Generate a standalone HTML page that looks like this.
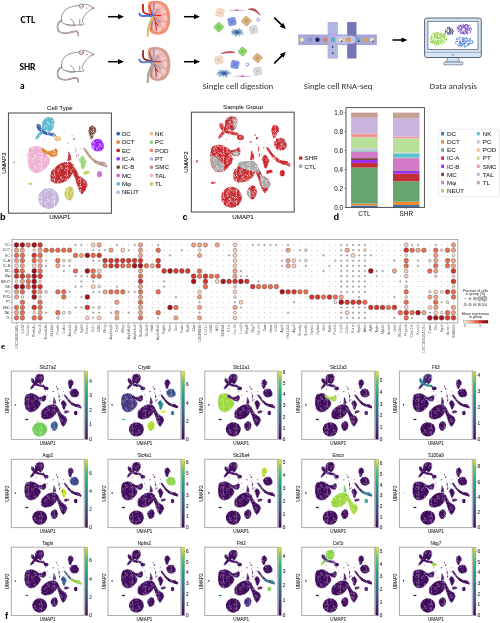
<!DOCTYPE html>
<html><head><meta charset="utf-8"><style>
html,body{margin:0;padding:0;background:#fff;overflow:hidden;width:500px;height:623px;}
svg{display:block;font-family:'Liberation Sans', Arial, sans-serif;}
</style></head><body>
<svg width="500" height="623" viewBox="0 0 500 623">
<rect width="500" height="623" fill="#fff"/>
<defs><pattern id="spkpat" patternUnits="userSpaceOnUse" width="13" height="11"><rect width="13" height="11" fill="#fff"/><circle cx="5.88" cy="6.16" r="0.53" fill="#000"/><circle cx="6.05" cy="5.59" r="0.43" fill="#000"/><circle cx="2.40" cy="5.63" r="0.44" fill="#000"/><circle cx="10.31" cy="1.04" r="0.34" fill="#000"/><circle cx="1.18" cy="8.91" r="0.46" fill="#000"/><circle cx="0.54" cy="10.80" r="0.54" fill="#000"/><circle cx="8.50" cy="6.77" r="0.30" fill="#000"/><circle cx="0.20" cy="5.81" r="0.27" fill="#000"/><circle cx="2.47" cy="2.66" r="0.26" fill="#000"/><circle cx="6.03" cy="4.85" r="0.50" fill="#000"/><circle cx="6.75" cy="7.04" r="0.40" fill="#000"/><circle cx="8.61" cy="5.03" r="0.33" fill="#000"/><circle cx="12.97" cy="10.95" r="0.50" fill="#000"/><circle cx="9.20" cy="3.47" r="0.32" fill="#000"/><circle cx="3.76" cy="0.77" r="0.48" fill="#000"/><circle cx="5.21" cy="9.31" r="0.37" fill="#000"/><circle cx="12.45" cy="9.32" r="0.25" fill="#000"/><circle cx="2.73" cy="10.01" r="0.39" fill="#000"/><circle cx="12.74" cy="4.37" r="0.27" fill="#000"/><circle cx="8.18" cy="8.56" r="0.33" fill="#000"/><circle cx="1.13" cy="3.66" r="0.54" fill="#000"/><circle cx="9.85" cy="1.30" r="0.32" fill="#000"/><circle cx="1.31" cy="0.66" r="0.49" fill="#000"/><circle cx="2.31" cy="6.15" r="0.38" fill="#000"/><circle cx="2.48" cy="8.05" r="0.29" fill="#000"/><circle cx="8.37" cy="1.28" r="0.38" fill="#000"/><circle cx="2.77" cy="2.97" r="0.54" fill="#000"/><circle cx="10.44" cy="3.35" r="0.52" fill="#000"/><circle cx="2.74" cy="4.34" r="0.51" fill="#000"/><circle cx="8.34" cy="1.10" r="0.55" fill="#000"/><circle cx="2.77" cy="2.84" r="0.48" fill="#000"/><circle cx="4.28" cy="3.26" r="0.27" fill="#000"/><circle cx="1.17" cy="6.41" r="0.32" fill="#000"/><circle cx="7.82" cy="4.09" r="0.39" fill="#000"/><circle cx="12.47" cy="5.32" r="0.42" fill="#000"/><circle cx="11.26" cy="2.01" r="0.30" fill="#000"/><circle cx="11.81" cy="9.00" r="0.32" fill="#000"/><circle cx="2.47" cy="8.13" r="0.53" fill="#000"/><circle cx="2.56" cy="10.45" r="0.51" fill="#000"/><circle cx="7.85" cy="4.64" r="0.28" fill="#000"/><circle cx="0.50" cy="10.59" r="0.32" fill="#000"/><circle cx="9.16" cy="2.83" r="0.50" fill="#000"/><circle cx="7.75" cy="3.23" r="0.30" fill="#000"/><circle cx="9.36" cy="0.76" r="0.32" fill="#000"/><circle cx="7.27" cy="9.38" r="0.43" fill="#000"/><circle cx="3.64" cy="10.09" r="0.31" fill="#000"/><circle cx="0.22" cy="2.96" r="0.38" fill="#000"/><circle cx="0.79" cy="1.94" r="0.36" fill="#000"/></pattern><mask id="spk" maskUnits="userSpaceOnUse" x="0" y="0" width="500" height="623"><rect width="500" height="623" fill="url(#spkpat)"/></mask><pattern id="spkpat2" patternUnits="userSpaceOnUse" width="13" height="11"><rect width="13" height="11" fill="#fff"/><circle cx="5.88" cy="6.16" r="0.53" fill="#777"/><circle cx="6.05" cy="5.59" r="0.43" fill="#777"/><circle cx="2.40" cy="5.63" r="0.44" fill="#777"/><circle cx="10.31" cy="1.04" r="0.34" fill="#777"/><circle cx="1.18" cy="8.91" r="0.46" fill="#777"/><circle cx="0.54" cy="10.80" r="0.54" fill="#777"/><circle cx="8.50" cy="6.77" r="0.30" fill="#777"/><circle cx="0.20" cy="5.81" r="0.27" fill="#777"/><circle cx="2.47" cy="2.66" r="0.26" fill="#777"/><circle cx="6.03" cy="4.85" r="0.50" fill="#777"/><circle cx="6.75" cy="7.04" r="0.40" fill="#777"/><circle cx="8.61" cy="5.03" r="0.33" fill="#777"/><circle cx="12.97" cy="10.95" r="0.50" fill="#777"/><circle cx="9.20" cy="3.47" r="0.32" fill="#777"/><circle cx="3.76" cy="0.77" r="0.48" fill="#777"/><circle cx="5.21" cy="9.31" r="0.37" fill="#777"/><circle cx="12.45" cy="9.32" r="0.25" fill="#777"/><circle cx="2.73" cy="10.01" r="0.39" fill="#777"/><circle cx="12.74" cy="4.37" r="0.27" fill="#777"/><circle cx="8.18" cy="8.56" r="0.33" fill="#777"/><circle cx="1.13" cy="3.66" r="0.54" fill="#777"/><circle cx="9.85" cy="1.30" r="0.32" fill="#777"/><circle cx="1.31" cy="0.66" r="0.49" fill="#777"/><circle cx="2.31" cy="6.15" r="0.38" fill="#777"/><circle cx="2.48" cy="8.05" r="0.29" fill="#777"/><circle cx="8.37" cy="1.28" r="0.38" fill="#777"/><circle cx="2.77" cy="2.97" r="0.54" fill="#777"/><circle cx="10.44" cy="3.35" r="0.52" fill="#777"/><circle cx="2.74" cy="4.34" r="0.51" fill="#777"/><circle cx="8.34" cy="1.10" r="0.55" fill="#777"/><circle cx="2.77" cy="2.84" r="0.48" fill="#777"/><circle cx="4.28" cy="3.26" r="0.27" fill="#777"/><circle cx="1.17" cy="6.41" r="0.32" fill="#777"/><circle cx="7.82" cy="4.09" r="0.39" fill="#777"/><circle cx="12.47" cy="5.32" r="0.42" fill="#777"/><circle cx="11.26" cy="2.01" r="0.30" fill="#777"/><circle cx="11.81" cy="9.00" r="0.32" fill="#777"/><circle cx="2.47" cy="8.13" r="0.53" fill="#777"/><circle cx="2.56" cy="10.45" r="0.51" fill="#777"/><circle cx="7.85" cy="4.64" r="0.28" fill="#777"/><circle cx="0.50" cy="10.59" r="0.32" fill="#777"/><circle cx="9.16" cy="2.83" r="0.50" fill="#777"/><circle cx="7.75" cy="3.23" r="0.30" fill="#777"/><circle cx="9.36" cy="0.76" r="0.32" fill="#777"/><circle cx="7.27" cy="9.38" r="0.43" fill="#777"/><circle cx="3.64" cy="10.09" r="0.31" fill="#777"/><circle cx="0.22" cy="2.96" r="0.38" fill="#777"/><circle cx="0.79" cy="1.94" r="0.36" fill="#777"/></pattern><mask id="spk2" maskUnits="userSpaceOnUse" x="0" y="0" width="500" height="623"><rect width="500" height="623" fill="url(#spkpat2)"/></mask><pattern id="gspk" patternUnits="userSpaceOnUse" width="13" height="11"><circle cx="7.44" cy="1.45" r="0.46" fill="#a8a8a8"/><circle cx="11.58" cy="10.79" r="0.55" fill="#a8a8a8"/><circle cx="8.99" cy="6.43" r="0.39" fill="#a8a8a8"/><circle cx="0.46" cy="0.20" r="0.62" fill="#a8a8a8"/><circle cx="9.11" cy="10.59" r="0.36" fill="#a8a8a8"/><circle cx="8.27" cy="5.30" r="0.57" fill="#a8a8a8"/><circle cx="4.15" cy="10.99" r="0.37" fill="#a8a8a8"/><circle cx="7.10" cy="8.11" r="0.62" fill="#a8a8a8"/><circle cx="9.58" cy="7.74" r="0.59" fill="#a8a8a8"/><circle cx="11.90" cy="3.87" r="0.56" fill="#a8a8a8"/><circle cx="11.71" cy="9.58" r="0.48" fill="#a8a8a8"/><circle cx="10.28" cy="9.50" r="0.52" fill="#a8a8a8"/><circle cx="8.12" cy="4.21" r="0.52" fill="#a8a8a8"/><circle cx="7.92" cy="0.88" r="0.54" fill="#a8a8a8"/><circle cx="12.91" cy="9.68" r="0.57" fill="#a8a8a8"/><circle cx="5.05" cy="8.09" r="0.52" fill="#a8a8a8"/><circle cx="5.73" cy="9.22" r="0.38" fill="#a8a8a8"/><circle cx="9.75" cy="0.33" r="0.53" fill="#a8a8a8"/><circle cx="6.25" cy="2.53" r="0.56" fill="#a8a8a8"/><circle cx="6.46" cy="6.76" r="0.63" fill="#a8a8a8"/><circle cx="3.33" cy="0.12" r="0.44" fill="#a8a8a8"/><circle cx="8.82" cy="2.23" r="0.40" fill="#a8a8a8"/><circle cx="11.77" cy="7.26" r="0.48" fill="#a8a8a8"/><circle cx="11.59" cy="3.60" r="0.55" fill="#a8a8a8"/><circle cx="2.58" cy="4.74" r="0.59" fill="#a8a8a8"/><circle cx="11.88" cy="9.68" r="0.47" fill="#a8a8a8"/><circle cx="7.58" cy="3.48" r="0.39" fill="#a8a8a8"/><circle cx="6.45" cy="9.21" r="0.60" fill="#a8a8a8"/><circle cx="9.25" cy="10.45" r="0.43" fill="#a8a8a8"/><circle cx="2.20" cy="4.96" r="0.43" fill="#a8a8a8"/></pattern></defs>
<g mask="url(#spk)"><ellipse cx="48.63" cy="198.47" rx="10.50" ry="10.52" fill="#c4b2dc"/><polygon points="30.1,147.6 35.3,146.1 40.4,146.6 43.0,149.1 45.5,153.1 48.6,157.1 49.7,160.1 48.6,164.1 45.5,168.1 41.4,171.6 36.3,172.8 32.2,171.8 29.1,168.1 27.6,162.1 27.6,154.1 28.6,150.1" fill="#eeb0d0" stroke="#eeb0d0" stroke-width="0.9" stroke-dasharray="0.01 1.1" stroke-linecap="round"/><polygon points="51.7,171.1 55.8,167.1 60.0,164.1 64.1,162.6 70.2,162.1 73.8,165.6 74.4,169.1 72.3,173.1 70.2,177.1 66.1,181.1 60.0,183.1 54.8,183.1 51.2,181.1 50.7,175.1" fill="#c0262c" stroke="#c0262c" stroke-width="0.9" stroke-dasharray="0.01 1.1" stroke-linecap="round"/><polygon points="73.3,166.1 76.4,171.1 79.0,176.1 85.7,180.6 87.2,185.1 85.2,190.2 82.1,194.2 79.5,191.2 77.4,185.1 75.9,180.1 74.4,176.1 72.3,171.1" fill="#c0262c" stroke="#c0262c" stroke-width="0.9" stroke-dasharray="0.01 1.1" stroke-linecap="round"/><polygon points="68.7,152.1 70.2,155.1 71.3,160.1 67.7,160.6 68.2,156.1" fill="#c0262c" stroke="#c0262c" stroke-width="0.9" stroke-dasharray="0.01 1.1" stroke-linecap="round"/><polygon points="41.4,148.1 44.5,149.1 47.6,151.6 51.7,151.1 55.8,148.6 57.4,150.1 56.9,155.1 54.8,157.1 50.7,156.6 47.6,154.1 44.5,153.1 41.4,151.1" fill="#e8822a" stroke="#e8822a" stroke-width="0.9" stroke-dasharray="0.01 1.1" stroke-linecap="round"/><polygon points="44.5,119.0 47.6,117.5 52.7,118.0 54.3,121.0 53.8,126.0 51.7,130.0 49.7,132.0 46.6,129.5 42.5,133.0 38.3,138.1 35.8,139.3 36.3,136.5 40.4,131.0 42.5,127.0 42.5,122.0" fill="#5ab8d0" stroke="#5ab8d0" stroke-width="0.9" stroke-dasharray="0.01 1.1" stroke-linecap="round"/><polygon points="37.3,124.0 40.4,125.0 41.4,129.0 44.5,131.5 49.7,133.0 53.8,133.5 56.0,135.2 54.8,136.5 50.7,135.5 45.5,134.5 41.4,132.5 38.3,130.0 36.8,127.0" fill="#2c5fb0" stroke="#2c5fb0" stroke-width="0.9" stroke-dasharray="0.01 1.1" stroke-linecap="round"/><ellipse cx="57.69" cy="138.45" rx="3.40" ry="2.71" fill="#f0c080"/><polygon points="89.8,127.0 92.9,125.5 95.5,128.0 96.0,132.0 93.9,134.0 92.9,138.1 90.8,138.9 89.8,135.0 88.8,131.0" fill="#7a4a3c" stroke="#7a4a3c" stroke-width="0.9" stroke-dasharray="0.01 1.1" stroke-linecap="round"/><polygon points="93.9,140.1 98.0,139.1 101.1,140.1 103.2,144.1 103.7,148.1 101.1,150.6 97.0,151.1 93.9,150.1 91.8,147.1 91.3,143.1" fill="#9a22ff" stroke="#9a22ff" stroke-width="0.9" stroke-dasharray="0.01 1.1" stroke-linecap="round"/><polygon points="83.6,148.1 85.2,148.6 89.8,155.1 94.9,160.1 99.1,162.1 104.2,162.6 107.1,165.1 106.8,167.1 104.2,166.1 99.1,164.6 93.9,162.1 88.8,157.1 84.1,150.1" fill="#b89488" stroke="#b89488" stroke-width="0.9" stroke-dasharray="0.01 1.1" stroke-linecap="round"/><polygon points="93.9,158.6 94.9,160.1 99.1,162.1 104.2,162.6 107.1,165.1 106.8,167.1 104.2,166.1 99.1,164.6 93.9,162.1 92.4,160.1" fill="#b89488" stroke="#b89488" stroke-width="0.9" stroke-dasharray="0.01 1.1" stroke-linecap="round"/><polygon points="80.5,157.1 82.6,156.1 84.6,158.1 86.2,162.1 84.6,166.1 83.1,169.6 81.6,168.1 80.5,163.1 79.0,160.1" fill="#90d870" stroke="#90d870" stroke-width="0.9" stroke-dasharray="0.01 1.1" stroke-linecap="round"/><polygon points="83.6,172.1 86.7,171.1 89.5,171.6 89.3,173.1 86.7,174.1 84.1,174.7" fill="#c8c860" stroke="#c8c860" stroke-width="0.9" stroke-dasharray="0.01 1.1" stroke-linecap="round"/><ellipse cx="99.46" cy="174.32" rx="2.47" ry="3.31" fill="#cf6ccf"/><polygon points="66.1,189.2 69.2,186.6 72.3,187.6 73.8,192.2 72.8,197.2 70.2,200.2 67.2,199.7 65.1,196.2 64.6,192.2" fill="#c8c860" stroke="#c8c860" stroke-width="0.9" stroke-dasharray="0.01 1.1" stroke-linecap="round"/><ellipse cx="30.31" cy="183.84" rx="2.47" ry="1.10" fill="#c8c860"/><ellipse cx="14.26" cy="162.40" rx="1.03" ry="1.30" fill="#a9c0e8"/><ellipse cx="67.77" cy="143.06" rx="1.03" ry="0.80" fill="#ee8a88"/><ellipse cx="74.05" cy="139.05" rx="1.03" ry="1.20" fill="#b89488"/><ellipse cx="78.47" cy="155.08" rx="0.62" ry="0.60" fill="#9a22ff"/><ellipse cx="80.94" cy="148.57" rx="0.72" ry="0.50" fill="#cf6ccf"/><ellipse cx="72.20" cy="135.85" rx="0.82" ry="0.80" fill="#c8a0a0"/><ellipse cx="75.90" cy="150.07" rx="0.45" ry="3.01" fill="#c8a0a0"/><ellipse cx="76.41" cy="156.09" rx="0.51" ry="2.00" fill="#c8a0a0"/><ellipse cx="80.53" cy="160.09" rx="0.45" ry="1.00" fill="#c8a0a0"/><ellipse cx="72.20" cy="166.11" rx="0.62" ry="0.60" fill="#c8a0a0"/><ellipse cx="63.04" cy="157.09" rx="0.45" ry="0.45" fill="#c8a0a0"/><ellipse cx="74.36" cy="145.06" rx="0.45" ry="0.45" fill="#c8a0a0"/><ellipse cx="59.95" cy="148.07" rx="0.45" ry="0.45" fill="#c8a0a0"/><ellipse cx="56.86" cy="143.06" rx="0.45" ry="0.45" fill="#c8a0a0"/><ellipse cx="43.49" cy="140.05" rx="0.51" ry="0.50" fill="#c8a0a0"/><ellipse cx="82.59" cy="143.06" rx="0.45" ry="0.45" fill="#c8a0a0"/><ellipse cx="70.24" cy="199.17" rx="0.51" ry="0.50" fill="#c8a0a0"/><ellipse cx="53.78" cy="176.13" rx="0.45" ry="0.45" fill="#c8a0a0"/><ellipse cx="45.54" cy="186.15" rx="0.45" ry="0.45" fill="#c8a0a0"/></g><rect x="8.50" y="113.00" width="102.90" height="100.20" fill="none" stroke="#555" stroke-width="1.1"/>
<text x="59.90" y="109.80" font-size="6.2" text-anchor="middle" fill="#1a1a1a" stroke="#1a1a1a" stroke-width="0.06">Cell Type</text>
<text x="59.90" y="219.20" font-size="6.2" text-anchor="middle" fill="#000" stroke="#000" stroke-width="0.05">UMAP1</text>
<text x="5.60" y="163.00" font-size="6.2" text-anchor="middle" fill="#000" stroke="#000" stroke-width="0.05" transform="rotate(-90 5.60 163.00)">UMAP2</text>
<text x="0.00" y="220.00" font-size="9.2" text-anchor="start" fill="#000" font-weight="bold">b</text>
<circle cx="118.2" cy="133.70" r="1.85" fill="#2c5fb0"/>
<text x="121.90" y="135.90" font-size="6.2" text-anchor="start" fill="#1a1a1a" stroke="#1a1a1a" stroke-width="0.05">DC</text>
<circle cx="118.2" cy="142.05" r="1.85" fill="#e8822a"/>
<text x="121.90" y="144.25" font-size="6.2" text-anchor="start" fill="#1a1a1a" stroke="#1a1a1a" stroke-width="0.05">DCT</text>
<circle cx="118.2" cy="150.40" r="1.85" fill="#c0262c"/>
<text x="121.90" y="152.60" font-size="6.2" text-anchor="start" fill="#1a1a1a" stroke="#1a1a1a" stroke-width="0.05">EC</text>
<circle cx="118.2" cy="158.75" r="1.85" fill="#9a22ff"/>
<text x="121.90" y="160.95" font-size="6.2" text-anchor="start" fill="#1a1a1a" stroke="#1a1a1a" stroke-width="0.05">IC-A</text>
<circle cx="118.2" cy="167.10" r="1.85" fill="#7a4a3c"/>
<text x="121.90" y="169.30" font-size="6.2" text-anchor="start" fill="#1a1a1a" stroke="#1a1a1a" stroke-width="0.05">IC-B</text>
<circle cx="118.2" cy="175.45" r="1.85" fill="#cf6ccf"/>
<text x="121.90" y="177.65" font-size="6.2" text-anchor="start" fill="#1a1a1a" stroke="#1a1a1a" stroke-width="0.05">MC</text>
<circle cx="118.2" cy="183.80" r="1.85" fill="#5ab8d0"/>
<text x="121.90" y="186.00" font-size="6.2" text-anchor="start" fill="#1a1a1a" stroke="#1a1a1a" stroke-width="0.05">Mφ</text>
<circle cx="118.2" cy="192.15" r="1.85" fill="#a9c0e8"/>
<text x="121.90" y="194.35" font-size="6.2" text-anchor="start" fill="#1a1a1a" stroke="#1a1a1a" stroke-width="0.05">NEUT</text>
<circle cx="151.4" cy="133.70" r="1.85" fill="#f0c080"/>
<text x="155.10" y="135.90" font-size="6.2" text-anchor="start" fill="#1a1a1a" stroke="#1a1a1a" stroke-width="0.05">NK</text>
<circle cx="151.4" cy="142.05" r="1.85" fill="#90d870"/>
<text x="155.10" y="144.25" font-size="6.2" text-anchor="start" fill="#1a1a1a" stroke="#1a1a1a" stroke-width="0.05">PC</text>
<circle cx="151.4" cy="150.40" r="1.85" fill="#ee8a88"/>
<text x="155.10" y="152.60" font-size="6.2" text-anchor="start" fill="#1a1a1a" stroke="#1a1a1a" stroke-width="0.05">POD</text>
<circle cx="151.4" cy="158.75" r="1.85" fill="#c4b2dc"/>
<text x="155.10" y="160.95" font-size="6.2" text-anchor="start" fill="#1a1a1a" stroke="#1a1a1a" stroke-width="0.05">PT</text>
<circle cx="151.4" cy="167.10" r="1.85" fill="#b89488"/>
<text x="155.10" y="169.30" font-size="6.2" text-anchor="start" fill="#1a1a1a" stroke="#1a1a1a" stroke-width="0.05">SMC</text>
<circle cx="151.4" cy="175.45" r="1.85" fill="#eeb0d0"/>
<text x="155.10" y="177.65" font-size="6.2" text-anchor="start" fill="#1a1a1a" stroke="#1a1a1a" stroke-width="0.05">TAL</text>
<circle cx="151.4" cy="183.80" r="1.85" fill="#c8c860"/>
<text x="155.10" y="186.00" font-size="6.2" text-anchor="start" fill="#1a1a1a" stroke="#1a1a1a" stroke-width="0.05">TL</text>
<g mask="url(#spk)"><ellipse cx="231.49" cy="197.33" rx="10.49" ry="10.48" fill="#cc2229"/><polygon points="213.0,146.6 218.1,145.1 223.3,145.6 225.8,148.1 228.4,152.1 231.5,156.1 232.5,159.1 231.5,163.1 228.4,167.1 224.3,170.6 219.2,171.8 215.0,170.8 212.0,167.1 210.5,161.1 210.5,153.1 211.4,149.1" fill="#cc2229" stroke="#cc2229" stroke-width="0.9" stroke-dasharray="0.01 1.1" stroke-linecap="round"/><polygon points="234.6,170.1 238.7,166.1 242.8,163.1 246.9,161.6 253.1,161.1 256.7,164.6 257.2,168.1 255.1,172.1 253.1,176.1 249.0,180.1 242.8,182.1 237.7,182.1 234.1,180.1 233.5,174.1" fill="#cc2229" stroke="#cc2229" stroke-width="0.9" stroke-dasharray="0.01 1.1" stroke-linecap="round"/><polygon points="256.2,165.1 259.2,170.1 261.8,175.1 268.5,179.6 270.0,184.1 268.0,189.0 264.9,193.0 262.3,190.0 260.3,184.1 258.7,179.1 257.2,175.1 255.1,170.1" fill="#cc2229" stroke="#cc2229" stroke-width="0.9" stroke-dasharray="0.01 1.1" stroke-linecap="round"/><polygon points="251.5,151.1 253.1,154.1 254.1,159.1 250.5,159.6 251.0,155.1" fill="#cc2229" stroke="#cc2229" stroke-width="0.9" stroke-dasharray="0.01 1.1" stroke-linecap="round"/><polygon points="224.3,147.1 227.4,148.1 230.5,150.6 234.6,150.1 238.7,147.6 240.2,149.1 239.7,154.1 237.7,156.1 233.5,155.6 230.5,153.1 227.4,152.1 224.3,150.1" fill="#cc2229" stroke="#cc2229" stroke-width="0.9" stroke-dasharray="0.01 1.1" stroke-linecap="round"/><polygon points="227.4,118.2 230.5,116.7 235.6,117.2 237.1,120.2 236.6,125.2 234.6,129.2 232.5,131.2 229.4,128.7 225.3,132.2 221.2,137.2 218.6,138.3 219.2,135.7 223.3,130.2 225.3,126.2 225.3,121.2" fill="#cc2229" stroke="#cc2229" stroke-width="0.9" stroke-dasharray="0.01 1.1" stroke-linecap="round"/><polygon points="220.2,123.2 223.3,124.2 224.3,128.2 227.4,130.7 232.5,132.2 236.6,132.7 238.9,134.4 237.7,135.7 233.5,134.7 228.4,133.7 224.3,131.7 221.2,129.2 219.7,126.2" fill="#cc2229" stroke="#cc2229" stroke-width="0.9" stroke-dasharray="0.01 1.1" stroke-linecap="round"/><ellipse cx="240.54" cy="137.55" rx="3.39" ry="2.69" fill="#cc2229"/><polygon points="272.6,126.2 275.7,124.7 278.3,127.2 278.8,131.2 276.7,133.2 275.7,137.2 273.6,137.9 272.6,134.2 271.6,130.2" fill="#cc2229" stroke="#cc2229" stroke-width="0.9" stroke-dasharray="0.01 1.1" stroke-linecap="round"/><polygon points="276.7,139.1 280.8,138.1 283.9,139.1 286.0,143.1 286.5,147.1 283.9,149.6 279.8,150.1 276.7,149.1 274.7,146.1 274.2,142.1" fill="#cc2229" stroke="#cc2229" stroke-width="0.9" stroke-dasharray="0.01 1.1" stroke-linecap="round"/><polygon points="266.4,147.1 268.0,147.6 272.6,154.1 277.8,159.1 281.9,161.1 287.0,161.6 289.9,164.1 289.6,166.1 287.0,165.1 281.9,163.6 276.7,161.1 271.6,156.1 267.0,149.1" fill="#cc2229" stroke="#cc2229" stroke-width="0.9" stroke-dasharray="0.01 1.1" stroke-linecap="round"/><polygon points="276.7,157.6 277.8,159.1 281.9,161.1 287.0,161.6 289.9,164.1 289.6,166.1 287.0,165.1 281.9,163.6 276.7,161.1 275.2,159.1" fill="#cc2229" stroke="#cc2229" stroke-width="0.9" stroke-dasharray="0.01 1.1" stroke-linecap="round"/><polygon points="263.4,156.1 265.4,155.1 267.5,157.1 269.0,161.1 267.5,165.1 265.9,168.6 264.4,167.1 263.4,162.1 261.8,159.1" fill="#cc2229" stroke="#cc2229" stroke-width="0.9" stroke-dasharray="0.01 1.1" stroke-linecap="round"/><polygon points="266.4,171.1 269.5,170.1 272.3,170.6 272.1,172.1 269.5,173.1 267.0,173.7" fill="#cc2229" stroke="#cc2229" stroke-width="0.9" stroke-dasharray="0.01 1.1" stroke-linecap="round"/><ellipse cx="282.28" cy="173.28" rx="2.47" ry="3.29" fill="#cc2229"/><polygon points="249.0,188.0 252.1,185.6 255.1,186.6 256.7,191.0 255.7,196.0 253.1,199.0 250.0,198.5 247.9,195.0 247.4,191.0" fill="#cc2229" stroke="#cc2229" stroke-width="0.9" stroke-dasharray="0.01 1.1" stroke-linecap="round"/><ellipse cx="213.19" cy="182.76" rx="2.47" ry="1.10" fill="#cc2229"/><ellipse cx="197.16" cy="161.40" rx="1.03" ry="1.30" fill="#cc2229"/><ellipse cx="250.61" cy="142.14" rx="1.03" ry="0.80" fill="#cc2229"/><ellipse cx="256.88" cy="138.15" rx="1.03" ry="1.20" fill="#cc2229"/><ellipse cx="261.30" cy="154.12" rx="0.62" ry="0.60" fill="#cc2229"/><ellipse cx="263.77" cy="147.63" rx="0.72" ry="0.50" fill="#cc2229"/><ellipse cx="255.03" cy="134.95" rx="0.82" ry="0.80" fill="#cc2229"/><ellipse cx="258.73" cy="149.13" rx="0.45" ry="2.99" fill="#cc2229"/><ellipse cx="259.25" cy="155.11" rx="0.51" ry="2.00" fill="#cc2229"/><ellipse cx="263.36" cy="159.11" rx="0.45" ry="1.00" fill="#cc2229"/><ellipse cx="255.03" cy="165.09" rx="0.62" ry="0.60" fill="#cc2229"/><ellipse cx="245.88" cy="156.11" rx="0.45" ry="0.45" fill="#cc2229"/><ellipse cx="257.19" cy="144.14" rx="0.45" ry="0.45" fill="#cc2229"/><ellipse cx="242.80" cy="147.13" rx="0.45" ry="0.45" fill="#cc2229"/><ellipse cx="239.72" cy="142.14" rx="0.45" ry="0.45" fill="#cc2229"/><ellipse cx="226.35" cy="139.15" rx="0.51" ry="0.50" fill="#cc2229"/><ellipse cx="265.42" cy="142.14" rx="0.45" ry="0.45" fill="#cc2229"/><ellipse cx="253.08" cy="198.03" rx="0.51" ry="0.50" fill="#cc2229"/><ellipse cx="236.63" cy="175.07" rx="0.45" ry="0.45" fill="#cc2229"/><ellipse cx="228.41" cy="185.05" rx="0.45" ry="0.45" fill="#cc2229"/><polygon points="232.5,117.2 235.6,118.2 237.1,122.2 236.6,127.2 234.1,129.2 233.0,124.2" fill="#a8a8a8"/><polygon points="210.9,155.1 214.5,156.1 218.1,158.6 221.2,161.1 224.3,165.6 222.2,171.1 217.1,171.6 213.0,169.1 210.9,162.1" fill="#a8a8a8"/><polygon points="238.7,162.1 246.9,160.9 253.1,160.9 256.7,164.6 259.2,170.1 258.7,174.1 256.2,172.1 253.1,171.6 249.0,170.6 244.9,169.1 240.7,167.6 237.7,165.1" fill="#a8a8a8"/><polygon points="259.8,174.1 263.4,176.6 268.5,179.6 270.0,184.1 268.5,188.0 264.4,188.5 260.8,184.1" fill="#a8a8a8"/><polygon points="232.5,152.1 237.7,151.1 239.7,153.1 237.7,156.1 233.5,155.6" fill="#a8a8a8"/><polygon points="247.4,191.0 249.0,189.0 251.5,192.0 251.0,198.0 248.5,196.0" fill="#a8a8a8"/><ellipse cx="231.49" cy="197.33" rx="10.49" ry="10.48" fill="url(#gspk)"/><polygon points="227.4,118.2 230.5,116.7 235.6,117.2 237.1,120.2 236.6,125.2 234.6,129.2 232.5,131.2 229.4,128.7 225.3,132.2 221.2,137.2 218.6,138.3 219.2,135.7 223.3,130.2 225.3,126.2 225.3,121.2" fill="url(#gspk)"/><polygon points="213.0,146.6 218.1,145.1 223.3,145.6 225.8,148.1 228.4,152.1 231.5,156.1 232.5,159.1 231.5,163.1 228.4,167.1 224.3,170.6 219.2,171.8 215.0,170.8 212.0,167.1 210.5,161.1 210.5,153.1 211.4,149.1" fill="url(#gspk)"/><polygon points="234.6,170.1 238.7,166.1 242.8,163.1 246.9,161.6 253.1,161.1 256.7,164.6 257.2,168.1 255.1,172.1 253.1,176.1 249.0,180.1 242.8,182.1 237.7,182.1 234.1,180.1 233.5,174.1" fill="url(#gspk)"/><polygon points="276.7,139.1 280.8,138.1 283.9,139.1 286.0,143.1 286.5,147.1 283.9,149.6 279.8,150.1 276.7,149.1 274.7,146.1 274.2,142.1" fill="url(#gspk)"/><polygon points="249.0,188.0 252.1,185.6 255.1,186.6 256.7,191.0 255.7,196.0 253.1,199.0 250.0,198.5 247.9,195.0 247.4,191.0" fill="url(#gspk)"/><polygon points="224.3,147.1 227.4,148.1 230.5,150.6 234.6,150.1 238.7,147.6 240.2,149.1 239.7,154.1 237.7,156.1 233.5,155.6 230.5,153.1 227.4,152.1 224.3,150.1" fill="url(#gspk)"/></g><rect x="191.40" y="112.20" width="102.80" height="99.80" fill="none" stroke="#555" stroke-width="1.1"/>
<text x="243.00" y="109.20" font-size="6.2" text-anchor="middle" fill="#1a1a1a" stroke="#1a1a1a" stroke-width="0.06">Sample Group</text>
<text x="243.00" y="218.60" font-size="6.2" text-anchor="middle" fill="#000" stroke="#000" stroke-width="0.05">UMAP1</text>
<text x="187.80" y="162.00" font-size="6.2" text-anchor="middle" fill="#000" stroke="#000" stroke-width="0.05" transform="rotate(-90 187.80 162.00)">UMAP2</text>
<text x="182.40" y="220.00" font-size="9.2" text-anchor="start" fill="#000" font-weight="bold">c</text>
<circle cx="300.7" cy="158" r="1.85" fill="#cc2229"/>
<text x="304.60" y="160.30" font-size="6.2" text-anchor="start" fill="#1a1a1a" stroke="#1a1a1a" stroke-width="0.05">SHR</text>
<circle cx="300.7" cy="166.2" r="1.85" fill="#a8a8a8"/>
<text x="304.60" y="168.50" font-size="6.2" text-anchor="start" fill="#1a1a1a" stroke="#1a1a1a" stroke-width="0.05">CTL</text>
<rect x="351.1" y="205.50" width="26.6" height="1.90" fill="#3a6fb5"/><rect x="351.1" y="203.61" width="26.6" height="1.90" fill="#ee8a30"/><rect x="351.1" y="167.58" width="26.6" height="36.02" fill="#66a46e"/><rect x="351.1" y="163.03" width="26.6" height="4.55" fill="#c03035"/><rect x="351.1" y="160.00" width="26.6" height="3.03" fill="#9a30f0"/><rect x="351.1" y="158.10" width="26.6" height="1.90" fill="#7a4a3c"/><rect x="351.1" y="151.94" width="26.6" height="6.16" fill="#d07ac8"/><rect x="351.1" y="151.28" width="26.6" height="0.66" fill="#b8c070"/><rect x="351.1" y="150.33" width="26.6" height="0.95" fill="#5cbfd0"/><rect x="351.1" y="148.43" width="26.6" height="1.90" fill="#b4c8ea"/><rect x="351.1" y="148.06" width="26.6" height="0.38" fill="#f0c080"/><rect x="351.1" y="137.25" width="26.6" height="10.81" fill="#b8e098"/><rect x="351.1" y="133.65" width="26.6" height="3.60" fill="#f09898"/><rect x="351.1" y="117.81" width="26.6" height="15.83" fill="#c8b4dc"/><rect x="351.1" y="112.60" width="26.6" height="5.21" fill="#c4a098"/><rect x="393.0" y="205.03" width="26.5" height="2.37" fill="#3a6fb5"/><rect x="393.0" y="201.71" width="26.5" height="3.32" fill="#ee8a30"/><rect x="393.0" y="181.33" width="26.5" height="20.38" fill="#66a46e"/><rect x="393.0" y="173.75" width="26.5" height="7.58" fill="#c03035"/><rect x="393.0" y="170.90" width="26.5" height="2.84" fill="#9a30f0"/><rect x="393.0" y="170.43" width="26.5" height="0.47" fill="#7a4a3c"/><rect x="393.0" y="158.10" width="26.5" height="12.32" fill="#d07ac8"/><rect x="393.0" y="157.63" width="26.5" height="0.47" fill="#b8c070"/><rect x="393.0" y="153.36" width="26.5" height="4.27" fill="#5cbfd0"/><rect x="393.0" y="152.89" width="26.5" height="0.47" fill="#b4c8ea"/><rect x="393.0" y="152.61" width="26.5" height="0.28" fill="#f0c080"/><rect x="393.0" y="138.39" width="26.5" height="14.22" fill="#b8e098"/><rect x="393.0" y="136.77" width="26.5" height="1.61" fill="#f09898"/><rect x="393.0" y="118.29" width="26.5" height="18.49" fill="#c8b4dc"/><rect x="393.0" y="112.60" width="26.5" height="5.69" fill="#c4a098"/><line x1="364.4" x2="364.4" y1="207.4" y2="209.0" stroke="#444" stroke-width="0.6"/><line x1="406.3" x2="406.3" y1="207.4" y2="209.0" stroke="#444" stroke-width="0.6"/><rect x="346" y="107.6" width="78.4" height="99.8" fill="none" stroke="#444" stroke-width="0.9"/>
<text x="343.00" y="209.60" font-size="6.3" text-anchor="end" fill="#1a1a1a" stroke="#1a1a1a" stroke-width="0.05">0.0</text>
<line x1="344.5" x2="346" y1="207.40" y2="207.40" stroke="#444" stroke-width="0.6"/>
<text x="343.00" y="190.64" font-size="6.3" text-anchor="end" fill="#1a1a1a" stroke="#1a1a1a" stroke-width="0.05">0.2</text>
<line x1="344.5" x2="346" y1="188.44" y2="188.44" stroke="#444" stroke-width="0.6"/>
<text x="343.00" y="171.68" font-size="6.3" text-anchor="end" fill="#1a1a1a" stroke="#1a1a1a" stroke-width="0.05">0.4</text>
<line x1="344.5" x2="346" y1="169.48" y2="169.48" stroke="#444" stroke-width="0.6"/>
<text x="343.00" y="152.72" font-size="6.3" text-anchor="end" fill="#1a1a1a" stroke="#1a1a1a" stroke-width="0.05">0.6</text>
<line x1="344.5" x2="346" y1="150.52" y2="150.52" stroke="#444" stroke-width="0.6"/>
<text x="343.00" y="133.76" font-size="6.3" text-anchor="end" fill="#1a1a1a" stroke="#1a1a1a" stroke-width="0.05">0.8</text>
<line x1="344.5" x2="346" y1="131.56" y2="131.56" stroke="#444" stroke-width="0.6"/>
<text x="343.00" y="114.80" font-size="6.3" text-anchor="end" fill="#1a1a1a" stroke="#1a1a1a" stroke-width="0.05">1.0</text>
<line x1="344.5" x2="346" y1="112.60" y2="112.60" stroke="#444" stroke-width="0.6"/>
<text x="364.40" y="216.20" font-size="6.4" text-anchor="middle" fill="#1a1a1a" stroke="#1a1a1a" stroke-width="0.05">CTL</text>
<text x="406.30" y="216.20" font-size="6.4" text-anchor="middle" fill="#1a1a1a" stroke="#1a1a1a" stroke-width="0.05">SHR</text>
<text x="333.40" y="220.20" font-size="9.2" text-anchor="start" fill="#000" font-weight="bold">d</text>
<rect x="438.4" y="129.2" width="61" height="67.2" rx="1" fill="#fff" stroke="#ddd" stroke-width="0.6"/>
<rect x="441.2" y="132.00" width="2.8" height="3.4" fill="#3a6fb5"/>
<text x="447.10" y="135.90" font-size="6.2" text-anchor="start" fill="#1a1a1a" stroke="#1a1a1a" stroke-width="0.05">DC</text>
<rect x="441.2" y="140.15" width="2.8" height="3.4" fill="#ee8a30"/>
<text x="447.10" y="144.05" font-size="6.2" text-anchor="start" fill="#1a1a1a" stroke="#1a1a1a" stroke-width="0.05">DCT</text>
<rect x="441.2" y="148.30" width="2.8" height="3.4" fill="#66a46e"/>
<text x="447.10" y="152.20" font-size="6.2" text-anchor="start" fill="#1a1a1a" stroke="#1a1a1a" stroke-width="0.05">EC</text>
<rect x="441.2" y="156.45" width="2.8" height="3.4" fill="#c03035"/>
<text x="447.10" y="160.35" font-size="6.2" text-anchor="start" fill="#1a1a1a" stroke="#1a1a1a" stroke-width="0.05">IC-A</text>
<rect x="441.2" y="164.60" width="2.8" height="3.4" fill="#9a30f0"/>
<text x="447.10" y="168.50" font-size="6.2" text-anchor="start" fill="#1a1a1a" stroke="#1a1a1a" stroke-width="0.05">IC-B</text>
<rect x="441.2" y="172.75" width="2.8" height="3.4" fill="#7a4a3c"/>
<text x="447.10" y="176.65" font-size="6.2" text-anchor="start" fill="#1a1a1a" stroke="#1a1a1a" stroke-width="0.05">MC</text>
<rect x="441.2" y="180.90" width="2.8" height="3.4" fill="#d07ac8"/>
<text x="447.10" y="184.80" font-size="6.2" text-anchor="start" fill="#1a1a1a" stroke="#1a1a1a" stroke-width="0.05">Mφ</text>
<rect x="441.2" y="189.05" width="2.8" height="3.4" fill="#b8c070"/>
<text x="447.10" y="192.95" font-size="6.2" text-anchor="start" fill="#1a1a1a" stroke="#1a1a1a" stroke-width="0.05">NEUT</text>
<rect x="476.9" y="132.00" width="2.8" height="3.4" fill="#5cbfd0"/>
<text x="482.80" y="135.90" font-size="6.2" text-anchor="start" fill="#1a1a1a" stroke="#1a1a1a" stroke-width="0.05">NK</text>
<rect x="476.9" y="140.15" width="2.8" height="3.4" fill="#b4c8ea"/>
<text x="482.80" y="144.05" font-size="6.2" text-anchor="start" fill="#1a1a1a" stroke="#1a1a1a" stroke-width="0.05">PC</text>
<rect x="476.9" y="148.30" width="2.8" height="3.4" fill="#f0c080"/>
<text x="482.80" y="152.20" font-size="6.2" text-anchor="start" fill="#1a1a1a" stroke="#1a1a1a" stroke-width="0.05">POD</text>
<rect x="476.9" y="156.45" width="2.8" height="3.4" fill="#b8e098"/>
<text x="482.80" y="160.35" font-size="6.2" text-anchor="start" fill="#1a1a1a" stroke="#1a1a1a" stroke-width="0.05">PT</text>
<rect x="476.9" y="164.60" width="2.8" height="3.4" fill="#f09898"/>
<text x="482.80" y="168.50" font-size="6.2" text-anchor="start" fill="#1a1a1a" stroke="#1a1a1a" stroke-width="0.05">SMC</text>
<rect x="476.9" y="172.75" width="2.8" height="3.4" fill="#c8b4dc"/>
<text x="482.80" y="176.65" font-size="6.2" text-anchor="start" fill="#1a1a1a" stroke="#1a1a1a" stroke-width="0.05">TAL</text>
<rect x="476.9" y="180.90" width="2.8" height="3.4" fill="#c4a098"/>
<text x="482.80" y="184.80" font-size="6.2" text-anchor="start" fill="#1a1a1a" stroke="#1a1a1a" stroke-width="0.05">TL</text>
<rect x="12" y="239.4" width="445.8" height="83.5" fill="#fff" stroke="#999" stroke-width="0.8"/><circle cx="16.50" cy="245.00" r="2.45" fill="#a8111c" stroke="#444" stroke-width="0.4"/><circle cx="22.41" cy="245.00" r="2.45" fill="#a8111c" stroke="#444" stroke-width="0.4"/><circle cx="28.31" cy="245.00" r="2.3" fill="#eb6d4e" stroke="#444" stroke-width="0.4"/><circle cx="34.22" cy="245.00" r="2.45" fill="#a8111c" stroke="#444" stroke-width="0.4"/><circle cx="40.12" cy="245.00" r="2.4" fill="#d4372a" stroke="#444" stroke-width="0.4"/><circle cx="46.03" cy="245.00" r="0.45" fill="#8a8a8a"/><circle cx="51.93" cy="245.00" r="0.45" fill="#8a8a8a"/><circle cx="57.84" cy="245.00" r="0.45" fill="#8a8a8a"/><circle cx="63.74" cy="245.00" r="0.45" fill="#8a8a8a"/><circle cx="69.65" cy="245.00" r="0.45" fill="#8a8a8a"/><circle cx="75.55" cy="245.00" r="0.8" fill="#d8cfcb" stroke="#555" stroke-width="0.4"/><circle cx="81.45" cy="245.00" r="0.8" fill="#d8cfcb" stroke="#555" stroke-width="0.4"/><circle cx="87.36" cy="245.00" r="0.45" fill="#8a8a8a"/><circle cx="93.27" cy="245.00" r="1.95" fill="#fcd2bd" stroke="#444" stroke-width="0.4"/><circle cx="99.17" cy="245.00" r="2.15" fill="#f5a182" stroke="#444" stroke-width="0.4"/><circle cx="105.08" cy="245.00" r="0.45" fill="#8a8a8a"/><circle cx="110.98" cy="245.00" r="0.45" fill="#8a8a8a"/><circle cx="116.89" cy="245.00" r="0.8" fill="#d8cfcb" stroke="#555" stroke-width="0.4"/><circle cx="122.79" cy="245.00" r="0.45" fill="#8a8a8a"/><circle cx="128.69" cy="245.00" r="0.45" fill="#8a8a8a"/><circle cx="134.60" cy="245.00" r="0.8" fill="#d8cfcb" stroke="#555" stroke-width="0.4"/><circle cx="140.50" cy="245.00" r="2.15" fill="#f5a182" stroke="#444" stroke-width="0.4"/><circle cx="146.41" cy="245.00" r="0.45" fill="#8a8a8a"/><circle cx="152.31" cy="245.00" r="0.45" fill="#8a8a8a"/><circle cx="158.22" cy="245.00" r="0.8" fill="#d8cfcb" stroke="#555" stroke-width="0.4"/><circle cx="164.12" cy="245.00" r="0.45" fill="#8a8a8a"/><circle cx="170.03" cy="245.00" r="0.45" fill="#8a8a8a"/><circle cx="175.94" cy="245.00" r="0.45" fill="#8a8a8a"/><circle cx="181.84" cy="245.00" r="0.45" fill="#8a8a8a"/><circle cx="187.75" cy="245.00" r="0.45" fill="#8a8a8a"/><circle cx="193.65" cy="245.00" r="2.15" fill="#f5a182" stroke="#444" stroke-width="0.4"/><circle cx="199.56" cy="245.00" r="2.15" fill="#f5a182" stroke="#444" stroke-width="0.4"/><circle cx="205.46" cy="245.00" r="2.15" fill="#f5a182" stroke="#444" stroke-width="0.4"/><circle cx="211.37" cy="245.00" r="0.45" fill="#8a8a8a"/><circle cx="217.27" cy="245.00" r="2.15" fill="#f5a182" stroke="#444" stroke-width="0.4"/><circle cx="223.18" cy="245.00" r="0.45" fill="#8a8a8a"/><circle cx="229.08" cy="245.00" r="0.45" fill="#8a8a8a"/><circle cx="234.99" cy="245.00" r="1.95" fill="#fcd2bd" stroke="#444" stroke-width="0.4"/><circle cx="240.89" cy="245.00" r="0.45" fill="#8a8a8a"/><circle cx="246.80" cy="245.00" r="0.45" fill="#8a8a8a"/><circle cx="252.70" cy="245.00" r="0.8" fill="#d8cfcb" stroke="#555" stroke-width="0.4"/><circle cx="258.61" cy="245.00" r="0.8" fill="#d8cfcb" stroke="#555" stroke-width="0.4"/><circle cx="264.51" cy="245.00" r="0.8" fill="#d8cfcb" stroke="#555" stroke-width="0.4"/><circle cx="270.42" cy="245.00" r="0.8" fill="#d8cfcb" stroke="#555" stroke-width="0.4"/><circle cx="276.32" cy="245.00" r="0.8" fill="#d8cfcb" stroke="#555" stroke-width="0.4"/><circle cx="282.23" cy="245.00" r="0.45" fill="#8a8a8a"/><circle cx="288.13" cy="245.00" r="0.8" fill="#d8cfcb" stroke="#555" stroke-width="0.4"/><circle cx="294.04" cy="245.00" r="0.45" fill="#8a8a8a"/><circle cx="299.94" cy="245.00" r="0.45" fill="#8a8a8a"/><circle cx="305.85" cy="245.00" r="0.45" fill="#8a8a8a"/><circle cx="311.75" cy="245.00" r="0.45" fill="#8a8a8a"/><circle cx="317.66" cy="245.00" r="0.45" fill="#8a8a8a"/><circle cx="323.56" cy="245.00" r="0.45" fill="#8a8a8a"/><circle cx="329.47" cy="245.00" r="0.45" fill="#8a8a8a"/><circle cx="335.37" cy="245.00" r="0.45" fill="#8a8a8a"/><circle cx="341.28" cy="245.00" r="0.8" fill="#d8cfcb" stroke="#555" stroke-width="0.4"/><circle cx="347.18" cy="245.00" r="0.8" fill="#d8cfcb" stroke="#555" stroke-width="0.4"/><circle cx="353.09" cy="245.00" r="0.8" fill="#d8cfcb" stroke="#555" stroke-width="0.4"/><circle cx="358.99" cy="245.00" r="0.8" fill="#d8cfcb" stroke="#555" stroke-width="0.4"/><circle cx="364.90" cy="245.00" r="0.8" fill="#d8cfcb" stroke="#555" stroke-width="0.4"/><circle cx="370.80" cy="245.00" r="0.45" fill="#8a8a8a"/><circle cx="376.71" cy="245.00" r="0.45" fill="#8a8a8a"/><circle cx="382.61" cy="245.00" r="0.45" fill="#8a8a8a"/><circle cx="388.52" cy="245.00" r="0.45" fill="#8a8a8a"/><circle cx="394.42" cy="245.00" r="0.45" fill="#8a8a8a"/><circle cx="400.32" cy="245.00" r="0.45" fill="#8a8a8a"/><circle cx="406.23" cy="245.00" r="1.95" fill="#fcd2bd" stroke="#444" stroke-width="0.4"/><circle cx="412.13" cy="245.00" r="0.8" fill="#d8cfcb" stroke="#555" stroke-width="0.4"/><circle cx="418.04" cy="245.00" r="0.8" fill="#d8cfcb" stroke="#555" stroke-width="0.4"/><circle cx="423.94" cy="245.00" r="0.45" fill="#8a8a8a"/><circle cx="429.85" cy="245.00" r="0.45" fill="#8a8a8a"/><circle cx="435.75" cy="245.00" r="0.8" fill="#d8cfcb" stroke="#555" stroke-width="0.4"/><circle cx="441.66" cy="245.00" r="0.45" fill="#8a8a8a"/><circle cx="447.56" cy="245.00" r="0.45" fill="#8a8a8a"/><circle cx="453.47" cy="245.00" r="2.15" fill="#f5a182" stroke="#444" stroke-width="0.4"/><circle cx="16.50" cy="250.21" r="2.15" fill="#f5a182" stroke="#444" stroke-width="0.4"/><circle cx="22.41" cy="250.21" r="2.15" fill="#f5a182" stroke="#444" stroke-width="0.4"/><circle cx="28.31" cy="250.21" r="0.45" fill="#8a8a8a"/><circle cx="34.22" cy="250.21" r="1.4" fill="#fde3d6" stroke="#444" stroke-width="0.4"/><circle cx="40.12" cy="250.21" r="2.15" fill="#f5a182" stroke="#444" stroke-width="0.4"/><circle cx="46.03" cy="250.21" r="2.3" fill="#eb6d4e" stroke="#444" stroke-width="0.4"/><circle cx="51.93" cy="250.21" r="2.3" fill="#eb6d4e" stroke="#444" stroke-width="0.4"/><circle cx="57.84" cy="250.21" r="2.3" fill="#eb6d4e" stroke="#444" stroke-width="0.4"/><circle cx="63.74" cy="250.21" r="2.3" fill="#eb6d4e" stroke="#444" stroke-width="0.4"/><circle cx="69.65" cy="250.21" r="2.3" fill="#eb6d4e" stroke="#444" stroke-width="0.4"/><circle cx="75.55" cy="250.21" r="0.45" fill="#8a8a8a"/><circle cx="81.45" cy="250.21" r="0.45" fill="#8a8a8a"/><circle cx="87.36" cy="250.21" r="0.45" fill="#8a8a8a"/><circle cx="93.27" cy="250.21" r="0.8" fill="#d8cfcb" stroke="#555" stroke-width="0.4"/><circle cx="99.17" cy="250.21" r="0.8" fill="#d8cfcb" stroke="#555" stroke-width="0.4"/><circle cx="105.08" cy="250.21" r="0.8" fill="#d8cfcb" stroke="#555" stroke-width="0.4"/><circle cx="110.98" cy="250.21" r="2.15" fill="#f5a182" stroke="#444" stroke-width="0.4"/><circle cx="116.89" cy="250.21" r="0.45" fill="#8a8a8a"/><circle cx="122.79" cy="250.21" r="1.95" fill="#fcd2bd" stroke="#444" stroke-width="0.4"/><circle cx="128.69" cy="250.21" r="0.8" fill="#d8cfcb" stroke="#555" stroke-width="0.4"/><circle cx="134.60" cy="250.21" r="0.45" fill="#8a8a8a"/><circle cx="140.50" cy="250.21" r="2.15" fill="#f5a182" stroke="#444" stroke-width="0.4"/><circle cx="146.41" cy="250.21" r="0.45" fill="#8a8a8a"/><circle cx="152.31" cy="250.21" r="0.45" fill="#8a8a8a"/><circle cx="158.22" cy="250.21" r="2.3" fill="#eb6d4e" stroke="#444" stroke-width="0.4"/><circle cx="164.12" cy="250.21" r="0.45" fill="#8a8a8a"/><circle cx="170.03" cy="250.21" r="0.45" fill="#8a8a8a"/><circle cx="175.94" cy="250.21" r="0.45" fill="#8a8a8a"/><circle cx="181.84" cy="250.21" r="0.8" fill="#d8cfcb" stroke="#555" stroke-width="0.4"/><circle cx="187.75" cy="250.21" r="0.45" fill="#8a8a8a"/><circle cx="193.65" cy="250.21" r="0.45" fill="#8a8a8a"/><circle cx="199.56" cy="250.21" r="1.4" fill="#fde3d6" stroke="#444" stroke-width="0.4"/><circle cx="205.46" cy="250.21" r="0.45" fill="#8a8a8a"/><circle cx="211.37" cy="250.21" r="0.45" fill="#8a8a8a"/><circle cx="217.27" cy="250.21" r="0.45" fill="#8a8a8a"/><circle cx="223.18" cy="250.21" r="0.45" fill="#8a8a8a"/><circle cx="229.08" cy="250.21" r="0.45" fill="#8a8a8a"/><circle cx="234.99" cy="250.21" r="1.95" fill="#fcd2bd" stroke="#444" stroke-width="0.4"/><circle cx="240.89" cy="250.21" r="0.45" fill="#8a8a8a"/><circle cx="246.80" cy="250.21" r="0.45" fill="#8a8a8a"/><circle cx="252.70" cy="250.21" r="0.45" fill="#8a8a8a"/><circle cx="258.61" cy="250.21" r="0.45" fill="#8a8a8a"/><circle cx="264.51" cy="250.21" r="0.45" fill="#8a8a8a"/><circle cx="270.42" cy="250.21" r="0.45" fill="#8a8a8a"/><circle cx="276.32" cy="250.21" r="0.45" fill="#8a8a8a"/><circle cx="282.23" cy="250.21" r="0.45" fill="#8a8a8a"/><circle cx="288.13" cy="250.21" r="2.15" fill="#f5a182" stroke="#444" stroke-width="0.4"/><circle cx="294.04" cy="250.21" r="0.45" fill="#8a8a8a"/><circle cx="299.94" cy="250.21" r="0.8" fill="#d8cfcb" stroke="#555" stroke-width="0.4"/><circle cx="305.85" cy="250.21" r="1.4" fill="#fde3d6" stroke="#444" stroke-width="0.4"/><circle cx="311.75" cy="250.21" r="0.45" fill="#8a8a8a"/><circle cx="317.66" cy="250.21" r="0.45" fill="#8a8a8a"/><circle cx="323.56" cy="250.21" r="0.45" fill="#8a8a8a"/><circle cx="329.47" cy="250.21" r="0.45" fill="#8a8a8a"/><circle cx="335.37" cy="250.21" r="0.45" fill="#8a8a8a"/><circle cx="341.28" cy="250.21" r="0.8" fill="#d8cfcb" stroke="#555" stroke-width="0.4"/><circle cx="347.18" cy="250.21" r="2.15" fill="#f5a182" stroke="#444" stroke-width="0.4"/><circle cx="353.09" cy="250.21" r="0.8" fill="#d8cfcb" stroke="#555" stroke-width="0.4"/><circle cx="358.99" cy="250.21" r="0.8" fill="#d8cfcb" stroke="#555" stroke-width="0.4"/><circle cx="364.90" cy="250.21" r="1.4" fill="#fde3d6" stroke="#444" stroke-width="0.4"/><circle cx="370.80" cy="250.21" r="0.45" fill="#8a8a8a"/><circle cx="376.71" cy="250.21" r="0.45" fill="#8a8a8a"/><circle cx="382.61" cy="250.21" r="0.45" fill="#8a8a8a"/><circle cx="388.52" cy="250.21" r="0.45" fill="#8a8a8a"/><circle cx="394.42" cy="250.21" r="0.45" fill="#8a8a8a"/><circle cx="400.32" cy="250.21" r="0.45" fill="#8a8a8a"/><circle cx="406.23" cy="250.21" r="2.4" fill="#d4372a" stroke="#444" stroke-width="0.4"/><circle cx="412.13" cy="250.21" r="2.3" fill="#eb6d4e" stroke="#444" stroke-width="0.4"/><circle cx="418.04" cy="250.21" r="2.15" fill="#f5a182" stroke="#444" stroke-width="0.4"/><circle cx="423.94" cy="250.21" r="2.3" fill="#eb6d4e" stroke="#444" stroke-width="0.4"/><circle cx="429.85" cy="250.21" r="0.45" fill="#8a8a8a"/><circle cx="435.75" cy="250.21" r="2.3" fill="#eb6d4e" stroke="#444" stroke-width="0.4"/><circle cx="441.66" cy="250.21" r="1.4" fill="#fde3d6" stroke="#444" stroke-width="0.4"/><circle cx="447.56" cy="250.21" r="2.3" fill="#eb6d4e" stroke="#444" stroke-width="0.4"/><circle cx="453.47" cy="250.21" r="2.15" fill="#f5a182" stroke="#444" stroke-width="0.4"/><circle cx="16.50" cy="255.41" r="2.3" fill="#eb6d4e" stroke="#444" stroke-width="0.4"/><circle cx="22.41" cy="255.41" r="2.3" fill="#eb6d4e" stroke="#444" stroke-width="0.4"/><circle cx="28.31" cy="255.41" r="0.45" fill="#8a8a8a"/><circle cx="34.22" cy="255.41" r="2.4" fill="#d4372a" stroke="#444" stroke-width="0.4"/><circle cx="40.12" cy="255.41" r="2.3" fill="#eb6d4e" stroke="#444" stroke-width="0.4"/><circle cx="46.03" cy="255.41" r="0.45" fill="#8a8a8a"/><circle cx="51.93" cy="255.41" r="0.45" fill="#8a8a8a"/><circle cx="57.84" cy="255.41" r="0.45" fill="#8a8a8a"/><circle cx="63.74" cy="255.41" r="0.45" fill="#8a8a8a"/><circle cx="69.65" cy="255.41" r="0.45" fill="#8a8a8a"/><circle cx="75.55" cy="255.41" r="2.3" fill="#eb6d4e" stroke="#444" stroke-width="0.4"/><circle cx="81.45" cy="255.41" r="2.15" fill="#f5a182" stroke="#444" stroke-width="0.4"/><circle cx="87.36" cy="255.41" r="2.45" fill="#a8111c" stroke="#444" stroke-width="0.4"/><circle cx="93.27" cy="255.41" r="2.3" fill="#eb6d4e" stroke="#444" stroke-width="0.4"/><circle cx="99.17" cy="255.41" r="2.4" fill="#d4372a" stroke="#444" stroke-width="0.4"/><circle cx="105.08" cy="255.41" r="0.45" fill="#8a8a8a"/><circle cx="110.98" cy="255.41" r="0.45" fill="#8a8a8a"/><circle cx="116.89" cy="255.41" r="0.45" fill="#8a8a8a"/><circle cx="122.79" cy="255.41" r="0.45" fill="#8a8a8a"/><circle cx="128.69" cy="255.41" r="0.45" fill="#8a8a8a"/><circle cx="134.60" cy="255.41" r="0.45" fill="#8a8a8a"/><circle cx="140.50" cy="255.41" r="2.15" fill="#f5a182" stroke="#444" stroke-width="0.4"/><circle cx="146.41" cy="255.41" r="0.45" fill="#8a8a8a"/><circle cx="152.31" cy="255.41" r="0.45" fill="#8a8a8a"/><circle cx="158.22" cy="255.41" r="0.45" fill="#8a8a8a"/><circle cx="164.12" cy="255.41" r="0.45" fill="#8a8a8a"/><circle cx="170.03" cy="255.41" r="0.8" fill="#d8cfcb" stroke="#555" stroke-width="0.4"/><circle cx="175.94" cy="255.41" r="0.45" fill="#8a8a8a"/><circle cx="181.84" cy="255.41" r="0.45" fill="#8a8a8a"/><circle cx="187.75" cy="255.41" r="0.45" fill="#8a8a8a"/><circle cx="193.65" cy="255.41" r="0.45" fill="#8a8a8a"/><circle cx="199.56" cy="255.41" r="2.15" fill="#f5a182" stroke="#444" stroke-width="0.4"/><circle cx="205.46" cy="255.41" r="0.45" fill="#8a8a8a"/><circle cx="211.37" cy="255.41" r="0.45" fill="#8a8a8a"/><circle cx="217.27" cy="255.41" r="0.45" fill="#8a8a8a"/><circle cx="223.18" cy="255.41" r="0.45" fill="#8a8a8a"/><circle cx="229.08" cy="255.41" r="0.8" fill="#d8cfcb" stroke="#555" stroke-width="0.4"/><circle cx="234.99" cy="255.41" r="1.95" fill="#fcd2bd" stroke="#444" stroke-width="0.4"/><circle cx="240.89" cy="255.41" r="0.45" fill="#8a8a8a"/><circle cx="246.80" cy="255.41" r="0.45" fill="#8a8a8a"/><circle cx="252.70" cy="255.41" r="0.45" fill="#8a8a8a"/><circle cx="258.61" cy="255.41" r="0.45" fill="#8a8a8a"/><circle cx="264.51" cy="255.41" r="0.45" fill="#8a8a8a"/><circle cx="270.42" cy="255.41" r="0.45" fill="#8a8a8a"/><circle cx="276.32" cy="255.41" r="0.45" fill="#8a8a8a"/><circle cx="282.23" cy="255.41" r="0.45" fill="#8a8a8a"/><circle cx="288.13" cy="255.41" r="0.45" fill="#8a8a8a"/><circle cx="294.04" cy="255.41" r="0.45" fill="#8a8a8a"/><circle cx="299.94" cy="255.41" r="0.45" fill="#8a8a8a"/><circle cx="305.85" cy="255.41" r="0.45" fill="#8a8a8a"/><circle cx="311.75" cy="255.41" r="0.45" fill="#8a8a8a"/><circle cx="317.66" cy="255.41" r="0.45" fill="#8a8a8a"/><circle cx="323.56" cy="255.41" r="0.8" fill="#d8cfcb" stroke="#555" stroke-width="0.4"/><circle cx="329.47" cy="255.41" r="0.45" fill="#8a8a8a"/><circle cx="335.37" cy="255.41" r="0.45" fill="#8a8a8a"/><circle cx="341.28" cy="255.41" r="0.8" fill="#d8cfcb" stroke="#555" stroke-width="0.4"/><circle cx="347.18" cy="255.41" r="0.8" fill="#d8cfcb" stroke="#555" stroke-width="0.4"/><circle cx="353.09" cy="255.41" r="1.95" fill="#fcd2bd" stroke="#444" stroke-width="0.4"/><circle cx="358.99" cy="255.41" r="0.8" fill="#d8cfcb" stroke="#555" stroke-width="0.4"/><circle cx="364.90" cy="255.41" r="0.8" fill="#d8cfcb" stroke="#555" stroke-width="0.4"/><circle cx="370.80" cy="255.41" r="0.8" fill="#d8cfcb" stroke="#555" stroke-width="0.4"/><circle cx="376.71" cy="255.41" r="0.45" fill="#8a8a8a"/><circle cx="382.61" cy="255.41" r="0.45" fill="#8a8a8a"/><circle cx="388.52" cy="255.41" r="0.45" fill="#8a8a8a"/><circle cx="394.42" cy="255.41" r="0.45" fill="#8a8a8a"/><circle cx="400.32" cy="255.41" r="0.45" fill="#8a8a8a"/><circle cx="406.23" cy="255.41" r="1.4" fill="#fde3d6" stroke="#444" stroke-width="0.4"/><circle cx="412.13" cy="255.41" r="0.45" fill="#8a8a8a"/><circle cx="418.04" cy="255.41" r="0.45" fill="#8a8a8a"/><circle cx="423.94" cy="255.41" r="0.45" fill="#8a8a8a"/><circle cx="429.85" cy="255.41" r="0.45" fill="#8a8a8a"/><circle cx="435.75" cy="255.41" r="2.15" fill="#f5a182" stroke="#444" stroke-width="0.4"/><circle cx="441.66" cy="255.41" r="0.45" fill="#8a8a8a"/><circle cx="447.56" cy="255.41" r="0.45" fill="#8a8a8a"/><circle cx="453.47" cy="255.41" r="1.4" fill="#fde3d6" stroke="#444" stroke-width="0.4"/><circle cx="16.50" cy="260.62" r="2.15" fill="#f5a182" stroke="#444" stroke-width="0.4"/><circle cx="22.41" cy="260.62" r="2.3" fill="#eb6d4e" stroke="#444" stroke-width="0.4"/><circle cx="28.31" cy="260.62" r="0.45" fill="#8a8a8a"/><circle cx="34.22" cy="260.62" r="2.3" fill="#eb6d4e" stroke="#444" stroke-width="0.4"/><circle cx="40.12" cy="260.62" r="2.15" fill="#f5a182" stroke="#444" stroke-width="0.4"/><circle cx="46.03" cy="260.62" r="0.8" fill="#d8cfcb" stroke="#555" stroke-width="0.4"/><circle cx="51.93" cy="260.62" r="0.45" fill="#8a8a8a"/><circle cx="57.84" cy="260.62" r="2.3" fill="#eb6d4e" stroke="#444" stroke-width="0.4"/><circle cx="63.74" cy="260.62" r="1.4" fill="#fde3d6" stroke="#444" stroke-width="0.4"/><circle cx="69.65" cy="260.62" r="1.4" fill="#fde3d6" stroke="#444" stroke-width="0.4"/><circle cx="75.55" cy="260.62" r="0.45" fill="#8a8a8a"/><circle cx="81.45" cy="260.62" r="0.45" fill="#8a8a8a"/><circle cx="87.36" cy="260.62" r="0.45" fill="#8a8a8a"/><circle cx="93.27" cy="260.62" r="0.8" fill="#d8cfcb" stroke="#555" stroke-width="0.4"/><circle cx="99.17" cy="260.62" r="0.8" fill="#d8cfcb" stroke="#555" stroke-width="0.4"/><circle cx="105.08" cy="260.62" r="2.4" fill="#d4372a" stroke="#444" stroke-width="0.4"/><circle cx="110.98" cy="260.62" r="2.4" fill="#d4372a" stroke="#444" stroke-width="0.4"/><circle cx="116.89" cy="260.62" r="2.4" fill="#d4372a" stroke="#444" stroke-width="0.4"/><circle cx="122.79" cy="260.62" r="2.4" fill="#d4372a" stroke="#444" stroke-width="0.4"/><circle cx="128.69" cy="260.62" r="2.4" fill="#d4372a" stroke="#444" stroke-width="0.4"/><circle cx="134.60" cy="260.62" r="2.4" fill="#d4372a" stroke="#444" stroke-width="0.4"/><circle cx="140.50" cy="260.62" r="2.4" fill="#d4372a" stroke="#444" stroke-width="0.4"/><circle cx="146.41" cy="260.62" r="0.45" fill="#8a8a8a"/><circle cx="152.31" cy="260.62" r="0.45" fill="#8a8a8a"/><circle cx="158.22" cy="260.62" r="2.4" fill="#d4372a" stroke="#444" stroke-width="0.4"/><circle cx="164.12" cy="260.62" r="0.45" fill="#8a8a8a"/><circle cx="170.03" cy="260.62" r="0.45" fill="#8a8a8a"/><circle cx="175.94" cy="260.62" r="0.45" fill="#8a8a8a"/><circle cx="181.84" cy="260.62" r="0.45" fill="#8a8a8a"/><circle cx="187.75" cy="260.62" r="0.45" fill="#8a8a8a"/><circle cx="193.65" cy="260.62" r="0.45" fill="#8a8a8a"/><circle cx="199.56" cy="260.62" r="0.45" fill="#8a8a8a"/><circle cx="205.46" cy="260.62" r="0.45" fill="#8a8a8a"/><circle cx="211.37" cy="260.62" r="0.45" fill="#8a8a8a"/><circle cx="217.27" cy="260.62" r="0.45" fill="#8a8a8a"/><circle cx="223.18" cy="260.62" r="0.45" fill="#8a8a8a"/><circle cx="229.08" cy="260.62" r="0.45" fill="#8a8a8a"/><circle cx="234.99" cy="260.62" r="1.95" fill="#fcd2bd" stroke="#444" stroke-width="0.4"/><circle cx="240.89" cy="260.62" r="0.45" fill="#8a8a8a"/><circle cx="246.80" cy="260.62" r="0.45" fill="#8a8a8a"/><circle cx="252.70" cy="260.62" r="0.45" fill="#8a8a8a"/><circle cx="258.61" cy="260.62" r="0.45" fill="#8a8a8a"/><circle cx="264.51" cy="260.62" r="0.45" fill="#8a8a8a"/><circle cx="270.42" cy="260.62" r="0.45" fill="#8a8a8a"/><circle cx="276.32" cy="260.62" r="0.45" fill="#8a8a8a"/><circle cx="282.23" cy="260.62" r="0.8" fill="#d8cfcb" stroke="#555" stroke-width="0.4"/><circle cx="288.13" cy="260.62" r="2.15" fill="#f5a182" stroke="#444" stroke-width="0.4"/><circle cx="294.04" cy="260.62" r="1.95" fill="#fcd2bd" stroke="#444" stroke-width="0.4"/><circle cx="299.94" cy="260.62" r="0.8" fill="#d8cfcb" stroke="#555" stroke-width="0.4"/><circle cx="305.85" cy="260.62" r="1.4" fill="#fde3d6" stroke="#444" stroke-width="0.4"/><circle cx="311.75" cy="260.62" r="0.45" fill="#8a8a8a"/><circle cx="317.66" cy="260.62" r="0.45" fill="#8a8a8a"/><circle cx="323.56" cy="260.62" r="0.45" fill="#8a8a8a"/><circle cx="329.47" cy="260.62" r="0.45" fill="#8a8a8a"/><circle cx="335.37" cy="260.62" r="0.8" fill="#d8cfcb" stroke="#555" stroke-width="0.4"/><circle cx="341.28" cy="260.62" r="0.8" fill="#d8cfcb" stroke="#555" stroke-width="0.4"/><circle cx="347.18" cy="260.62" r="0.8" fill="#d8cfcb" stroke="#555" stroke-width="0.4"/><circle cx="353.09" cy="260.62" r="0.8" fill="#d8cfcb" stroke="#555" stroke-width="0.4"/><circle cx="358.99" cy="260.62" r="0.8" fill="#d8cfcb" stroke="#555" stroke-width="0.4"/><circle cx="364.90" cy="260.62" r="0.8" fill="#d8cfcb" stroke="#555" stroke-width="0.4"/><circle cx="370.80" cy="260.62" r="0.45" fill="#8a8a8a"/><circle cx="376.71" cy="260.62" r="0.45" fill="#8a8a8a"/><circle cx="382.61" cy="260.62" r="0.45" fill="#8a8a8a"/><circle cx="388.52" cy="260.62" r="0.45" fill="#8a8a8a"/><circle cx="394.42" cy="260.62" r="0.8" fill="#d8cfcb" stroke="#555" stroke-width="0.4"/><circle cx="400.32" cy="260.62" r="0.45" fill="#8a8a8a"/><circle cx="406.23" cy="260.62" r="2.3" fill="#eb6d4e" stroke="#444" stroke-width="0.4"/><circle cx="412.13" cy="260.62" r="0.45" fill="#8a8a8a"/><circle cx="418.04" cy="260.62" r="0.8" fill="#d8cfcb" stroke="#555" stroke-width="0.4"/><circle cx="423.94" cy="260.62" r="0.45" fill="#8a8a8a"/><circle cx="429.85" cy="260.62" r="1.4" fill="#fde3d6" stroke="#444" stroke-width="0.4"/><circle cx="435.75" cy="260.62" r="2.15" fill="#f5a182" stroke="#444" stroke-width="0.4"/><circle cx="441.66" cy="260.62" r="0.45" fill="#8a8a8a"/><circle cx="447.56" cy="260.62" r="2.3" fill="#eb6d4e" stroke="#444" stroke-width="0.4"/><circle cx="453.47" cy="260.62" r="2.15" fill="#f5a182" stroke="#444" stroke-width="0.4"/><circle cx="16.50" cy="265.82" r="1.95" fill="#fcd2bd" stroke="#444" stroke-width="0.4"/><circle cx="22.41" cy="265.82" r="2.15" fill="#f5a182" stroke="#444" stroke-width="0.4"/><circle cx="28.31" cy="265.82" r="0.45" fill="#8a8a8a"/><circle cx="34.22" cy="265.82" r="1.95" fill="#fcd2bd" stroke="#444" stroke-width="0.4"/><circle cx="40.12" cy="265.82" r="2.15" fill="#f5a182" stroke="#444" stroke-width="0.4"/><circle cx="46.03" cy="265.82" r="0.8" fill="#d8cfcb" stroke="#555" stroke-width="0.4"/><circle cx="51.93" cy="265.82" r="0.45" fill="#8a8a8a"/><circle cx="57.84" cy="265.82" r="2.15" fill="#f5a182" stroke="#444" stroke-width="0.4"/><circle cx="63.74" cy="265.82" r="0.8" fill="#d8cfcb" stroke="#555" stroke-width="0.4"/><circle cx="69.65" cy="265.82" r="0.8" fill="#d8cfcb" stroke="#555" stroke-width="0.4"/><circle cx="75.55" cy="265.82" r="0.45" fill="#8a8a8a"/><circle cx="81.45" cy="265.82" r="0.45" fill="#8a8a8a"/><circle cx="87.36" cy="265.82" r="0.45" fill="#8a8a8a"/><circle cx="93.27" cy="265.82" r="0.45" fill="#8a8a8a"/><circle cx="99.17" cy="265.82" r="0.45" fill="#8a8a8a"/><circle cx="105.08" cy="265.82" r="2.3" fill="#eb6d4e" stroke="#444" stroke-width="0.4"/><circle cx="110.98" cy="265.82" r="2.4" fill="#d4372a" stroke="#444" stroke-width="0.4"/><circle cx="116.89" cy="265.82" r="2.4" fill="#d4372a" stroke="#444" stroke-width="0.4"/><circle cx="122.79" cy="265.82" r="2.3" fill="#eb6d4e" stroke="#444" stroke-width="0.4"/><circle cx="128.69" cy="265.82" r="2.3" fill="#eb6d4e" stroke="#444" stroke-width="0.4"/><circle cx="134.60" cy="265.82" r="2.45" fill="#a8111c" stroke="#444" stroke-width="0.4"/><circle cx="140.50" cy="265.82" r="2.45" fill="#a8111c" stroke="#444" stroke-width="0.4"/><circle cx="146.41" cy="265.82" r="2.3" fill="#eb6d4e" stroke="#444" stroke-width="0.4"/><circle cx="152.31" cy="265.82" r="2.15" fill="#f5a182" stroke="#444" stroke-width="0.4"/><circle cx="158.22" cy="265.82" r="2.4" fill="#d4372a" stroke="#444" stroke-width="0.4"/><circle cx="164.12" cy="265.82" r="0.45" fill="#8a8a8a"/><circle cx="170.03" cy="265.82" r="0.45" fill="#8a8a8a"/><circle cx="175.94" cy="265.82" r="0.45" fill="#8a8a8a"/><circle cx="181.84" cy="265.82" r="0.45" fill="#8a8a8a"/><circle cx="187.75" cy="265.82" r="0.45" fill="#8a8a8a"/><circle cx="193.65" cy="265.82" r="0.45" fill="#8a8a8a"/><circle cx="199.56" cy="265.82" r="0.45" fill="#8a8a8a"/><circle cx="205.46" cy="265.82" r="0.45" fill="#8a8a8a"/><circle cx="211.37" cy="265.82" r="0.45" fill="#8a8a8a"/><circle cx="217.27" cy="265.82" r="0.45" fill="#8a8a8a"/><circle cx="223.18" cy="265.82" r="0.45" fill="#8a8a8a"/><circle cx="229.08" cy="265.82" r="0.45" fill="#8a8a8a"/><circle cx="234.99" cy="265.82" r="1.95" fill="#fcd2bd" stroke="#444" stroke-width="0.4"/><circle cx="240.89" cy="265.82" r="0.45" fill="#8a8a8a"/><circle cx="246.80" cy="265.82" r="0.45" fill="#8a8a8a"/><circle cx="252.70" cy="265.82" r="0.45" fill="#8a8a8a"/><circle cx="258.61" cy="265.82" r="0.45" fill="#8a8a8a"/><circle cx="264.51" cy="265.82" r="0.45" fill="#8a8a8a"/><circle cx="270.42" cy="265.82" r="0.45" fill="#8a8a8a"/><circle cx="276.32" cy="265.82" r="0.45" fill="#8a8a8a"/><circle cx="282.23" cy="265.82" r="0.8" fill="#d8cfcb" stroke="#555" stroke-width="0.4"/><circle cx="288.13" cy="265.82" r="2.15" fill="#f5a182" stroke="#444" stroke-width="0.4"/><circle cx="294.04" cy="265.82" r="1.95" fill="#fcd2bd" stroke="#444" stroke-width="0.4"/><circle cx="299.94" cy="265.82" r="0.45" fill="#8a8a8a"/><circle cx="305.85" cy="265.82" r="0.8" fill="#d8cfcb" stroke="#555" stroke-width="0.4"/><circle cx="311.75" cy="265.82" r="0.45" fill="#8a8a8a"/><circle cx="317.66" cy="265.82" r="0.45" fill="#8a8a8a"/><circle cx="323.56" cy="265.82" r="0.45" fill="#8a8a8a"/><circle cx="329.47" cy="265.82" r="0.8" fill="#d8cfcb" stroke="#555" stroke-width="0.4"/><circle cx="335.37" cy="265.82" r="0.45" fill="#8a8a8a"/><circle cx="341.28" cy="265.82" r="0.8" fill="#d8cfcb" stroke="#555" stroke-width="0.4"/><circle cx="347.18" cy="265.82" r="0.8" fill="#d8cfcb" stroke="#555" stroke-width="0.4"/><circle cx="353.09" cy="265.82" r="0.8" fill="#d8cfcb" stroke="#555" stroke-width="0.4"/><circle cx="358.99" cy="265.82" r="0.8" fill="#d8cfcb" stroke="#555" stroke-width="0.4"/><circle cx="364.90" cy="265.82" r="0.8" fill="#d8cfcb" stroke="#555" stroke-width="0.4"/><circle cx="370.80" cy="265.82" r="0.45" fill="#8a8a8a"/><circle cx="376.71" cy="265.82" r="0.45" fill="#8a8a8a"/><circle cx="382.61" cy="265.82" r="0.45" fill="#8a8a8a"/><circle cx="388.52" cy="265.82" r="0.45" fill="#8a8a8a"/><circle cx="394.42" cy="265.82" r="0.45" fill="#8a8a8a"/><circle cx="400.32" cy="265.82" r="0.45" fill="#8a8a8a"/><circle cx="406.23" cy="265.82" r="2.3" fill="#eb6d4e" stroke="#444" stroke-width="0.4"/><circle cx="412.13" cy="265.82" r="0.45" fill="#8a8a8a"/><circle cx="418.04" cy="265.82" r="0.8" fill="#d8cfcb" stroke="#555" stroke-width="0.4"/><circle cx="423.94" cy="265.82" r="0.45" fill="#8a8a8a"/><circle cx="429.85" cy="265.82" r="0.45" fill="#8a8a8a"/><circle cx="435.75" cy="265.82" r="2.3" fill="#eb6d4e" stroke="#444" stroke-width="0.4"/><circle cx="441.66" cy="265.82" r="0.45" fill="#8a8a8a"/><circle cx="447.56" cy="265.82" r="2.3" fill="#eb6d4e" stroke="#444" stroke-width="0.4"/><circle cx="453.47" cy="265.82" r="2.15" fill="#f5a182" stroke="#444" stroke-width="0.4"/><circle cx="16.50" cy="271.02" r="2.4" fill="#d4372a" stroke="#444" stroke-width="0.4"/><circle cx="22.41" cy="271.02" r="2.3" fill="#eb6d4e" stroke="#444" stroke-width="0.4"/><circle cx="28.31" cy="271.02" r="0.45" fill="#8a8a8a"/><circle cx="34.22" cy="271.02" r="2.45" fill="#a8111c" stroke="#444" stroke-width="0.4"/><circle cx="40.12" cy="271.02" r="2.3" fill="#eb6d4e" stroke="#444" stroke-width="0.4"/><circle cx="46.03" cy="271.02" r="0.45" fill="#8a8a8a"/><circle cx="51.93" cy="271.02" r="0.45" fill="#8a8a8a"/><circle cx="57.84" cy="271.02" r="0.45" fill="#8a8a8a"/><circle cx="63.74" cy="271.02" r="0.8" fill="#d8cfcb" stroke="#555" stroke-width="0.4"/><circle cx="69.65" cy="271.02" r="0.45" fill="#8a8a8a"/><circle cx="75.55" cy="271.02" r="2.3" fill="#eb6d4e" stroke="#444" stroke-width="0.4"/><circle cx="81.45" cy="271.02" r="0.45" fill="#8a8a8a"/><circle cx="87.36" cy="271.02" r="2.45" fill="#a8111c" stroke="#444" stroke-width="0.4"/><circle cx="93.27" cy="271.02" r="2.3" fill="#eb6d4e" stroke="#444" stroke-width="0.4"/><circle cx="99.17" cy="271.02" r="1.95" fill="#fcd2bd" stroke="#444" stroke-width="0.4"/><circle cx="105.08" cy="271.02" r="0.45" fill="#8a8a8a"/><circle cx="110.98" cy="271.02" r="0.45" fill="#8a8a8a"/><circle cx="116.89" cy="271.02" r="0.45" fill="#8a8a8a"/><circle cx="122.79" cy="271.02" r="0.45" fill="#8a8a8a"/><circle cx="128.69" cy="271.02" r="0.45" fill="#8a8a8a"/><circle cx="134.60" cy="271.02" r="0.45" fill="#8a8a8a"/><circle cx="140.50" cy="271.02" r="2.15" fill="#f5a182" stroke="#444" stroke-width="0.4"/><circle cx="146.41" cy="271.02" r="0.45" fill="#8a8a8a"/><circle cx="152.31" cy="271.02" r="0.45" fill="#8a8a8a"/><circle cx="158.22" cy="271.02" r="0.45" fill="#8a8a8a"/><circle cx="164.12" cy="271.02" r="2.4" fill="#d4372a" stroke="#444" stroke-width="0.4"/><circle cx="170.03" cy="271.02" r="2.45" fill="#a8111c" stroke="#444" stroke-width="0.4"/><circle cx="175.94" cy="271.02" r="2.4" fill="#d4372a" stroke="#444" stroke-width="0.4"/><circle cx="181.84" cy="271.02" r="2.4" fill="#d4372a" stroke="#444" stroke-width="0.4"/><circle cx="187.75" cy="271.02" r="2.4" fill="#d4372a" stroke="#444" stroke-width="0.4"/><circle cx="193.65" cy="271.02" r="0.45" fill="#8a8a8a"/><circle cx="199.56" cy="271.02" r="2.3" fill="#eb6d4e" stroke="#444" stroke-width="0.4"/><circle cx="205.46" cy="271.02" r="0.45" fill="#8a8a8a"/><circle cx="211.37" cy="271.02" r="0.45" fill="#8a8a8a"/><circle cx="217.27" cy="271.02" r="0.45" fill="#8a8a8a"/><circle cx="223.18" cy="271.02" r="0.45" fill="#8a8a8a"/><circle cx="229.08" cy="271.02" r="0.45" fill="#8a8a8a"/><circle cx="234.99" cy="271.02" r="2.15" fill="#f5a182" stroke="#444" stroke-width="0.4"/><circle cx="240.89" cy="271.02" r="0.8" fill="#d8cfcb" stroke="#555" stroke-width="0.4"/><circle cx="246.80" cy="271.02" r="0.45" fill="#8a8a8a"/><circle cx="252.70" cy="271.02" r="0.45" fill="#8a8a8a"/><circle cx="258.61" cy="271.02" r="0.45" fill="#8a8a8a"/><circle cx="264.51" cy="271.02" r="0.45" fill="#8a8a8a"/><circle cx="270.42" cy="271.02" r="0.45" fill="#8a8a8a"/><circle cx="276.32" cy="271.02" r="0.45" fill="#8a8a8a"/><circle cx="282.23" cy="271.02" r="0.45" fill="#8a8a8a"/><circle cx="288.13" cy="271.02" r="0.45" fill="#8a8a8a"/><circle cx="294.04" cy="271.02" r="0.45" fill="#8a8a8a"/><circle cx="299.94" cy="271.02" r="0.45" fill="#8a8a8a"/><circle cx="305.85" cy="271.02" r="0.45" fill="#8a8a8a"/><circle cx="311.75" cy="271.02" r="0.45" fill="#8a8a8a"/><circle cx="317.66" cy="271.02" r="0.45" fill="#8a8a8a"/><circle cx="323.56" cy="271.02" r="0.8" fill="#d8cfcb" stroke="#555" stroke-width="0.4"/><circle cx="329.47" cy="271.02" r="0.45" fill="#8a8a8a"/><circle cx="335.37" cy="271.02" r="0.45" fill="#8a8a8a"/><circle cx="341.28" cy="271.02" r="0.8" fill="#d8cfcb" stroke="#555" stroke-width="0.4"/><circle cx="347.18" cy="271.02" r="0.8" fill="#d8cfcb" stroke="#555" stroke-width="0.4"/><circle cx="353.09" cy="271.02" r="0.8" fill="#d8cfcb" stroke="#555" stroke-width="0.4"/><circle cx="358.99" cy="271.02" r="0.8" fill="#d8cfcb" stroke="#555" stroke-width="0.4"/><circle cx="364.90" cy="271.02" r="0.8" fill="#d8cfcb" stroke="#555" stroke-width="0.4"/><circle cx="370.80" cy="271.02" r="2.45" fill="#a8111c" stroke="#444" stroke-width="0.4"/><circle cx="376.71" cy="271.02" r="0.8" fill="#d8cfcb" stroke="#555" stroke-width="0.4"/><circle cx="382.61" cy="271.02" r="0.8" fill="#d8cfcb" stroke="#555" stroke-width="0.4"/><circle cx="388.52" cy="271.02" r="0.45" fill="#8a8a8a"/><circle cx="394.42" cy="271.02" r="2.15" fill="#f5a182" stroke="#444" stroke-width="0.4"/><circle cx="400.32" cy="271.02" r="0.45" fill="#8a8a8a"/><circle cx="406.23" cy="271.02" r="1.95" fill="#fcd2bd" stroke="#444" stroke-width="0.4"/><circle cx="412.13" cy="271.02" r="0.45" fill="#8a8a8a"/><circle cx="418.04" cy="271.02" r="0.45" fill="#8a8a8a"/><circle cx="423.94" cy="271.02" r="0.45" fill="#8a8a8a"/><circle cx="429.85" cy="271.02" r="2.3" fill="#eb6d4e" stroke="#444" stroke-width="0.4"/><circle cx="435.75" cy="271.02" r="2.15" fill="#f5a182" stroke="#444" stroke-width="0.4"/><circle cx="441.66" cy="271.02" r="0.45" fill="#8a8a8a"/><circle cx="447.56" cy="271.02" r="0.45" fill="#8a8a8a"/><circle cx="453.47" cy="271.02" r="2.4" fill="#d4372a" stroke="#444" stroke-width="0.4"/><circle cx="16.50" cy="276.23" r="2.4" fill="#d4372a" stroke="#444" stroke-width="0.4"/><circle cx="22.41" cy="276.23" r="2.4" fill="#d4372a" stroke="#444" stroke-width="0.4"/><circle cx="28.31" cy="276.23" r="2.3" fill="#eb6d4e" stroke="#444" stroke-width="0.4"/><circle cx="34.22" cy="276.23" r="2.45" fill="#a8111c" stroke="#444" stroke-width="0.4"/><circle cx="40.12" cy="276.23" r="2.4" fill="#d4372a" stroke="#444" stroke-width="0.4"/><circle cx="46.03" cy="276.23" r="0.45" fill="#8a8a8a"/><circle cx="51.93" cy="276.23" r="0.45" fill="#8a8a8a"/><circle cx="57.84" cy="276.23" r="0.45" fill="#8a8a8a"/><circle cx="63.74" cy="276.23" r="0.45" fill="#8a8a8a"/><circle cx="69.65" cy="276.23" r="0.45" fill="#8a8a8a"/><circle cx="75.55" cy="276.23" r="0.8" fill="#d8cfcb" stroke="#555" stroke-width="0.4"/><circle cx="81.45" cy="276.23" r="0.8" fill="#d8cfcb" stroke="#555" stroke-width="0.4"/><circle cx="87.36" cy="276.23" r="0.8" fill="#d8cfcb" stroke="#555" stroke-width="0.4"/><circle cx="93.27" cy="276.23" r="2.3" fill="#eb6d4e" stroke="#444" stroke-width="0.4"/><circle cx="99.17" cy="276.23" r="2.3" fill="#eb6d4e" stroke="#444" stroke-width="0.4"/><circle cx="105.08" cy="276.23" r="0.45" fill="#8a8a8a"/><circle cx="110.98" cy="276.23" r="0.45" fill="#8a8a8a"/><circle cx="116.89" cy="276.23" r="0.45" fill="#8a8a8a"/><circle cx="122.79" cy="276.23" r="0.45" fill="#8a8a8a"/><circle cx="128.69" cy="276.23" r="0.45" fill="#8a8a8a"/><circle cx="134.60" cy="276.23" r="0.45" fill="#8a8a8a"/><circle cx="140.50" cy="276.23" r="2.3" fill="#eb6d4e" stroke="#444" stroke-width="0.4"/><circle cx="146.41" cy="276.23" r="0.45" fill="#8a8a8a"/><circle cx="152.31" cy="276.23" r="0.45" fill="#8a8a8a"/><circle cx="158.22" cy="276.23" r="0.45" fill="#8a8a8a"/><circle cx="164.12" cy="276.23" r="0.45" fill="#8a8a8a"/><circle cx="170.03" cy="276.23" r="0.45" fill="#8a8a8a"/><circle cx="175.94" cy="276.23" r="0.45" fill="#8a8a8a"/><circle cx="181.84" cy="276.23" r="0.45" fill="#8a8a8a"/><circle cx="187.75" cy="276.23" r="0.45" fill="#8a8a8a"/><circle cx="193.65" cy="276.23" r="2.4" fill="#d4372a" stroke="#444" stroke-width="0.4"/><circle cx="199.56" cy="276.23" r="2.3" fill="#eb6d4e" stroke="#444" stroke-width="0.4"/><circle cx="205.46" cy="276.23" r="2.4" fill="#d4372a" stroke="#444" stroke-width="0.4"/><circle cx="211.37" cy="276.23" r="2.3" fill="#eb6d4e" stroke="#444" stroke-width="0.4"/><circle cx="217.27" cy="276.23" r="2.3" fill="#eb6d4e" stroke="#444" stroke-width="0.4"/><circle cx="223.18" cy="276.23" r="0.45" fill="#8a8a8a"/><circle cx="229.08" cy="276.23" r="0.45" fill="#8a8a8a"/><circle cx="234.99" cy="276.23" r="2.15" fill="#f5a182" stroke="#444" stroke-width="0.4"/><circle cx="240.89" cy="276.23" r="0.8" fill="#d8cfcb" stroke="#555" stroke-width="0.4"/><circle cx="246.80" cy="276.23" r="0.8" fill="#d8cfcb" stroke="#555" stroke-width="0.4"/><circle cx="252.70" cy="276.23" r="0.45" fill="#8a8a8a"/><circle cx="258.61" cy="276.23" r="0.45" fill="#8a8a8a"/><circle cx="264.51" cy="276.23" r="0.45" fill="#8a8a8a"/><circle cx="270.42" cy="276.23" r="0.45" fill="#8a8a8a"/><circle cx="276.32" cy="276.23" r="0.45" fill="#8a8a8a"/><circle cx="282.23" cy="276.23" r="0.45" fill="#8a8a8a"/><circle cx="288.13" cy="276.23" r="0.45" fill="#8a8a8a"/><circle cx="294.04" cy="276.23" r="0.45" fill="#8a8a8a"/><circle cx="299.94" cy="276.23" r="0.45" fill="#8a8a8a"/><circle cx="305.85" cy="276.23" r="0.45" fill="#8a8a8a"/><circle cx="311.75" cy="276.23" r="0.45" fill="#8a8a8a"/><circle cx="317.66" cy="276.23" r="0.45" fill="#8a8a8a"/><circle cx="323.56" cy="276.23" r="0.45" fill="#8a8a8a"/><circle cx="329.47" cy="276.23" r="0.45" fill="#8a8a8a"/><circle cx="335.37" cy="276.23" r="0.45" fill="#8a8a8a"/><circle cx="341.28" cy="276.23" r="0.8" fill="#d8cfcb" stroke="#555" stroke-width="0.4"/><circle cx="347.18" cy="276.23" r="0.8" fill="#d8cfcb" stroke="#555" stroke-width="0.4"/><circle cx="353.09" cy="276.23" r="0.8" fill="#d8cfcb" stroke="#555" stroke-width="0.4"/><circle cx="358.99" cy="276.23" r="0.8" fill="#d8cfcb" stroke="#555" stroke-width="0.4"/><circle cx="364.90" cy="276.23" r="0.8" fill="#d8cfcb" stroke="#555" stroke-width="0.4"/><circle cx="370.80" cy="276.23" r="0.45" fill="#8a8a8a"/><circle cx="376.71" cy="276.23" r="0.8" fill="#d8cfcb" stroke="#555" stroke-width="0.4"/><circle cx="382.61" cy="276.23" r="0.45" fill="#8a8a8a"/><circle cx="388.52" cy="276.23" r="0.45" fill="#8a8a8a"/><circle cx="394.42" cy="276.23" r="0.45" fill="#8a8a8a"/><circle cx="400.32" cy="276.23" r="0.45" fill="#8a8a8a"/><circle cx="406.23" cy="276.23" r="1.95" fill="#fcd2bd" stroke="#444" stroke-width="0.4"/><circle cx="412.13" cy="276.23" r="0.45" fill="#8a8a8a"/><circle cx="418.04" cy="276.23" r="0.45" fill="#8a8a8a"/><circle cx="423.94" cy="276.23" r="0.45" fill="#8a8a8a"/><circle cx="429.85" cy="276.23" r="0.45" fill="#8a8a8a"/><circle cx="435.75" cy="276.23" r="1.4" fill="#fde3d6" stroke="#444" stroke-width="0.4"/><circle cx="441.66" cy="276.23" r="0.45" fill="#8a8a8a"/><circle cx="447.56" cy="276.23" r="0.45" fill="#8a8a8a"/><circle cx="453.47" cy="276.23" r="1.4" fill="#fde3d6" stroke="#444" stroke-width="0.4"/><circle cx="16.50" cy="281.44" r="1.4" fill="#fde3d6" stroke="#444" stroke-width="0.4"/><circle cx="22.41" cy="281.44" r="2.15" fill="#f5a182" stroke="#444" stroke-width="0.4"/><circle cx="28.31" cy="281.44" r="2.3" fill="#eb6d4e" stroke="#444" stroke-width="0.4"/><circle cx="34.22" cy="281.44" r="2.45" fill="#a8111c" stroke="#444" stroke-width="0.4"/><circle cx="40.12" cy="281.44" r="1.4" fill="#fde3d6" stroke="#444" stroke-width="0.4"/><circle cx="46.03" cy="281.44" r="0.45" fill="#8a8a8a"/><circle cx="51.93" cy="281.44" r="0.45" fill="#8a8a8a"/><circle cx="57.84" cy="281.44" r="0.45" fill="#8a8a8a"/><circle cx="63.74" cy="281.44" r="0.45" fill="#8a8a8a"/><circle cx="69.65" cy="281.44" r="0.45" fill="#8a8a8a"/><circle cx="75.55" cy="281.44" r="0.45" fill="#8a8a8a"/><circle cx="81.45" cy="281.44" r="0.8" fill="#d8cfcb" stroke="#555" stroke-width="0.4"/><circle cx="87.36" cy="281.44" r="0.45" fill="#8a8a8a"/><circle cx="93.27" cy="281.44" r="0.8" fill="#d8cfcb" stroke="#555" stroke-width="0.4"/><circle cx="99.17" cy="281.44" r="0.45" fill="#8a8a8a"/><circle cx="105.08" cy="281.44" r="0.45" fill="#8a8a8a"/><circle cx="110.98" cy="281.44" r="0.45" fill="#8a8a8a"/><circle cx="116.89" cy="281.44" r="0.45" fill="#8a8a8a"/><circle cx="122.79" cy="281.44" r="0.45" fill="#8a8a8a"/><circle cx="128.69" cy="281.44" r="0.45" fill="#8a8a8a"/><circle cx="134.60" cy="281.44" r="0.45" fill="#8a8a8a"/><circle cx="140.50" cy="281.44" r="2.4" fill="#d4372a" stroke="#444" stroke-width="0.4"/><circle cx="146.41" cy="281.44" r="0.45" fill="#8a8a8a"/><circle cx="152.31" cy="281.44" r="0.45" fill="#8a8a8a"/><circle cx="158.22" cy="281.44" r="0.45" fill="#8a8a8a"/><circle cx="164.12" cy="281.44" r="0.8" fill="#d8cfcb" stroke="#555" stroke-width="0.4"/><circle cx="170.03" cy="281.44" r="0.45" fill="#8a8a8a"/><circle cx="175.94" cy="281.44" r="0.45" fill="#8a8a8a"/><circle cx="181.84" cy="281.44" r="0.45" fill="#8a8a8a"/><circle cx="187.75" cy="281.44" r="0.45" fill="#8a8a8a"/><circle cx="193.65" cy="281.44" r="2.45" fill="#a8111c" stroke="#444" stroke-width="0.4"/><circle cx="199.56" cy="281.44" r="0.45" fill="#8a8a8a"/><circle cx="205.46" cy="281.44" r="2.4" fill="#d4372a" stroke="#444" stroke-width="0.4"/><circle cx="211.37" cy="281.44" r="0.45" fill="#8a8a8a"/><circle cx="217.27" cy="281.44" r="1.95" fill="#fcd2bd" stroke="#444" stroke-width="0.4"/><circle cx="223.18" cy="281.44" r="2.45" fill="#a8111c" stroke="#444" stroke-width="0.4"/><circle cx="229.08" cy="281.44" r="2.4" fill="#d4372a" stroke="#444" stroke-width="0.4"/><circle cx="234.99" cy="281.44" r="2.4" fill="#d4372a" stroke="#444" stroke-width="0.4"/><circle cx="240.89" cy="281.44" r="2.45" fill="#a8111c" stroke="#444" stroke-width="0.4"/><circle cx="246.80" cy="281.44" r="2.4" fill="#d4372a" stroke="#444" stroke-width="0.4"/><circle cx="252.70" cy="281.44" r="0.45" fill="#8a8a8a"/><circle cx="258.61" cy="281.44" r="0.8" fill="#d8cfcb" stroke="#555" stroke-width="0.4"/><circle cx="264.51" cy="281.44" r="0.45" fill="#8a8a8a"/><circle cx="270.42" cy="281.44" r="0.45" fill="#8a8a8a"/><circle cx="276.32" cy="281.44" r="0.45" fill="#8a8a8a"/><circle cx="282.23" cy="281.44" r="0.45" fill="#8a8a8a"/><circle cx="288.13" cy="281.44" r="0.45" fill="#8a8a8a"/><circle cx="294.04" cy="281.44" r="0.45" fill="#8a8a8a"/><circle cx="299.94" cy="281.44" r="0.45" fill="#8a8a8a"/><circle cx="305.85" cy="281.44" r="0.45" fill="#8a8a8a"/><circle cx="311.75" cy="281.44" r="0.45" fill="#8a8a8a"/><circle cx="317.66" cy="281.44" r="0.45" fill="#8a8a8a"/><circle cx="323.56" cy="281.44" r="0.45" fill="#8a8a8a"/><circle cx="329.47" cy="281.44" r="0.45" fill="#8a8a8a"/><circle cx="335.37" cy="281.44" r="0.45" fill="#8a8a8a"/><circle cx="341.28" cy="281.44" r="0.8" fill="#d8cfcb" stroke="#555" stroke-width="0.4"/><circle cx="347.18" cy="281.44" r="0.8" fill="#d8cfcb" stroke="#555" stroke-width="0.4"/><circle cx="353.09" cy="281.44" r="0.8" fill="#d8cfcb" stroke="#555" stroke-width="0.4"/><circle cx="358.99" cy="281.44" r="0.8" fill="#d8cfcb" stroke="#555" stroke-width="0.4"/><circle cx="364.90" cy="281.44" r="0.8" fill="#d8cfcb" stroke="#555" stroke-width="0.4"/><circle cx="370.80" cy="281.44" r="0.45" fill="#8a8a8a"/><circle cx="376.71" cy="281.44" r="0.45" fill="#8a8a8a"/><circle cx="382.61" cy="281.44" r="0.45" fill="#8a8a8a"/><circle cx="388.52" cy="281.44" r="0.45" fill="#8a8a8a"/><circle cx="394.42" cy="281.44" r="0.45" fill="#8a8a8a"/><circle cx="400.32" cy="281.44" r="0.8" fill="#d8cfcb" stroke="#555" stroke-width="0.4"/><circle cx="406.23" cy="281.44" r="0.8" fill="#d8cfcb" stroke="#555" stroke-width="0.4"/><circle cx="412.13" cy="281.44" r="0.45" fill="#8a8a8a"/><circle cx="418.04" cy="281.44" r="0.45" fill="#8a8a8a"/><circle cx="423.94" cy="281.44" r="0.45" fill="#8a8a8a"/><circle cx="429.85" cy="281.44" r="0.45" fill="#8a8a8a"/><circle cx="435.75" cy="281.44" r="0.45" fill="#8a8a8a"/><circle cx="441.66" cy="281.44" r="0.45" fill="#8a8a8a"/><circle cx="447.56" cy="281.44" r="0.45" fill="#8a8a8a"/><circle cx="453.47" cy="281.44" r="2.4" fill="#d4372a" stroke="#444" stroke-width="0.4"/><circle cx="16.50" cy="286.64" r="2.45" fill="#a8111c" stroke="#444" stroke-width="0.4"/><circle cx="22.41" cy="286.64" r="2.45" fill="#a8111c" stroke="#444" stroke-width="0.4"/><circle cx="28.31" cy="286.64" r="2.3" fill="#eb6d4e" stroke="#444" stroke-width="0.4"/><circle cx="34.22" cy="286.64" r="2.45" fill="#a8111c" stroke="#444" stroke-width="0.4"/><circle cx="40.12" cy="286.64" r="2.4" fill="#d4372a" stroke="#444" stroke-width="0.4"/><circle cx="46.03" cy="286.64" r="0.45" fill="#8a8a8a"/><circle cx="51.93" cy="286.64" r="0.45" fill="#8a8a8a"/><circle cx="57.84" cy="286.64" r="0.45" fill="#8a8a8a"/><circle cx="63.74" cy="286.64" r="0.45" fill="#8a8a8a"/><circle cx="69.65" cy="286.64" r="0.45" fill="#8a8a8a"/><circle cx="75.55" cy="286.64" r="0.8" fill="#d8cfcb" stroke="#555" stroke-width="0.4"/><circle cx="81.45" cy="286.64" r="0.8" fill="#d8cfcb" stroke="#555" stroke-width="0.4"/><circle cx="87.36" cy="286.64" r="0.45" fill="#8a8a8a"/><circle cx="93.27" cy="286.64" r="1.95" fill="#fcd2bd" stroke="#444" stroke-width="0.4"/><circle cx="99.17" cy="286.64" r="1.4" fill="#fde3d6" stroke="#444" stroke-width="0.4"/><circle cx="105.08" cy="286.64" r="0.45" fill="#8a8a8a"/><circle cx="110.98" cy="286.64" r="0.45" fill="#8a8a8a"/><circle cx="116.89" cy="286.64" r="0.8" fill="#d8cfcb" stroke="#555" stroke-width="0.4"/><circle cx="122.79" cy="286.64" r="0.45" fill="#8a8a8a"/><circle cx="128.69" cy="286.64" r="0.45" fill="#8a8a8a"/><circle cx="134.60" cy="286.64" r="0.45" fill="#8a8a8a"/><circle cx="140.50" cy="286.64" r="2.15" fill="#f5a182" stroke="#444" stroke-width="0.4"/><circle cx="146.41" cy="286.64" r="0.45" fill="#8a8a8a"/><circle cx="152.31" cy="286.64" r="0.45" fill="#8a8a8a"/><circle cx="158.22" cy="286.64" r="0.45" fill="#8a8a8a"/><circle cx="164.12" cy="286.64" r="0.8" fill="#d8cfcb" stroke="#555" stroke-width="0.4"/><circle cx="170.03" cy="286.64" r="0.45" fill="#8a8a8a"/><circle cx="175.94" cy="286.64" r="0.45" fill="#8a8a8a"/><circle cx="181.84" cy="286.64" r="0.45" fill="#8a8a8a"/><circle cx="187.75" cy="286.64" r="0.45" fill="#8a8a8a"/><circle cx="193.65" cy="286.64" r="0.45" fill="#8a8a8a"/><circle cx="199.56" cy="286.64" r="0.45" fill="#8a8a8a"/><circle cx="205.46" cy="286.64" r="2.3" fill="#eb6d4e" stroke="#444" stroke-width="0.4"/><circle cx="211.37" cy="286.64" r="0.45" fill="#8a8a8a"/><circle cx="217.27" cy="286.64" r="0.45" fill="#8a8a8a"/><circle cx="223.18" cy="286.64" r="0.45" fill="#8a8a8a"/><circle cx="229.08" cy="286.64" r="0.45" fill="#8a8a8a"/><circle cx="234.99" cy="286.64" r="1.4" fill="#fde3d6" stroke="#444" stroke-width="0.4"/><circle cx="240.89" cy="286.64" r="0.45" fill="#8a8a8a"/><circle cx="246.80" cy="286.64" r="0.45" fill="#8a8a8a"/><circle cx="252.70" cy="286.64" r="2.4" fill="#d4372a" stroke="#444" stroke-width="0.4"/><circle cx="258.61" cy="286.64" r="2.3" fill="#eb6d4e" stroke="#444" stroke-width="0.4"/><circle cx="264.51" cy="286.64" r="2.3" fill="#eb6d4e" stroke="#444" stroke-width="0.4"/><circle cx="270.42" cy="286.64" r="2.3" fill="#eb6d4e" stroke="#444" stroke-width="0.4"/><circle cx="276.32" cy="286.64" r="2.3" fill="#eb6d4e" stroke="#444" stroke-width="0.4"/><circle cx="282.23" cy="286.64" r="0.45" fill="#8a8a8a"/><circle cx="288.13" cy="286.64" r="0.45" fill="#8a8a8a"/><circle cx="294.04" cy="286.64" r="0.45" fill="#8a8a8a"/><circle cx="299.94" cy="286.64" r="0.45" fill="#8a8a8a"/><circle cx="305.85" cy="286.64" r="0.45" fill="#8a8a8a"/><circle cx="311.75" cy="286.64" r="0.45" fill="#8a8a8a"/><circle cx="317.66" cy="286.64" r="0.45" fill="#8a8a8a"/><circle cx="323.56" cy="286.64" r="0.45" fill="#8a8a8a"/><circle cx="329.47" cy="286.64" r="0.45" fill="#8a8a8a"/><circle cx="335.37" cy="286.64" r="0.45" fill="#8a8a8a"/><circle cx="341.28" cy="286.64" r="0.8" fill="#d8cfcb" stroke="#555" stroke-width="0.4"/><circle cx="347.18" cy="286.64" r="0.8" fill="#d8cfcb" stroke="#555" stroke-width="0.4"/><circle cx="353.09" cy="286.64" r="0.8" fill="#d8cfcb" stroke="#555" stroke-width="0.4"/><circle cx="358.99" cy="286.64" r="0.8" fill="#d8cfcb" stroke="#555" stroke-width="0.4"/><circle cx="364.90" cy="286.64" r="0.8" fill="#d8cfcb" stroke="#555" stroke-width="0.4"/><circle cx="370.80" cy="286.64" r="0.45" fill="#8a8a8a"/><circle cx="376.71" cy="286.64" r="0.45" fill="#8a8a8a"/><circle cx="382.61" cy="286.64" r="0.45" fill="#8a8a8a"/><circle cx="388.52" cy="286.64" r="0.45" fill="#8a8a8a"/><circle cx="394.42" cy="286.64" r="0.45" fill="#8a8a8a"/><circle cx="400.32" cy="286.64" r="0.45" fill="#8a8a8a"/><circle cx="406.23" cy="286.64" r="1.4" fill="#fde3d6" stroke="#444" stroke-width="0.4"/><circle cx="412.13" cy="286.64" r="0.45" fill="#8a8a8a"/><circle cx="418.04" cy="286.64" r="0.45" fill="#8a8a8a"/><circle cx="423.94" cy="286.64" r="0.45" fill="#8a8a8a"/><circle cx="429.85" cy="286.64" r="0.45" fill="#8a8a8a"/><circle cx="435.75" cy="286.64" r="0.45" fill="#8a8a8a"/><circle cx="441.66" cy="286.64" r="0.45" fill="#8a8a8a"/><circle cx="447.56" cy="286.64" r="0.45" fill="#8a8a8a"/><circle cx="453.47" cy="286.64" r="1.4" fill="#fde3d6" stroke="#444" stroke-width="0.4"/><circle cx="16.50" cy="291.85" r="2.15" fill="#f5a182" stroke="#444" stroke-width="0.4"/><circle cx="22.41" cy="291.85" r="2.3" fill="#eb6d4e" stroke="#444" stroke-width="0.4"/><circle cx="28.31" cy="291.85" r="0.45" fill="#8a8a8a"/><circle cx="34.22" cy="291.85" r="2.4" fill="#d4372a" stroke="#444" stroke-width="0.4"/><circle cx="40.12" cy="291.85" r="2.15" fill="#f5a182" stroke="#444" stroke-width="0.4"/><circle cx="46.03" cy="291.85" r="1.4" fill="#fde3d6" stroke="#444" stroke-width="0.4"/><circle cx="51.93" cy="291.85" r="0.45" fill="#8a8a8a"/><circle cx="57.84" cy="291.85" r="2.3" fill="#eb6d4e" stroke="#444" stroke-width="0.4"/><circle cx="63.74" cy="291.85" r="2.3" fill="#eb6d4e" stroke="#444" stroke-width="0.4"/><circle cx="69.65" cy="291.85" r="0.8" fill="#d8cfcb" stroke="#555" stroke-width="0.4"/><circle cx="75.55" cy="291.85" r="0.45" fill="#8a8a8a"/><circle cx="81.45" cy="291.85" r="0.45" fill="#8a8a8a"/><circle cx="87.36" cy="291.85" r="0.45" fill="#8a8a8a"/><circle cx="93.27" cy="291.85" r="0.8" fill="#d8cfcb" stroke="#555" stroke-width="0.4"/><circle cx="99.17" cy="291.85" r="0.8" fill="#d8cfcb" stroke="#555" stroke-width="0.4"/><circle cx="105.08" cy="291.85" r="2.15" fill="#f5a182" stroke="#444" stroke-width="0.4"/><circle cx="110.98" cy="291.85" r="2.3" fill="#eb6d4e" stroke="#444" stroke-width="0.4"/><circle cx="116.89" cy="291.85" r="2.3" fill="#eb6d4e" stroke="#444" stroke-width="0.4"/><circle cx="122.79" cy="291.85" r="2.3" fill="#eb6d4e" stroke="#444" stroke-width="0.4"/><circle cx="128.69" cy="291.85" r="0.8" fill="#d8cfcb" stroke="#555" stroke-width="0.4"/><circle cx="134.60" cy="291.85" r="0.8" fill="#d8cfcb" stroke="#555" stroke-width="0.4"/><circle cx="140.50" cy="291.85" r="2.3" fill="#eb6d4e" stroke="#444" stroke-width="0.4"/><circle cx="146.41" cy="291.85" r="0.45" fill="#8a8a8a"/><circle cx="152.31" cy="291.85" r="0.45" fill="#8a8a8a"/><circle cx="158.22" cy="291.85" r="2.3" fill="#eb6d4e" stroke="#444" stroke-width="0.4"/><circle cx="164.12" cy="291.85" r="0.45" fill="#8a8a8a"/><circle cx="170.03" cy="291.85" r="0.45" fill="#8a8a8a"/><circle cx="175.94" cy="291.85" r="0.45" fill="#8a8a8a"/><circle cx="181.84" cy="291.85" r="0.45" fill="#8a8a8a"/><circle cx="187.75" cy="291.85" r="0.45" fill="#8a8a8a"/><circle cx="193.65" cy="291.85" r="0.45" fill="#8a8a8a"/><circle cx="199.56" cy="291.85" r="1.95" fill="#fcd2bd" stroke="#444" stroke-width="0.4"/><circle cx="205.46" cy="291.85" r="0.45" fill="#8a8a8a"/><circle cx="211.37" cy="291.85" r="0.45" fill="#8a8a8a"/><circle cx="217.27" cy="291.85" r="0.45" fill="#8a8a8a"/><circle cx="223.18" cy="291.85" r="0.45" fill="#8a8a8a"/><circle cx="229.08" cy="291.85" r="0.45" fill="#8a8a8a"/><circle cx="234.99" cy="291.85" r="1.95" fill="#fcd2bd" stroke="#444" stroke-width="0.4"/><circle cx="240.89" cy="291.85" r="0.45" fill="#8a8a8a"/><circle cx="246.80" cy="291.85" r="0.45" fill="#8a8a8a"/><circle cx="252.70" cy="291.85" r="0.45" fill="#8a8a8a"/><circle cx="258.61" cy="291.85" r="0.45" fill="#8a8a8a"/><circle cx="264.51" cy="291.85" r="0.45" fill="#8a8a8a"/><circle cx="270.42" cy="291.85" r="0.45" fill="#8a8a8a"/><circle cx="276.32" cy="291.85" r="0.45" fill="#8a8a8a"/><circle cx="282.23" cy="291.85" r="2.45" fill="#a8111c" stroke="#444" stroke-width="0.4"/><circle cx="288.13" cy="291.85" r="2.4" fill="#d4372a" stroke="#444" stroke-width="0.4"/><circle cx="294.04" cy="291.85" r="2.4" fill="#d4372a" stroke="#444" stroke-width="0.4"/><circle cx="299.94" cy="291.85" r="2.3" fill="#eb6d4e" stroke="#444" stroke-width="0.4"/><circle cx="305.85" cy="291.85" r="2.3" fill="#eb6d4e" stroke="#444" stroke-width="0.4"/><circle cx="311.75" cy="291.85" r="0.45" fill="#8a8a8a"/><circle cx="317.66" cy="291.85" r="0.45" fill="#8a8a8a"/><circle cx="323.56" cy="291.85" r="0.45" fill="#8a8a8a"/><circle cx="329.47" cy="291.85" r="0.45" fill="#8a8a8a"/><circle cx="335.37" cy="291.85" r="0.45" fill="#8a8a8a"/><circle cx="341.28" cy="291.85" r="0.8" fill="#d8cfcb" stroke="#555" stroke-width="0.4"/><circle cx="347.18" cy="291.85" r="0.8" fill="#d8cfcb" stroke="#555" stroke-width="0.4"/><circle cx="353.09" cy="291.85" r="0.8" fill="#d8cfcb" stroke="#555" stroke-width="0.4"/><circle cx="358.99" cy="291.85" r="0.8" fill="#d8cfcb" stroke="#555" stroke-width="0.4"/><circle cx="364.90" cy="291.85" r="0.8" fill="#d8cfcb" stroke="#555" stroke-width="0.4"/><circle cx="370.80" cy="291.85" r="0.45" fill="#8a8a8a"/><circle cx="376.71" cy="291.85" r="0.45" fill="#8a8a8a"/><circle cx="382.61" cy="291.85" r="0.45" fill="#8a8a8a"/><circle cx="388.52" cy="291.85" r="0.45" fill="#8a8a8a"/><circle cx="394.42" cy="291.85" r="0.45" fill="#8a8a8a"/><circle cx="400.32" cy="291.85" r="0.45" fill="#8a8a8a"/><circle cx="406.23" cy="291.85" r="2.3" fill="#eb6d4e" stroke="#444" stroke-width="0.4"/><circle cx="412.13" cy="291.85" r="0.45" fill="#8a8a8a"/><circle cx="418.04" cy="291.85" r="0.45" fill="#8a8a8a"/><circle cx="423.94" cy="291.85" r="0.45" fill="#8a8a8a"/><circle cx="429.85" cy="291.85" r="1.4" fill="#fde3d6" stroke="#444" stroke-width="0.4"/><circle cx="435.75" cy="291.85" r="1.95" fill="#fcd2bd" stroke="#444" stroke-width="0.4"/><circle cx="441.66" cy="291.85" r="1.4" fill="#fde3d6" stroke="#444" stroke-width="0.4"/><circle cx="447.56" cy="291.85" r="2.4" fill="#d4372a" stroke="#444" stroke-width="0.4"/><circle cx="453.47" cy="291.85" r="2.3" fill="#eb6d4e" stroke="#444" stroke-width="0.4"/><circle cx="16.50" cy="297.05" r="2.15" fill="#f5a182" stroke="#444" stroke-width="0.4"/><circle cx="22.41" cy="297.05" r="1.4" fill="#fde3d6" stroke="#444" stroke-width="0.4"/><circle cx="28.31" cy="297.05" r="0.45" fill="#8a8a8a"/><circle cx="34.22" cy="297.05" r="2.45" fill="#a8111c" stroke="#444" stroke-width="0.4"/><circle cx="40.12" cy="297.05" r="1.4" fill="#fde3d6" stroke="#444" stroke-width="0.4"/><circle cx="46.03" cy="297.05" r="0.45" fill="#8a8a8a"/><circle cx="51.93" cy="297.05" r="0.45" fill="#8a8a8a"/><circle cx="57.84" cy="297.05" r="0.45" fill="#8a8a8a"/><circle cx="63.74" cy="297.05" r="2.3" fill="#eb6d4e" stroke="#444" stroke-width="0.4"/><circle cx="69.65" cy="297.05" r="0.45" fill="#8a8a8a"/><circle cx="75.55" cy="297.05" r="0.45" fill="#8a8a8a"/><circle cx="81.45" cy="297.05" r="0.8" fill="#d8cfcb" stroke="#555" stroke-width="0.4"/><circle cx="87.36" cy="297.05" r="2.45" fill="#a8111c" stroke="#444" stroke-width="0.4"/><circle cx="93.27" cy="297.05" r="0.45" fill="#8a8a8a"/><circle cx="99.17" cy="297.05" r="0.45" fill="#8a8a8a"/><circle cx="105.08" cy="297.05" r="0.45" fill="#8a8a8a"/><circle cx="110.98" cy="297.05" r="0.45" fill="#8a8a8a"/><circle cx="116.89" cy="297.05" r="0.45" fill="#8a8a8a"/><circle cx="122.79" cy="297.05" r="0.45" fill="#8a8a8a"/><circle cx="128.69" cy="297.05" r="0.45" fill="#8a8a8a"/><circle cx="134.60" cy="297.05" r="0.45" fill="#8a8a8a"/><circle cx="140.50" cy="297.05" r="2.15" fill="#f5a182" stroke="#444" stroke-width="0.4"/><circle cx="146.41" cy="297.05" r="0.45" fill="#8a8a8a"/><circle cx="152.31" cy="297.05" r="0.45" fill="#8a8a8a"/><circle cx="158.22" cy="297.05" r="0.45" fill="#8a8a8a"/><circle cx="164.12" cy="297.05" r="0.45" fill="#8a8a8a"/><circle cx="170.03" cy="297.05" r="0.45" fill="#8a8a8a"/><circle cx="175.94" cy="297.05" r="0.8" fill="#d8cfcb" stroke="#555" stroke-width="0.4"/><circle cx="181.84" cy="297.05" r="0.45" fill="#8a8a8a"/><circle cx="187.75" cy="297.05" r="0.45" fill="#8a8a8a"/><circle cx="193.65" cy="297.05" r="0.45" fill="#8a8a8a"/><circle cx="199.56" cy="297.05" r="2.15" fill="#f5a182" stroke="#444" stroke-width="0.4"/><circle cx="205.46" cy="297.05" r="0.45" fill="#8a8a8a"/><circle cx="211.37" cy="297.05" r="0.45" fill="#8a8a8a"/><circle cx="217.27" cy="297.05" r="0.45" fill="#8a8a8a"/><circle cx="223.18" cy="297.05" r="0.45" fill="#8a8a8a"/><circle cx="229.08" cy="297.05" r="0.45" fill="#8a8a8a"/><circle cx="234.99" cy="297.05" r="1.4" fill="#fde3d6" stroke="#444" stroke-width="0.4"/><circle cx="240.89" cy="297.05" r="0.45" fill="#8a8a8a"/><circle cx="246.80" cy="297.05" r="0.45" fill="#8a8a8a"/><circle cx="252.70" cy="297.05" r="0.45" fill="#8a8a8a"/><circle cx="258.61" cy="297.05" r="0.45" fill="#8a8a8a"/><circle cx="264.51" cy="297.05" r="0.45" fill="#8a8a8a"/><circle cx="270.42" cy="297.05" r="0.45" fill="#8a8a8a"/><circle cx="276.32" cy="297.05" r="0.45" fill="#8a8a8a"/><circle cx="282.23" cy="297.05" r="0.45" fill="#8a8a8a"/><circle cx="288.13" cy="297.05" r="0.45" fill="#8a8a8a"/><circle cx="294.04" cy="297.05" r="0.45" fill="#8a8a8a"/><circle cx="299.94" cy="297.05" r="0.45" fill="#8a8a8a"/><circle cx="305.85" cy="297.05" r="0.45" fill="#8a8a8a"/><circle cx="311.75" cy="297.05" r="2.4" fill="#d4372a" stroke="#444" stroke-width="0.4"/><circle cx="317.66" cy="297.05" r="2.4" fill="#d4372a" stroke="#444" stroke-width="0.4"/><circle cx="323.56" cy="297.05" r="2.3" fill="#eb6d4e" stroke="#444" stroke-width="0.4"/><circle cx="329.47" cy="297.05" r="2.4" fill="#d4372a" stroke="#444" stroke-width="0.4"/><circle cx="335.37" cy="297.05" r="2.3" fill="#eb6d4e" stroke="#444" stroke-width="0.4"/><circle cx="341.28" cy="297.05" r="2.15" fill="#f5a182" stroke="#444" stroke-width="0.4"/><circle cx="347.18" cy="297.05" r="0.45" fill="#8a8a8a"/><circle cx="353.09" cy="297.05" r="0.45" fill="#8a8a8a"/><circle cx="358.99" cy="297.05" r="0.8" fill="#d8cfcb" stroke="#555" stroke-width="0.4"/><circle cx="364.90" cy="297.05" r="0.45" fill="#8a8a8a"/><circle cx="370.80" cy="297.05" r="0.45" fill="#8a8a8a"/><circle cx="376.71" cy="297.05" r="0.45" fill="#8a8a8a"/><circle cx="382.61" cy="297.05" r="0.45" fill="#8a8a8a"/><circle cx="388.52" cy="297.05" r="0.45" fill="#8a8a8a"/><circle cx="394.42" cy="297.05" r="0.8" fill="#d8cfcb" stroke="#555" stroke-width="0.4"/><circle cx="400.32" cy="297.05" r="0.45" fill="#8a8a8a"/><circle cx="406.23" cy="297.05" r="1.4" fill="#fde3d6" stroke="#444" stroke-width="0.4"/><circle cx="412.13" cy="297.05" r="0.45" fill="#8a8a8a"/><circle cx="418.04" cy="297.05" r="0.45" fill="#8a8a8a"/><circle cx="423.94" cy="297.05" r="0.45" fill="#8a8a8a"/><circle cx="429.85" cy="297.05" r="2.15" fill="#f5a182" stroke="#444" stroke-width="0.4"/><circle cx="435.75" cy="297.05" r="2.15" fill="#f5a182" stroke="#444" stroke-width="0.4"/><circle cx="441.66" cy="297.05" r="0.45" fill="#8a8a8a"/><circle cx="447.56" cy="297.05" r="0.45" fill="#8a8a8a"/><circle cx="453.47" cy="297.05" r="2.3" fill="#eb6d4e" stroke="#444" stroke-width="0.4"/><circle cx="16.50" cy="302.25" r="0.45" fill="#8a8a8a"/><circle cx="22.41" cy="302.25" r="2.3" fill="#eb6d4e" stroke="#444" stroke-width="0.4"/><circle cx="28.31" cy="302.25" r="0.45" fill="#8a8a8a"/><circle cx="34.22" cy="302.25" r="0.45" fill="#8a8a8a"/><circle cx="40.12" cy="302.25" r="2.3" fill="#eb6d4e" stroke="#444" stroke-width="0.4"/><circle cx="46.03" cy="302.25" r="0.45" fill="#8a8a8a"/><circle cx="51.93" cy="302.25" r="0.45" fill="#8a8a8a"/><circle cx="57.84" cy="302.25" r="0.45" fill="#8a8a8a"/><circle cx="63.74" cy="302.25" r="0.45" fill="#8a8a8a"/><circle cx="69.65" cy="302.25" r="0.45" fill="#8a8a8a"/><circle cx="75.55" cy="302.25" r="0.45" fill="#8a8a8a"/><circle cx="81.45" cy="302.25" r="0.45" fill="#8a8a8a"/><circle cx="87.36" cy="302.25" r="0.45" fill="#8a8a8a"/><circle cx="93.27" cy="302.25" r="0.45" fill="#8a8a8a"/><circle cx="99.17" cy="302.25" r="0.45" fill="#8a8a8a"/><circle cx="105.08" cy="302.25" r="0.45" fill="#8a8a8a"/><circle cx="110.98" cy="302.25" r="0.45" fill="#8a8a8a"/><circle cx="116.89" cy="302.25" r="2.15" fill="#f5a182" stroke="#444" stroke-width="0.4"/><circle cx="122.79" cy="302.25" r="0.45" fill="#8a8a8a"/><circle cx="128.69" cy="302.25" r="0.45" fill="#8a8a8a"/><circle cx="134.60" cy="302.25" r="0.45" fill="#8a8a8a"/><circle cx="140.50" cy="302.25" r="2.3" fill="#eb6d4e" stroke="#444" stroke-width="0.4"/><circle cx="146.41" cy="302.25" r="0.45" fill="#8a8a8a"/><circle cx="152.31" cy="302.25" r="0.45" fill="#8a8a8a"/><circle cx="158.22" cy="302.25" r="0.45" fill="#8a8a8a"/><circle cx="164.12" cy="302.25" r="0.45" fill="#8a8a8a"/><circle cx="170.03" cy="302.25" r="0.45" fill="#8a8a8a"/><circle cx="175.94" cy="302.25" r="0.45" fill="#8a8a8a"/><circle cx="181.84" cy="302.25" r="0.45" fill="#8a8a8a"/><circle cx="187.75" cy="302.25" r="0.45" fill="#8a8a8a"/><circle cx="193.65" cy="302.25" r="0.45" fill="#8a8a8a"/><circle cx="199.56" cy="302.25" r="0.8" fill="#d8cfcb" stroke="#555" stroke-width="0.4"/><circle cx="205.46" cy="302.25" r="0.45" fill="#8a8a8a"/><circle cx="211.37" cy="302.25" r="0.45" fill="#8a8a8a"/><circle cx="217.27" cy="302.25" r="0.45" fill="#8a8a8a"/><circle cx="223.18" cy="302.25" r="0.45" fill="#8a8a8a"/><circle cx="229.08" cy="302.25" r="0.45" fill="#8a8a8a"/><circle cx="234.99" cy="302.25" r="0.8" fill="#d8cfcb" stroke="#555" stroke-width="0.4"/><circle cx="240.89" cy="302.25" r="1.95" fill="#fcd2bd" stroke="#444" stroke-width="0.4"/><circle cx="246.80" cy="302.25" r="0.45" fill="#8a8a8a"/><circle cx="252.70" cy="302.25" r="0.45" fill="#8a8a8a"/><circle cx="258.61" cy="302.25" r="0.45" fill="#8a8a8a"/><circle cx="264.51" cy="302.25" r="0.45" fill="#8a8a8a"/><circle cx="270.42" cy="302.25" r="0.45" fill="#8a8a8a"/><circle cx="276.32" cy="302.25" r="0.45" fill="#8a8a8a"/><circle cx="282.23" cy="302.25" r="0.45" fill="#8a8a8a"/><circle cx="288.13" cy="302.25" r="0.45" fill="#8a8a8a"/><circle cx="294.04" cy="302.25" r="0.8" fill="#d8cfcb" stroke="#555" stroke-width="0.4"/><circle cx="299.94" cy="302.25" r="0.45" fill="#8a8a8a"/><circle cx="305.85" cy="302.25" r="0.45" fill="#8a8a8a"/><circle cx="311.75" cy="302.25" r="0.45" fill="#8a8a8a"/><circle cx="317.66" cy="302.25" r="0.45" fill="#8a8a8a"/><circle cx="323.56" cy="302.25" r="0.45" fill="#8a8a8a"/><circle cx="329.47" cy="302.25" r="0.45" fill="#8a8a8a"/><circle cx="335.37" cy="302.25" r="1.4" fill="#fde3d6" stroke="#444" stroke-width="0.4"/><circle cx="341.28" cy="302.25" r="2.45" fill="#a8111c" stroke="#444" stroke-width="0.4"/><circle cx="347.18" cy="302.25" r="2.4" fill="#d4372a" stroke="#444" stroke-width="0.4"/><circle cx="353.09" cy="302.25" r="2.4" fill="#d4372a" stroke="#444" stroke-width="0.4"/><circle cx="358.99" cy="302.25" r="2.4" fill="#d4372a" stroke="#444" stroke-width="0.4"/><circle cx="364.90" cy="302.25" r="2.3" fill="#eb6d4e" stroke="#444" stroke-width="0.4"/><circle cx="370.80" cy="302.25" r="0.45" fill="#8a8a8a"/><circle cx="376.71" cy="302.25" r="0.45" fill="#8a8a8a"/><circle cx="382.61" cy="302.25" r="0.45" fill="#8a8a8a"/><circle cx="388.52" cy="302.25" r="0.45" fill="#8a8a8a"/><circle cx="394.42" cy="302.25" r="0.45" fill="#8a8a8a"/><circle cx="400.32" cy="302.25" r="0.45" fill="#8a8a8a"/><circle cx="406.23" cy="302.25" r="2.3" fill="#eb6d4e" stroke="#444" stroke-width="0.4"/><circle cx="412.13" cy="302.25" r="0.45" fill="#8a8a8a"/><circle cx="418.04" cy="302.25" r="0.45" fill="#8a8a8a"/><circle cx="423.94" cy="302.25" r="0.45" fill="#8a8a8a"/><circle cx="429.85" cy="302.25" r="0.45" fill="#8a8a8a"/><circle cx="435.75" cy="302.25" r="2.3" fill="#eb6d4e" stroke="#444" stroke-width="0.4"/><circle cx="441.66" cy="302.25" r="0.8" fill="#d8cfcb" stroke="#555" stroke-width="0.4"/><circle cx="447.56" cy="302.25" r="1.4" fill="#fde3d6" stroke="#444" stroke-width="0.4"/><circle cx="453.47" cy="302.25" r="0.45" fill="#8a8a8a"/><circle cx="16.50" cy="307.46" r="2.3" fill="#eb6d4e" stroke="#444" stroke-width="0.4"/><circle cx="22.41" cy="307.46" r="2.3" fill="#eb6d4e" stroke="#444" stroke-width="0.4"/><circle cx="28.31" cy="307.46" r="0.45" fill="#8a8a8a"/><circle cx="34.22" cy="307.46" r="2.4" fill="#d4372a" stroke="#444" stroke-width="0.4"/><circle cx="40.12" cy="307.46" r="2.3" fill="#eb6d4e" stroke="#444" stroke-width="0.4"/><circle cx="46.03" cy="307.46" r="0.45" fill="#8a8a8a"/><circle cx="51.93" cy="307.46" r="0.45" fill="#8a8a8a"/><circle cx="57.84" cy="307.46" r="0.45" fill="#8a8a8a"/><circle cx="63.74" cy="307.46" r="0.45" fill="#8a8a8a"/><circle cx="69.65" cy="307.46" r="0.45" fill="#8a8a8a"/><circle cx="75.55" cy="307.46" r="0.8" fill="#d8cfcb" stroke="#555" stroke-width="0.4"/><circle cx="81.45" cy="307.46" r="0.8" fill="#d8cfcb" stroke="#555" stroke-width="0.4"/><circle cx="87.36" cy="307.46" r="2.4" fill="#d4372a" stroke="#444" stroke-width="0.4"/><circle cx="93.27" cy="307.46" r="0.8" fill="#d8cfcb" stroke="#555" stroke-width="0.4"/><circle cx="99.17" cy="307.46" r="1.4" fill="#fde3d6" stroke="#444" stroke-width="0.4"/><circle cx="105.08" cy="307.46" r="0.45" fill="#8a8a8a"/><circle cx="110.98" cy="307.46" r="0.45" fill="#8a8a8a"/><circle cx="116.89" cy="307.46" r="0.45" fill="#8a8a8a"/><circle cx="122.79" cy="307.46" r="0.45" fill="#8a8a8a"/><circle cx="128.69" cy="307.46" r="0.45" fill="#8a8a8a"/><circle cx="134.60" cy="307.46" r="0.45" fill="#8a8a8a"/><circle cx="140.50" cy="307.46" r="2.15" fill="#f5a182" stroke="#444" stroke-width="0.4"/><circle cx="146.41" cy="307.46" r="0.45" fill="#8a8a8a"/><circle cx="152.31" cy="307.46" r="0.45" fill="#8a8a8a"/><circle cx="158.22" cy="307.46" r="0.45" fill="#8a8a8a"/><circle cx="164.12" cy="307.46" r="0.45" fill="#8a8a8a"/><circle cx="170.03" cy="307.46" r="2.45" fill="#a8111c" stroke="#444" stroke-width="0.4"/><circle cx="175.94" cy="307.46" r="2.3" fill="#eb6d4e" stroke="#444" stroke-width="0.4"/><circle cx="181.84" cy="307.46" r="0.45" fill="#8a8a8a"/><circle cx="187.75" cy="307.46" r="0.45" fill="#8a8a8a"/><circle cx="193.65" cy="307.46" r="0.45" fill="#8a8a8a"/><circle cx="199.56" cy="307.46" r="2.15" fill="#f5a182" stroke="#444" stroke-width="0.4"/><circle cx="205.46" cy="307.46" r="0.45" fill="#8a8a8a"/><circle cx="211.37" cy="307.46" r="0.45" fill="#8a8a8a"/><circle cx="217.27" cy="307.46" r="0.45" fill="#8a8a8a"/><circle cx="223.18" cy="307.46" r="0.45" fill="#8a8a8a"/><circle cx="229.08" cy="307.46" r="0.45" fill="#8a8a8a"/><circle cx="234.99" cy="307.46" r="2.15" fill="#f5a182" stroke="#444" stroke-width="0.4"/><circle cx="240.89" cy="307.46" r="0.8" fill="#d8cfcb" stroke="#555" stroke-width="0.4"/><circle cx="246.80" cy="307.46" r="0.45" fill="#8a8a8a"/><circle cx="252.70" cy="307.46" r="0.45" fill="#8a8a8a"/><circle cx="258.61" cy="307.46" r="0.45" fill="#8a8a8a"/><circle cx="264.51" cy="307.46" r="0.45" fill="#8a8a8a"/><circle cx="270.42" cy="307.46" r="0.45" fill="#8a8a8a"/><circle cx="276.32" cy="307.46" r="0.45" fill="#8a8a8a"/><circle cx="282.23" cy="307.46" r="0.45" fill="#8a8a8a"/><circle cx="288.13" cy="307.46" r="0.45" fill="#8a8a8a"/><circle cx="294.04" cy="307.46" r="0.45" fill="#8a8a8a"/><circle cx="299.94" cy="307.46" r="0.45" fill="#8a8a8a"/><circle cx="305.85" cy="307.46" r="0.45" fill="#8a8a8a"/><circle cx="311.75" cy="307.46" r="0.45" fill="#8a8a8a"/><circle cx="317.66" cy="307.46" r="0.45" fill="#8a8a8a"/><circle cx="323.56" cy="307.46" r="0.45" fill="#8a8a8a"/><circle cx="329.47" cy="307.46" r="0.45" fill="#8a8a8a"/><circle cx="335.37" cy="307.46" r="0.45" fill="#8a8a8a"/><circle cx="341.28" cy="307.46" r="0.8" fill="#d8cfcb" stroke="#555" stroke-width="0.4"/><circle cx="347.18" cy="307.46" r="0.8" fill="#d8cfcb" stroke="#555" stroke-width="0.4"/><circle cx="353.09" cy="307.46" r="0.8" fill="#d8cfcb" stroke="#555" stroke-width="0.4"/><circle cx="358.99" cy="307.46" r="0.8" fill="#d8cfcb" stroke="#555" stroke-width="0.4"/><circle cx="364.90" cy="307.46" r="0.8" fill="#d8cfcb" stroke="#555" stroke-width="0.4"/><circle cx="370.80" cy="307.46" r="2.4" fill="#d4372a" stroke="#444" stroke-width="0.4"/><circle cx="376.71" cy="307.46" r="2.4" fill="#d4372a" stroke="#444" stroke-width="0.4"/><circle cx="382.61" cy="307.46" r="2.4" fill="#d4372a" stroke="#444" stroke-width="0.4"/><circle cx="388.52" cy="307.46" r="2.3" fill="#eb6d4e" stroke="#444" stroke-width="0.4"/><circle cx="394.42" cy="307.46" r="2.4" fill="#d4372a" stroke="#444" stroke-width="0.4"/><circle cx="400.32" cy="307.46" r="0.45" fill="#8a8a8a"/><circle cx="406.23" cy="307.46" r="1.95" fill="#fcd2bd" stroke="#444" stroke-width="0.4"/><circle cx="412.13" cy="307.46" r="0.45" fill="#8a8a8a"/><circle cx="418.04" cy="307.46" r="0.45" fill="#8a8a8a"/><circle cx="423.94" cy="307.46" r="0.45" fill="#8a8a8a"/><circle cx="429.85" cy="307.46" r="1.95" fill="#fcd2bd" stroke="#444" stroke-width="0.4"/><circle cx="435.75" cy="307.46" r="2.15" fill="#f5a182" stroke="#444" stroke-width="0.4"/><circle cx="441.66" cy="307.46" r="0.45" fill="#8a8a8a"/><circle cx="447.56" cy="307.46" r="0.45" fill="#8a8a8a"/><circle cx="453.47" cy="307.46" r="2.15" fill="#f5a182" stroke="#444" stroke-width="0.4"/><circle cx="16.50" cy="312.67" r="2.15" fill="#f5a182" stroke="#444" stroke-width="0.4"/><circle cx="22.41" cy="312.67" r="2.3" fill="#eb6d4e" stroke="#444" stroke-width="0.4"/><circle cx="28.31" cy="312.67" r="0.45" fill="#8a8a8a"/><circle cx="34.22" cy="312.67" r="1.4" fill="#fde3d6" stroke="#444" stroke-width="0.4"/><circle cx="40.12" cy="312.67" r="2.15" fill="#f5a182" stroke="#444" stroke-width="0.4"/><circle cx="46.03" cy="312.67" r="0.8" fill="#d8cfcb" stroke="#555" stroke-width="0.4"/><circle cx="51.93" cy="312.67" r="0.45" fill="#8a8a8a"/><circle cx="57.84" cy="312.67" r="2.3" fill="#eb6d4e" stroke="#444" stroke-width="0.4"/><circle cx="63.74" cy="312.67" r="1.4" fill="#fde3d6" stroke="#444" stroke-width="0.4"/><circle cx="69.65" cy="312.67" r="1.4" fill="#fde3d6" stroke="#444" stroke-width="0.4"/><circle cx="75.55" cy="312.67" r="0.45" fill="#8a8a8a"/><circle cx="81.45" cy="312.67" r="0.45" fill="#8a8a8a"/><circle cx="87.36" cy="312.67" r="0.45" fill="#8a8a8a"/><circle cx="93.27" cy="312.67" r="0.8" fill="#d8cfcb" stroke="#555" stroke-width="0.4"/><circle cx="99.17" cy="312.67" r="0.8" fill="#d8cfcb" stroke="#555" stroke-width="0.4"/><circle cx="105.08" cy="312.67" r="0.45" fill="#8a8a8a"/><circle cx="110.98" cy="312.67" r="0.8" fill="#d8cfcb" stroke="#555" stroke-width="0.4"/><circle cx="116.89" cy="312.67" r="2.15" fill="#f5a182" stroke="#444" stroke-width="0.4"/><circle cx="122.79" cy="312.67" r="0.45" fill="#8a8a8a"/><circle cx="128.69" cy="312.67" r="0.8" fill="#d8cfcb" stroke="#555" stroke-width="0.4"/><circle cx="134.60" cy="312.67" r="0.45" fill="#8a8a8a"/><circle cx="140.50" cy="312.67" r="2.15" fill="#f5a182" stroke="#444" stroke-width="0.4"/><circle cx="146.41" cy="312.67" r="0.45" fill="#8a8a8a"/><circle cx="152.31" cy="312.67" r="0.45" fill="#8a8a8a"/><circle cx="158.22" cy="312.67" r="2.3" fill="#eb6d4e" stroke="#444" stroke-width="0.4"/><circle cx="164.12" cy="312.67" r="0.45" fill="#8a8a8a"/><circle cx="170.03" cy="312.67" r="0.45" fill="#8a8a8a"/><circle cx="175.94" cy="312.67" r="0.45" fill="#8a8a8a"/><circle cx="181.84" cy="312.67" r="0.45" fill="#8a8a8a"/><circle cx="187.75" cy="312.67" r="0.45" fill="#8a8a8a"/><circle cx="193.65" cy="312.67" r="0.45" fill="#8a8a8a"/><circle cx="199.56" cy="312.67" r="0.8" fill="#d8cfcb" stroke="#555" stroke-width="0.4"/><circle cx="205.46" cy="312.67" r="0.45" fill="#8a8a8a"/><circle cx="211.37" cy="312.67" r="0.45" fill="#8a8a8a"/><circle cx="217.27" cy="312.67" r="0.45" fill="#8a8a8a"/><circle cx="223.18" cy="312.67" r="0.45" fill="#8a8a8a"/><circle cx="229.08" cy="312.67" r="0.45" fill="#8a8a8a"/><circle cx="234.99" cy="312.67" r="1.4" fill="#fde3d6" stroke="#444" stroke-width="0.4"/><circle cx="240.89" cy="312.67" r="0.45" fill="#8a8a8a"/><circle cx="246.80" cy="312.67" r="0.45" fill="#8a8a8a"/><circle cx="252.70" cy="312.67" r="0.45" fill="#8a8a8a"/><circle cx="258.61" cy="312.67" r="0.45" fill="#8a8a8a"/><circle cx="264.51" cy="312.67" r="0.45" fill="#8a8a8a"/><circle cx="270.42" cy="312.67" r="0.45" fill="#8a8a8a"/><circle cx="276.32" cy="312.67" r="0.45" fill="#8a8a8a"/><circle cx="282.23" cy="312.67" r="0.45" fill="#8a8a8a"/><circle cx="288.13" cy="312.67" r="0.8" fill="#d8cfcb" stroke="#555" stroke-width="0.4"/><circle cx="294.04" cy="312.67" r="0.45" fill="#8a8a8a"/><circle cx="299.94" cy="312.67" r="0.45" fill="#8a8a8a"/><circle cx="305.85" cy="312.67" r="0.45" fill="#8a8a8a"/><circle cx="311.75" cy="312.67" r="0.45" fill="#8a8a8a"/><circle cx="317.66" cy="312.67" r="0.45" fill="#8a8a8a"/><circle cx="323.56" cy="312.67" r="0.45" fill="#8a8a8a"/><circle cx="329.47" cy="312.67" r="0.45" fill="#8a8a8a"/><circle cx="335.37" cy="312.67" r="0.45" fill="#8a8a8a"/><circle cx="341.28" cy="312.67" r="0.8" fill="#d8cfcb" stroke="#555" stroke-width="0.4"/><circle cx="347.18" cy="312.67" r="1.95" fill="#fcd2bd" stroke="#444" stroke-width="0.4"/><circle cx="353.09" cy="312.67" r="0.8" fill="#d8cfcb" stroke="#555" stroke-width="0.4"/><circle cx="358.99" cy="312.67" r="0.8" fill="#d8cfcb" stroke="#555" stroke-width="0.4"/><circle cx="364.90" cy="312.67" r="0.8" fill="#d8cfcb" stroke="#555" stroke-width="0.4"/><circle cx="370.80" cy="312.67" r="0.45" fill="#8a8a8a"/><circle cx="376.71" cy="312.67" r="0.45" fill="#8a8a8a"/><circle cx="382.61" cy="312.67" r="0.45" fill="#8a8a8a"/><circle cx="388.52" cy="312.67" r="0.45" fill="#8a8a8a"/><circle cx="394.42" cy="312.67" r="0.45" fill="#8a8a8a"/><circle cx="400.32" cy="312.67" r="2.3" fill="#eb6d4e" stroke="#444" stroke-width="0.4"/><circle cx="406.23" cy="312.67" r="2.4" fill="#d4372a" stroke="#444" stroke-width="0.4"/><circle cx="412.13" cy="312.67" r="2.3" fill="#eb6d4e" stroke="#444" stroke-width="0.4"/><circle cx="418.04" cy="312.67" r="2.45" fill="#a8111c" stroke="#444" stroke-width="0.4"/><circle cx="423.94" cy="312.67" r="2.15" fill="#f5a182" stroke="#444" stroke-width="0.4"/><circle cx="429.85" cy="312.67" r="0.8" fill="#d8cfcb" stroke="#555" stroke-width="0.4"/><circle cx="435.75" cy="312.67" r="1.95" fill="#fcd2bd" stroke="#444" stroke-width="0.4"/><circle cx="441.66" cy="312.67" r="1.4" fill="#fde3d6" stroke="#444" stroke-width="0.4"/><circle cx="447.56" cy="312.67" r="2.3" fill="#eb6d4e" stroke="#444" stroke-width="0.4"/><circle cx="453.47" cy="312.67" r="2.15" fill="#f5a182" stroke="#444" stroke-width="0.4"/><circle cx="16.50" cy="317.87" r="2.3" fill="#eb6d4e" stroke="#444" stroke-width="0.4"/><circle cx="22.41" cy="317.87" r="2.3" fill="#eb6d4e" stroke="#444" stroke-width="0.4"/><circle cx="28.31" cy="317.87" r="0.45" fill="#8a8a8a"/><circle cx="34.22" cy="317.87" r="2.3" fill="#eb6d4e" stroke="#444" stroke-width="0.4"/><circle cx="40.12" cy="317.87" r="2.3" fill="#eb6d4e" stroke="#444" stroke-width="0.4"/><circle cx="46.03" cy="317.87" r="0.45" fill="#8a8a8a"/><circle cx="51.93" cy="317.87" r="0.45" fill="#8a8a8a"/><circle cx="57.84" cy="317.87" r="1.4" fill="#fde3d6" stroke="#444" stroke-width="0.4"/><circle cx="63.74" cy="317.87" r="0.45" fill="#8a8a8a"/><circle cx="69.65" cy="317.87" r="0.45" fill="#8a8a8a"/><circle cx="75.55" cy="317.87" r="0.45" fill="#8a8a8a"/><circle cx="81.45" cy="317.87" r="0.45" fill="#8a8a8a"/><circle cx="87.36" cy="317.87" r="1.95" fill="#fcd2bd" stroke="#444" stroke-width="0.4"/><circle cx="93.27" cy="317.87" r="0.8" fill="#d8cfcb" stroke="#555" stroke-width="0.4"/><circle cx="99.17" cy="317.87" r="1.95" fill="#fcd2bd" stroke="#444" stroke-width="0.4"/><circle cx="105.08" cy="317.87" r="0.45" fill="#8a8a8a"/><circle cx="110.98" cy="317.87" r="0.45" fill="#8a8a8a"/><circle cx="116.89" cy="317.87" r="2.15" fill="#f5a182" stroke="#444" stroke-width="0.4"/><circle cx="122.79" cy="317.87" r="0.45" fill="#8a8a8a"/><circle cx="128.69" cy="317.87" r="0.45" fill="#8a8a8a"/><circle cx="134.60" cy="317.87" r="0.45" fill="#8a8a8a"/><circle cx="140.50" cy="317.87" r="2.3" fill="#eb6d4e" stroke="#444" stroke-width="0.4"/><circle cx="146.41" cy="317.87" r="0.45" fill="#8a8a8a"/><circle cx="152.31" cy="317.87" r="0.45" fill="#8a8a8a"/><circle cx="158.22" cy="317.87" r="0.8" fill="#d8cfcb" stroke="#555" stroke-width="0.4"/><circle cx="164.12" cy="317.87" r="0.45" fill="#8a8a8a"/><circle cx="170.03" cy="317.87" r="0.45" fill="#8a8a8a"/><circle cx="175.94" cy="317.87" r="2.15" fill="#f5a182" stroke="#444" stroke-width="0.4"/><circle cx="181.84" cy="317.87" r="0.45" fill="#8a8a8a"/><circle cx="187.75" cy="317.87" r="0.45" fill="#8a8a8a"/><circle cx="193.65" cy="317.87" r="0.45" fill="#8a8a8a"/><circle cx="199.56" cy="317.87" r="2.15" fill="#f5a182" stroke="#444" stroke-width="0.4"/><circle cx="205.46" cy="317.87" r="0.45" fill="#8a8a8a"/><circle cx="211.37" cy="317.87" r="0.45" fill="#8a8a8a"/><circle cx="217.27" cy="317.87" r="0.45" fill="#8a8a8a"/><circle cx="223.18" cy="317.87" r="0.45" fill="#8a8a8a"/><circle cx="229.08" cy="317.87" r="0.45" fill="#8a8a8a"/><circle cx="234.99" cy="317.87" r="1.95" fill="#fcd2bd" stroke="#444" stroke-width="0.4"/><circle cx="240.89" cy="317.87" r="0.45" fill="#8a8a8a"/><circle cx="246.80" cy="317.87" r="0.45" fill="#8a8a8a"/><circle cx="252.70" cy="317.87" r="0.45" fill="#8a8a8a"/><circle cx="258.61" cy="317.87" r="0.45" fill="#8a8a8a"/><circle cx="264.51" cy="317.87" r="0.45" fill="#8a8a8a"/><circle cx="270.42" cy="317.87" r="0.45" fill="#8a8a8a"/><circle cx="276.32" cy="317.87" r="0.45" fill="#8a8a8a"/><circle cx="282.23" cy="317.87" r="0.45" fill="#8a8a8a"/><circle cx="288.13" cy="317.87" r="0.45" fill="#8a8a8a"/><circle cx="294.04" cy="317.87" r="0.45" fill="#8a8a8a"/><circle cx="299.94" cy="317.87" r="0.45" fill="#8a8a8a"/><circle cx="305.85" cy="317.87" r="0.45" fill="#8a8a8a"/><circle cx="311.75" cy="317.87" r="0.45" fill="#8a8a8a"/><circle cx="317.66" cy="317.87" r="0.45" fill="#8a8a8a"/><circle cx="323.56" cy="317.87" r="0.45" fill="#8a8a8a"/><circle cx="329.47" cy="317.87" r="0.45" fill="#8a8a8a"/><circle cx="335.37" cy="317.87" r="0.45" fill="#8a8a8a"/><circle cx="341.28" cy="317.87" r="0.8" fill="#d8cfcb" stroke="#555" stroke-width="0.4"/><circle cx="347.18" cy="317.87" r="0.8" fill="#d8cfcb" stroke="#555" stroke-width="0.4"/><circle cx="353.09" cy="317.87" r="0.8" fill="#d8cfcb" stroke="#555" stroke-width="0.4"/><circle cx="358.99" cy="317.87" r="0.8" fill="#d8cfcb" stroke="#555" stroke-width="0.4"/><circle cx="364.90" cy="317.87" r="0.8" fill="#d8cfcb" stroke="#555" stroke-width="0.4"/><circle cx="370.80" cy="317.87" r="0.45" fill="#8a8a8a"/><circle cx="376.71" cy="317.87" r="0.45" fill="#8a8a8a"/><circle cx="382.61" cy="317.87" r="0.45" fill="#8a8a8a"/><circle cx="388.52" cy="317.87" r="0.45" fill="#8a8a8a"/><circle cx="394.42" cy="317.87" r="0.8" fill="#d8cfcb" stroke="#555" stroke-width="0.4"/><circle cx="400.32" cy="317.87" r="0.45" fill="#8a8a8a"/><circle cx="406.23" cy="317.87" r="2.3" fill="#eb6d4e" stroke="#444" stroke-width="0.4"/><circle cx="412.13" cy="317.87" r="0.8" fill="#d8cfcb" stroke="#555" stroke-width="0.4"/><circle cx="418.04" cy="317.87" r="0.45" fill="#8a8a8a"/><circle cx="423.94" cy="317.87" r="0.45" fill="#8a8a8a"/><circle cx="429.85" cy="317.87" r="2.45" fill="#a8111c" stroke="#444" stroke-width="0.4"/><circle cx="435.75" cy="317.87" r="2.45" fill="#a8111c" stroke="#444" stroke-width="0.4"/><circle cx="441.66" cy="317.87" r="2.45" fill="#a8111c" stroke="#444" stroke-width="0.4"/><circle cx="447.56" cy="317.87" r="2.4" fill="#d4372a" stroke="#444" stroke-width="0.4"/><circle cx="453.47" cy="317.87" r="2.4" fill="#d4372a" stroke="#444" stroke-width="0.4"/>
<text x="10.0" y="246.20" font-size="3.4" text-anchor="end" fill="#333">DC</text><line x1="10.7" x2="11.8" y1="245.00" y2="245.00" stroke="#333" stroke-width="0.45"/><text x="10.0" y="251.41" font-size="3.4" text-anchor="end" fill="#333">DCT</text><line x1="10.7" x2="11.8" y1="250.21" y2="250.21" stroke="#333" stroke-width="0.45"/><text x="10.0" y="256.61" font-size="3.4" text-anchor="end" fill="#333">EC</text><line x1="10.7" x2="11.8" y1="255.41" y2="255.41" stroke="#333" stroke-width="0.45"/><text x="10.0" y="261.81" font-size="3.4" text-anchor="end" fill="#333">IC-A</text><line x1="10.7" x2="11.8" y1="260.62" y2="260.62" stroke="#333" stroke-width="0.45"/><text x="10.0" y="267.02" font-size="3.4" text-anchor="end" fill="#333">IC-B</text><line x1="10.7" x2="11.8" y1="265.82" y2="265.82" stroke="#333" stroke-width="0.45"/><text x="10.0" y="272.22" font-size="3.4" text-anchor="end" fill="#333">MC</text><line x1="10.7" x2="11.8" y1="271.02" y2="271.02" stroke="#333" stroke-width="0.45"/><text x="10.0" y="277.43" font-size="3.4" text-anchor="end" fill="#333">Mφ</text><line x1="10.7" x2="11.8" y1="276.23" y2="276.23" stroke="#333" stroke-width="0.45"/><text x="10.0" y="282.63" font-size="3.4" text-anchor="end" fill="#333">NEUT</text><line x1="10.7" x2="11.8" y1="281.44" y2="281.44" stroke="#333" stroke-width="0.45"/><text x="10.0" y="287.84" font-size="3.4" text-anchor="end" fill="#333">NK</text><line x1="10.7" x2="11.8" y1="286.64" y2="286.64" stroke="#333" stroke-width="0.45"/><text x="10.0" y="293.05" font-size="3.4" text-anchor="end" fill="#333">PC</text><line x1="10.7" x2="11.8" y1="291.85" y2="291.85" stroke="#333" stroke-width="0.45"/><text x="10.0" y="298.25" font-size="3.4" text-anchor="end" fill="#333">POD</text><line x1="10.7" x2="11.8" y1="297.05" y2="297.05" stroke="#333" stroke-width="0.45"/><text x="10.0" y="303.45" font-size="3.4" text-anchor="end" fill="#333">PT</text><line x1="10.7" x2="11.8" y1="302.25" y2="302.25" stroke="#333" stroke-width="0.45"/><text x="10.0" y="308.66" font-size="3.4" text-anchor="end" fill="#333">SMC</text><line x1="10.7" x2="11.8" y1="307.46" y2="307.46" stroke="#333" stroke-width="0.45"/><text x="10.0" y="313.87" font-size="3.4" text-anchor="end" fill="#333">TAL</text><line x1="10.7" x2="11.8" y1="312.67" y2="312.67" stroke="#333" stroke-width="0.45"/><text x="10.0" y="319.07" font-size="3.4" text-anchor="end" fill="#333">TL</text><line x1="10.7" x2="11.8" y1="317.87" y2="317.87" stroke="#333" stroke-width="0.45"/><line x1="16.50" x2="16.50" y1="323.2" y2="324.2" stroke="#333" stroke-width="0.45"/><text x="17.60" y="325.0" font-size="3.3" text-anchor="end" fill="#444" textLength="24" transform="rotate(-90 17.60 325.0)">LOC100911405</text><line x1="22.41" x2="22.41" y1="323.2" y2="324.2" stroke="#333" stroke-width="0.45"/><text x="23.51" y="325.0" font-size="3.3" text-anchor="end" fill="#444" textLength="8.4" transform="rotate(-90 23.51 325.0)">Cd74</text><line x1="28.31" x2="28.31" y1="323.2" y2="324.2" stroke="#333" stroke-width="0.45"/><text x="29.41" y="325.0" font-size="3.3" text-anchor="end" fill="#444" textLength="10.8" transform="rotate(-90 29.41 325.0)">Coro1a</text><line x1="34.22" x2="34.22" y1="323.2" y2="324.2" stroke="#333" stroke-width="0.45"/><text x="35.32" y="325.0" font-size="3.3" text-anchor="end" fill="#444" textLength="12" transform="rotate(-90 35.32 325.0)">Tmsb4x</text><line x1="40.12" x2="40.12" y1="323.2" y2="324.2" stroke="#333" stroke-width="0.45"/><text x="41.22" y="325.0" font-size="3.3" text-anchor="end" fill="#444" textLength="8.4" transform="rotate(-90 41.22 325.0)">Rac2</text><line x1="46.03" x2="46.03" y1="323.2" y2="324.2" stroke="#333" stroke-width="0.45"/><text x="47.13" y="325.0" font-size="3.3" text-anchor="end" fill="#444" textLength="14.4" transform="rotate(-90 47.13 325.0)">Tmem52b</text><line x1="51.93" x2="51.93" y1="323.2" y2="324.2" stroke="#333" stroke-width="0.45"/><text x="53.03" y="325.0" font-size="3.3" text-anchor="end" fill="#444" textLength="11.4" transform="rotate(-90 53.03 325.0)">Slc12a3</text><line x1="57.84" x2="57.84" y1="323.2" y2="324.2" stroke="#333" stroke-width="0.45"/><text x="58.94" y="325.0" font-size="3.3" text-anchor="end" fill="#444" textLength="9.6" transform="rotate(-90 58.94 325.0)">Pvalb</text><line x1="63.74" x2="63.74" y1="323.2" y2="324.2" stroke="#333" stroke-width="0.45"/><text x="64.84" y="325.0" font-size="3.3" text-anchor="end" fill="#444" textLength="8.4" transform="rotate(-90 64.84 325.0)">Calb1</text><line x1="69.65" x2="69.65" y1="323.2" y2="324.2" stroke="#333" stroke-width="0.45"/><text x="70.75" y="325.0" font-size="3.3" text-anchor="end" fill="#444" textLength="11.4" transform="rotate(-90 70.75 325.0)">Abca13</text><line x1="75.55" x2="75.55" y1="323.2" y2="324.2" stroke="#333" stroke-width="0.45"/><text x="76.65" y="325.0" font-size="3.3" text-anchor="end" fill="#444" textLength="8.4" transform="rotate(-90 76.65 325.0)">Plvap</text><line x1="81.45" x2="81.45" y1="323.2" y2="324.2" stroke="#333" stroke-width="0.45"/><text x="82.55" y="325.0" font-size="3.3" text-anchor="end" fill="#444" textLength="7.8" transform="rotate(-90 82.55 325.0)">Egfl7</text><line x1="87.36" x2="87.36" y1="323.2" y2="324.2" stroke="#333" stroke-width="0.45"/><text x="88.46" y="325.0" font-size="3.3" text-anchor="end" fill="#444" textLength="8.4" transform="rotate(-90 88.46 325.0)">Emcn</text><line x1="93.27" x2="93.27" y1="323.2" y2="324.2" stroke="#333" stroke-width="0.45"/><text x="94.36" y="325.0" font-size="3.3" text-anchor="end" fill="#444" textLength="6.6" transform="rotate(-90 94.36 325.0)">Kdr</text><line x1="99.17" x2="99.17" y1="323.2" y2="324.2" stroke="#333" stroke-width="0.45"/><text x="100.27" y="325.0" font-size="3.3" text-anchor="end" fill="#444" textLength="7.2" transform="rotate(-90 100.27 325.0)">Cd93</text><line x1="105.08" x2="105.08" y1="323.2" y2="324.2" stroke="#333" stroke-width="0.45"/><text x="106.17" y="325.0" font-size="3.3" text-anchor="end" fill="#444" textLength="7.8" transform="rotate(-90 106.17 325.0)">Rhcg</text><line x1="110.98" x2="110.98" y1="323.2" y2="324.2" stroke="#333" stroke-width="0.45"/><text x="112.08" y="325.0" font-size="3.3" text-anchor="end" fill="#444" textLength="14.4" transform="rotate(-90 112.08 325.0)">Atp6v1g3</text><line x1="116.89" x2="116.89" y1="323.2" y2="324.2" stroke="#333" stroke-width="0.45"/><text x="117.98" y="325.0" font-size="3.3" text-anchor="end" fill="#444" textLength="7.2" transform="rotate(-90 117.98 325.0)">Car2</text><line x1="122.79" x2="122.79" y1="323.2" y2="324.2" stroke="#333" stroke-width="0.45"/><text x="123.89" y="325.0" font-size="3.3" text-anchor="end" fill="#444" textLength="7.8" transform="rotate(-90 123.89 325.0)">Rhbg</text><line x1="128.69" x2="128.69" y1="323.2" y2="324.2" stroke="#333" stroke-width="0.45"/><text x="129.79" y="325.0" font-size="3.3" text-anchor="end" fill="#444" textLength="14.4" transform="rotate(-90 129.79 325.0)">Atp6v0d2</text><line x1="134.60" x2="134.60" y1="323.2" y2="324.2" stroke="#333" stroke-width="0.45"/><text x="135.70" y="325.0" font-size="3.3" text-anchor="end" fill="#444" textLength="14.4" transform="rotate(-90 135.70 325.0)">Atp6v1c2</text><line x1="140.50" x2="140.50" y1="323.2" y2="324.2" stroke="#333" stroke-width="0.45"/><text x="141.60" y="325.0" font-size="3.3" text-anchor="end" fill="#444" textLength="12" transform="rotate(-90 141.60 325.0)">Slc26a4</text><line x1="146.41" x2="146.41" y1="323.2" y2="324.2" stroke="#333" stroke-width="0.45"/><text x="147.51" y="325.0" font-size="3.3" text-anchor="end" fill="#444" textLength="11.4" transform="rotate(-90 147.51 325.0)">Slc4a9</text><line x1="152.31" x2="152.31" y1="323.2" y2="324.2" stroke="#333" stroke-width="0.45"/><text x="153.41" y="325.0" font-size="3.3" text-anchor="end" fill="#444" textLength="6.6" transform="rotate(-90 153.41 325.0)">Hmx2</text><line x1="158.22" x2="158.22" y1="323.2" y2="324.2" stroke="#333" stroke-width="0.45"/><text x="159.32" y="325.0" font-size="3.3" text-anchor="end" fill="#444" textLength="15" transform="rotate(-90 159.32 325.0)">Atp6v0a4</text><line x1="164.12" x2="164.12" y1="323.2" y2="324.2" stroke="#333" stroke-width="0.45"/><text x="165.22" y="325.0" font-size="3.3" text-anchor="end" fill="#444" textLength="9" transform="rotate(-90 165.22 325.0)">Pdgfrb</text><line x1="170.03" x2="170.03" y1="323.2" y2="324.2" stroke="#333" stroke-width="0.45"/><text x="171.13" y="325.0" font-size="3.3" text-anchor="end" fill="#444" textLength="6.6" transform="rotate(-90 171.13 325.0)">Ren</text><line x1="175.94" x2="175.94" y1="323.2" y2="324.2" stroke="#333" stroke-width="0.45"/><text x="177.03" y="325.0" font-size="3.3" text-anchor="end" fill="#444" textLength="6" transform="rotate(-90 177.03 325.0)">Dcn</text><line x1="181.84" x2="181.84" y1="323.2" y2="324.2" stroke="#333" stroke-width="0.45"/><text x="182.94" y="325.0" font-size="3.3" text-anchor="end" fill="#444" textLength="7.8" transform="rotate(-90 182.94 325.0)">Postn</text><line x1="187.75" x2="187.75" y1="323.2" y2="324.2" stroke="#333" stroke-width="0.45"/><text x="188.84" y="325.0" font-size="3.3" text-anchor="end" fill="#444" textLength="7.2" transform="rotate(-90 188.84 325.0)">Gja4</text><line x1="193.65" x2="193.65" y1="323.2" y2="324.2" stroke="#333" stroke-width="0.45"/><text x="194.75" y="325.0" font-size="3.3" text-anchor="end" fill="#444" textLength="6.6" transform="rotate(-90 194.75 325.0)">C1qa</text><line x1="199.56" x2="199.56" y1="323.2" y2="324.2" stroke="#333" stroke-width="0.45"/><text x="200.66" y="325.0" font-size="3.3" text-anchor="end" fill="#444" textLength="16.8" transform="rotate(-90 200.66 325.0)">LOC498276</text><line x1="205.46" x2="205.46" y1="323.2" y2="324.2" stroke="#333" stroke-width="0.45"/><text x="206.56" y="325.0" font-size="3.3" text-anchor="end" fill="#444" textLength="10.2" transform="rotate(-90 206.56 325.0)">Csf1r</text><line x1="211.37" x2="211.37" y1="323.2" y2="324.2" stroke="#333" stroke-width="0.45"/><text x="212.47" y="325.0" font-size="3.3" text-anchor="end" fill="#444" textLength="7.8" transform="rotate(-90 212.47 325.0)">Cd68</text><line x1="217.27" x2="217.27" y1="323.2" y2="324.2" stroke="#333" stroke-width="0.45"/><text x="218.37" y="325.0" font-size="3.3" text-anchor="end" fill="#444" textLength="6" transform="rotate(-90 218.37 325.0)">Aif1</text><line x1="223.18" x2="223.18" y1="323.2" y2="324.2" stroke="#333" stroke-width="0.45"/><text x="224.28" y="325.0" font-size="3.3" text-anchor="end" fill="#444" textLength="11.4" transform="rotate(-90 224.28 325.0)">S100a8</text><line x1="229.08" x2="229.08" y1="323.2" y2="324.2" stroke="#333" stroke-width="0.45"/><text x="230.18" y="325.0" font-size="3.3" text-anchor="end" fill="#444" textLength="7.2" transform="rotate(-90 230.18 325.0)">Il1b</text><line x1="234.99" x2="234.99" y1="323.2" y2="324.2" stroke="#333" stroke-width="0.45"/><text x="236.09" y="325.0" font-size="3.3" text-anchor="end" fill="#444" textLength="9.6" transform="rotate(-90 236.09 325.0)">Cxcl2</text><line x1="240.89" x2="240.89" y1="323.2" y2="324.2" stroke="#333" stroke-width="0.45"/><text x="241.99" y="325.0" font-size="3.3" text-anchor="end" fill="#444" textLength="8.4" transform="rotate(-90 241.99 325.0)">Lcn2</text><line x1="246.80" x2="246.80" y1="323.2" y2="324.2" stroke="#333" stroke-width="0.45"/><text x="247.90" y="325.0" font-size="3.3" text-anchor="end" fill="#444" textLength="9" transform="rotate(-90 247.90 325.0)">Mmp8</text><line x1="252.70" x2="252.70" y1="323.2" y2="324.2" stroke="#333" stroke-width="0.45"/><text x="253.80" y="325.0" font-size="3.3" text-anchor="end" fill="#444" textLength="7.8" transform="rotate(-90 253.80 325.0)">Nkg7</text><line x1="258.61" x2="258.61" y1="323.2" y2="324.2" stroke="#333" stroke-width="0.45"/><text x="259.71" y="325.0" font-size="3.3" text-anchor="end" fill="#444" textLength="9.6" transform="rotate(-90 259.71 325.0)">Klrd1</text><line x1="264.51" x2="264.51" y1="323.2" y2="324.2" stroke="#333" stroke-width="0.45"/><text x="265.61" y="325.0" font-size="3.3" text-anchor="end" fill="#444" textLength="6.6" transform="rotate(-90 265.61 325.0)">Ctsw</text><line x1="270.42" x2="270.42" y1="323.2" y2="324.2" stroke="#333" stroke-width="0.45"/><text x="271.52" y="325.0" font-size="3.3" text-anchor="end" fill="#444" textLength="7.8" transform="rotate(-90 271.52 325.0)">Gzma</text><line x1="276.32" x2="276.32" y1="323.2" y2="324.2" stroke="#333" stroke-width="0.45"/><text x="277.42" y="325.0" font-size="3.3" text-anchor="end" fill="#444" textLength="6.6" transform="rotate(-90 277.42 325.0)">Cd2</text><line x1="282.23" x2="282.23" y1="323.2" y2="324.2" stroke="#333" stroke-width="0.45"/><text x="283.33" y="325.0" font-size="3.3" text-anchor="end" fill="#444" textLength="7.8" transform="rotate(-90 283.33 325.0)">Aqp2</text><line x1="288.13" x2="288.13" y1="323.2" y2="324.2" stroke="#333" stroke-width="0.45"/><text x="289.23" y="325.0" font-size="3.3" text-anchor="end" fill="#444" textLength="13.8" transform="rotate(-90 289.23 325.0)">Hsd11b2</text><line x1="294.04" x2="294.04" y1="323.2" y2="324.2" stroke="#333" stroke-width="0.45"/><text x="295.14" y="325.0" font-size="3.3" text-anchor="end" fill="#444" textLength="7.8" transform="rotate(-90 295.14 325.0)">Aqp3</text><line x1="299.94" x2="299.94" y1="323.2" y2="324.2" stroke="#333" stroke-width="0.45"/><text x="301.04" y="325.0" font-size="3.3" text-anchor="end" fill="#444" textLength="10.8" transform="rotate(-90 301.04 325.0)">Scnn1g</text><line x1="305.85" x2="305.85" y1="323.2" y2="324.2" stroke="#333" stroke-width="0.45"/><text x="306.95" y="325.0" font-size="3.3" text-anchor="end" fill="#444" textLength="10.8" transform="rotate(-90 306.95 325.0)">Scnn1b</text><line x1="311.75" x2="311.75" y1="323.2" y2="324.2" stroke="#333" stroke-width="0.45"/><text x="312.85" y="325.0" font-size="3.3" text-anchor="end" fill="#444" textLength="9.6" transform="rotate(-90 312.85 325.0)">Nphs1</text><line x1="317.66" x2="317.66" y1="323.2" y2="324.2" stroke="#333" stroke-width="0.45"/><text x="318.76" y="325.0" font-size="3.3" text-anchor="end" fill="#444" textLength="9.6" transform="rotate(-90 318.76 325.0)">Nphs2</text><line x1="323.56" x2="323.56" y1="323.2" y2="324.2" stroke="#333" stroke-width="0.45"/><text x="324.66" y="325.0" font-size="3.3" text-anchor="end" fill="#444" textLength="6" transform="rotate(-90 324.66 325.0)">Wt1</text><line x1="329.47" x2="329.47" y1="323.2" y2="324.2" stroke="#333" stroke-width="0.45"/><text x="330.57" y="325.0" font-size="3.3" text-anchor="end" fill="#444" textLength="7.2" transform="rotate(-90 330.57 325.0)">Mafb</text><line x1="335.37" x2="335.37" y1="323.2" y2="324.2" stroke="#333" stroke-width="0.45"/><text x="336.47" y="325.0" font-size="3.3" text-anchor="end" fill="#444" textLength="9.6" transform="rotate(-90 336.47 325.0)">Podxl</text><line x1="341.28" x2="341.28" y1="323.2" y2="324.2" stroke="#333" stroke-width="0.45"/><text x="342.38" y="325.0" font-size="3.3" text-anchor="end" fill="#444" textLength="7.8" transform="rotate(-90 342.38 325.0)">Lrp2</text><line x1="347.18" x2="347.18" y1="323.2" y2="324.2" stroke="#333" stroke-width="0.45"/><text x="348.28" y="325.0" font-size="3.3" text-anchor="end" fill="#444" textLength="8.4" transform="rotate(-90 348.28 325.0)">Cubn</text><line x1="353.09" x2="353.09" y1="323.2" y2="324.2" stroke="#333" stroke-width="0.45"/><text x="354.19" y="325.0" font-size="3.3" text-anchor="end" fill="#444" textLength="7.8" transform="rotate(-90 354.19 325.0)">Kap</text><line x1="358.99" x2="358.99" y1="323.2" y2="324.2" stroke="#333" stroke-width="0.45"/><text x="360.09" y="325.0" font-size="3.3" text-anchor="end" fill="#444" textLength="7.8" transform="rotate(-90 360.09 325.0)">Spp2</text><line x1="364.90" x2="364.90" y1="323.2" y2="324.2" stroke="#333" stroke-width="0.45"/><text x="366.00" y="325.0" font-size="3.3" text-anchor="end" fill="#444" textLength="7.2" transform="rotate(-90 366.00 325.0)">Aldob</text><line x1="370.80" x2="370.80" y1="323.2" y2="324.2" stroke="#333" stroke-width="0.45"/><text x="371.90" y="325.0" font-size="3.3" text-anchor="end" fill="#444" textLength="6.6" transform="rotate(-90 371.90 325.0)">Myl9</text><line x1="376.71" x2="376.71" y1="323.2" y2="324.2" stroke="#333" stroke-width="0.45"/><text x="377.81" y="325.0" font-size="3.3" text-anchor="end" fill="#444" textLength="7.8" transform="rotate(-90 377.81 325.0)">Tagln</text><line x1="382.61" x2="382.61" y1="323.2" y2="324.2" stroke="#333" stroke-width="0.45"/><text x="383.71" y="325.0" font-size="3.3" text-anchor="end" fill="#444" textLength="9" transform="rotate(-90 383.71 325.0)">Myh11</text><line x1="388.52" x2="388.52" y1="323.2" y2="324.2" stroke="#333" stroke-width="0.45"/><text x="389.62" y="325.0" font-size="3.3" text-anchor="end" fill="#444" textLength="9.6" transform="rotate(-90 389.62 325.0)">Acta2</text><line x1="394.42" x2="394.42" y1="323.2" y2="324.2" stroke="#333" stroke-width="0.45"/><text x="395.52" y="325.0" font-size="3.3" text-anchor="end" fill="#444" textLength="6.6" transform="rotate(-90 395.52 325.0)">Cnn1</text><line x1="400.32" x2="400.32" y1="323.2" y2="324.2" stroke="#333" stroke-width="0.45"/><text x="401.43" y="325.0" font-size="3.3" text-anchor="end" fill="#444" textLength="12" transform="rotate(-90 401.43 325.0)">Slc12a1</text><line x1="406.23" x2="406.23" y1="323.2" y2="324.2" stroke="#333" stroke-width="0.45"/><text x="407.33" y="325.0" font-size="3.3" text-anchor="end" fill="#444" textLength="10.8" transform="rotate(-90 407.33 325.0)">Ptger3</text><line x1="412.13" x2="412.13" y1="323.2" y2="324.2" stroke="#333" stroke-width="0.45"/><text x="413.24" y="325.0" font-size="3.3" text-anchor="end" fill="#444" textLength="12.6" transform="rotate(-90 413.24 325.0)">Cldn16</text><line x1="418.04" x2="418.04" y1="323.2" y2="324.2" stroke="#333" stroke-width="0.45"/><text x="419.14" y="325.0" font-size="3.3" text-anchor="end" fill="#444" textLength="9.6" transform="rotate(-90 419.14 325.0)">Kcnj1</text><line x1="423.94" x2="423.94" y1="323.2" y2="324.2" stroke="#333" stroke-width="0.45"/><text x="425.05" y="325.0" font-size="3.3" text-anchor="end" fill="#444" textLength="27.6" transform="rotate(-90 425.05 325.0)">LOC100364191</text><line x1="429.85" x2="429.85" y1="323.2" y2="324.2" stroke="#333" stroke-width="0.45"/><text x="430.95" y="325.0" font-size="3.3" text-anchor="end" fill="#444" textLength="8.4" transform="rotate(-90 430.95 325.0)">Cryab</text><line x1="435.75" x2="435.75" y1="323.2" y2="324.2" stroke="#333" stroke-width="0.45"/><text x="436.86" y="325.0" font-size="3.3" text-anchor="end" fill="#444" textLength="5.2" transform="rotate(-90 436.86 325.0)">Clu</text><line x1="441.66" x2="441.66" y1="323.2" y2="324.2" stroke="#333" stroke-width="0.45"/><text x="442.76" y="325.0" font-size="3.3" text-anchor="end" fill="#444" textLength="7.2" transform="rotate(-90 442.76 325.0)">Spp1</text><line x1="447.56" x2="447.56" y1="323.2" y2="324.2" stroke="#333" stroke-width="0.45"/><text x="448.67" y="325.0" font-size="3.3" text-anchor="end" fill="#444" textLength="10" transform="rotate(-90 448.67 325.0)">Sparc</text><line x1="453.47" x2="453.47" y1="323.2" y2="324.2" stroke="#333" stroke-width="0.45"/><text x="454.57" y="325.0" font-size="3.3" text-anchor="end" fill="#444" textLength="12.8" transform="rotate(-90 454.57 325.0)">S100a11</text>
<text x="1.0" y="348.8" font-size="9" font-weight="bold" font-family="Liberation Serif, serif">e</text>
<text x="475.50" y="291.50" font-size="3.6" text-anchor="middle" fill="#222">Fraction of cells</text>
<text x="475.50" y="295.00" font-size="3.6" text-anchor="middle" fill="#222">in group (%)</text>
<circle cx="465.2" cy="298.6" r="0.5" fill="#bbb" stroke="#444" stroke-width="0.3"/>
<line x1="465.2" x2="465.2" y1="301.2" y2="302.2" stroke="#444" stroke-width="0.3"/>
<text x="465.20" y="305.60" font-size="3.2" text-anchor="middle" fill="#222">20</text>
<circle cx="470" cy="298.6" r="1.2" fill="#bbb" stroke="#444" stroke-width="0.3"/>
<line x1="470" x2="470" y1="301.2" y2="302.2" stroke="#444" stroke-width="0.3"/>
<text x="470.00" y="305.60" font-size="3.2" text-anchor="middle" fill="#222">40</text>
<circle cx="474.8" cy="298.6" r="1.7" fill="#bbb" stroke="#444" stroke-width="0.3"/>
<line x1="474.8" x2="474.8" y1="301.2" y2="302.2" stroke="#444" stroke-width="0.3"/>
<text x="474.80" y="305.60" font-size="3.2" text-anchor="middle" fill="#222">60</text>
<circle cx="479.6" cy="298.6" r="2.2" fill="#bbb" stroke="#444" stroke-width="0.3"/>
<line x1="479.6" x2="479.6" y1="301.2" y2="302.2" stroke="#444" stroke-width="0.3"/>
<text x="479.60" y="305.60" font-size="3.2" text-anchor="middle" fill="#222">80</text>
<circle cx="484.4" cy="298.6" r="2.6" fill="#bbb" stroke="#444" stroke-width="0.3"/>
<line x1="484.4" x2="484.4" y1="301.2" y2="302.2" stroke="#444" stroke-width="0.3"/>
<text x="484.40" y="305.60" font-size="3.2" text-anchor="middle" fill="#222">100</text>
<text x="475.50" y="314.80" font-size="3.6" text-anchor="middle" fill="#222">Mean expression</text>
<text x="475.50" y="318.00" font-size="3.6" text-anchor="middle" fill="#222">in group</text>
<defs><linearGradient id="reds" x1="0" x2="1" y1="0" y2="0"><stop offset="0" stop-color="#fff5f0"/><stop offset="0.25" stop-color="#fcbba1"/><stop offset="0.5" stop-color="#fb6a4a"/><stop offset="0.75" stop-color="#cb181d"/><stop offset="1" stop-color="#67000d"/></linearGradient><linearGradient id="vir" x1="0" x2="0" y1="1" y2="0"><stop offset="0" stop-color="#440154"/><stop offset="0.125" stop-color="#482878"/><stop offset="0.25" stop-color="#3e4989"/><stop offset="0.375" stop-color="#31688e"/><stop offset="0.5" stop-color="#26828e"/><stop offset="0.625" stop-color="#1f9e89"/><stop offset="0.75" stop-color="#35b779"/><stop offset="0.875" stop-color="#6ece58"/><stop offset="1" stop-color="#fde725"/></linearGradient></defs>
<rect x="463.4" y="320.2" width="24.6" height="3" fill="url(#reds)" stroke="#777" stroke-width="0.3"/>
<text x="464.60" y="327.40" font-size="3.2" text-anchor="middle" fill="#222">0</text>
<text x="480.20" y="327.40" font-size="3.2" text-anchor="middle" fill="#222">5</text>
<g mask="url(#spk2)"><ellipse cx="39.73" cy="429.36" rx="7.44" ry="7.17" fill="#6fcd57"/><polygon points="26.6,394.7 30.3,393.6 33.9,394.0 35.7,395.7 37.5,398.4 39.7,401.2 40.5,403.2 39.7,405.9 37.5,408.7 34.6,411.1 31.0,411.9 28.1,411.2 25.9,408.7 24.9,404.6 24.9,399.1 25.5,396.4" fill="#400b5c" stroke="#400b5c" stroke-width="0.9" stroke-dasharray="0.01 1.1" stroke-linecap="round"/><polygon points="41.9,410.7 44.8,408.0 47.8,405.9 50.7,404.9 55.0,404.6 57.6,407.0 58.0,409.3 56.5,412.1 55.0,414.8 52.1,417.5 47.8,418.9 44.1,418.9 41.6,417.5 41.2,413.4" fill="#400b5c" stroke="#400b5c" stroke-width="0.9" stroke-dasharray="0.01 1.1" stroke-linecap="round"/><polygon points="57.2,407.3 59.4,410.7 61.2,414.1 66.0,417.2 67.1,420.3 65.6,423.7 63.4,426.4 61.6,424.4 60.1,420.3 59.0,416.9 58.0,414.1 56.5,410.7" fill="#400b5c" stroke="#400b5c" stroke-width="0.9" stroke-dasharray="0.01 1.1" stroke-linecap="round"/><polygon points="53.9,397.7 55.0,399.8 55.8,403.2 53.2,403.5 53.6,400.5" fill="#400b5c" stroke="#400b5c" stroke-width="0.9" stroke-dasharray="0.01 1.1" stroke-linecap="round"/><polygon points="34.6,395.0 36.8,395.7 39.0,397.4 41.9,397.1 44.8,395.3 45.9,396.4 45.6,399.8 44.1,401.2 41.2,400.8 39.0,399.1 36.8,398.4 34.6,397.1" fill="#400b5c" stroke="#400b5c" stroke-width="0.9" stroke-dasharray="0.01 1.1" stroke-linecap="round"/><polygon points="36.8,375.2 39.0,374.2 42.6,374.5 43.7,376.6 43.4,380.0 41.9,382.7 40.5,384.1 38.3,382.4 35.4,384.8 32.4,388.2 30.6,389.0 31.0,387.2 33.9,383.4 35.4,380.7 35.4,377.2" fill="#400b5c" stroke="#400b5c" stroke-width="0.9" stroke-dasharray="0.01 1.1" stroke-linecap="round"/><polygon points="31.7,378.6 33.9,379.3 34.6,382.0 36.8,383.7 40.5,384.8 43.4,385.1 45.0,386.3 44.1,387.2 41.2,386.5 37.5,385.8 34.6,384.4 32.4,382.7 31.3,380.7" fill="#400b5c" stroke="#400b5c" stroke-width="0.9" stroke-dasharray="0.01 1.1" stroke-linecap="round"/><ellipse cx="46.15" cy="388.45" rx="2.41" ry="1.84" fill="#400b5c"/><polygon points="68.9,380.7 71.1,379.6 72.9,381.3 73.3,384.1 71.8,385.4 71.1,388.2 69.6,388.7 68.9,386.1 68.2,383.4" fill="#400b5c" stroke="#400b5c" stroke-width="0.9" stroke-dasharray="0.01 1.1" stroke-linecap="round"/><polygon points="71.8,389.5 74.7,388.9 76.9,389.5 78.4,392.3 78.7,395.0 76.9,396.7 74.0,397.1 71.8,396.4 70.3,394.3 70.0,391.6" fill="#400b5c" stroke="#400b5c" stroke-width="0.9" stroke-dasharray="0.01 1.1" stroke-linecap="round"/><polygon points="64.5,395.0 65.6,395.3 68.9,399.8 72.5,403.2 75.5,404.6 79.1,404.9 81.1,406.6 80.9,408.0 79.1,407.3 75.5,406.3 71.8,404.6 68.2,401.2 64.9,396.4" fill="#400b5c" stroke="#400b5c" stroke-width="0.9" stroke-dasharray="0.01 1.1" stroke-linecap="round"/><polygon points="71.8,402.2 72.5,403.2 75.5,404.6 79.1,404.9 81.1,406.6 80.9,408.0 79.1,407.3 75.5,406.3 71.8,404.6 70.7,403.2" fill="#400b5c" stroke="#400b5c" stroke-width="0.9" stroke-dasharray="0.01 1.1" stroke-linecap="round"/><polygon points="62.3,401.2 63.8,400.5 65.2,401.8 66.3,404.6 65.2,407.3 64.2,409.7 63.1,408.7 62.3,405.2 61.2,403.2" fill="#400b5c" stroke="#400b5c" stroke-width="0.9" stroke-dasharray="0.01 1.1" stroke-linecap="round"/><polygon points="64.5,411.4 66.7,410.7 68.7,411.1 68.5,412.1 66.7,412.8 64.9,413.2" fill="#400b5c" stroke="#400b5c" stroke-width="0.9" stroke-dasharray="0.01 1.1" stroke-linecap="round"/><ellipse cx="75.74" cy="412.90" rx="1.75" ry="2.25" fill="#400b5c"/><polygon points="52.1,423.0 54.3,421.3 56.5,422.0 57.6,425.1 56.9,428.5 55.0,430.5 52.9,430.2 51.4,427.8 51.0,425.1" fill="#375a8c" stroke="#375a8c" stroke-width="0.9" stroke-dasharray="0.01 1.1" stroke-linecap="round"/><ellipse cx="26.75" cy="419.39" rx="1.75" ry="0.75" fill="#400b5c"/><ellipse cx="15.38" cy="404.77" rx="0.73" ry="0.89" fill="#400b5c"/><ellipse cx="53.29" cy="391.59" rx="0.73" ry="0.55" fill="#400b5c"/><ellipse cx="57.74" cy="388.86" rx="0.73" ry="0.82" fill="#400b5c"/><ellipse cx="60.87" cy="399.79" rx="0.44" ry="0.41" fill="#400b5c"/><ellipse cx="62.62" cy="395.35" rx="0.51" ry="0.34" fill="#400b5c"/><ellipse cx="56.43" cy="386.67" rx="0.58" ry="0.55" fill="#400b5c"/><ellipse cx="59.05" cy="396.37" rx="0.45" ry="2.05" fill="#400b5c"/><ellipse cx="59.41" cy="400.47" rx="0.45" ry="1.37" fill="#400b5c"/><ellipse cx="62.33" cy="403.20" rx="0.45" ry="0.68" fill="#400b5c"/><ellipse cx="56.43" cy="407.30" rx="0.45" ry="0.45" fill="#400b5c"/><ellipse cx="49.94" cy="401.15" rx="0.45" ry="0.45" fill="#400b5c"/><ellipse cx="57.96" cy="392.96" rx="0.45" ry="0.45" fill="#400b5c"/><ellipse cx="47.75" cy="395.00" rx="0.45" ry="0.45" fill="#400b5c"/><ellipse cx="45.56" cy="391.59" rx="0.45" ry="0.45" fill="#400b5c"/><ellipse cx="36.09" cy="389.54" rx="0.45" ry="0.45" fill="#400b5c"/><ellipse cx="63.79" cy="391.59" rx="0.45" ry="0.45" fill="#400b5c"/><ellipse cx="55.04" cy="429.84" rx="0.45" ry="0.45" fill="#400b5c"/><ellipse cx="43.38" cy="414.13" rx="0.45" ry="0.45" fill="#400b5c"/><ellipse cx="37.54" cy="420.96" rx="0.45" ry="0.45" fill="#400b5c"/></g><rect x="11.30" y="371.10" width="72.90" height="68.30" fill="none" stroke="#ababab" stroke-width="1.0"/>
<rect x="85.10" y="371.10" width="2.7" height="68.3" fill="url(#vir)" stroke="#777" stroke-width="0.35"/>
<line x1="87.80" x2="88.70" y1="439.40" y2="439.40" stroke="#333" stroke-width="0.3"/>
<text x="89.30" y="441.00" font-size="4.7" text-anchor="start" fill="#222" stroke="#222" stroke-width="0.08">0</text>
<line x1="87.80" x2="88.70" y1="424.87" y2="424.87" stroke="#333" stroke-width="0.3"/>
<text x="89.30" y="426.47" font-size="4.7" text-anchor="start" fill="#222" stroke="#222" stroke-width="0.08">1</text>
<line x1="87.80" x2="88.70" y1="410.34" y2="410.34" stroke="#333" stroke-width="0.3"/>
<text x="89.30" y="411.94" font-size="4.7" text-anchor="start" fill="#222" stroke="#222" stroke-width="0.08">2</text>
<line x1="87.80" x2="88.70" y1="395.80" y2="395.80" stroke="#333" stroke-width="0.3"/>
<text x="89.30" y="397.40" font-size="4.7" text-anchor="start" fill="#222" stroke="#222" stroke-width="0.08">3</text>
<line x1="87.80" x2="88.70" y1="381.27" y2="381.27" stroke="#333" stroke-width="0.3"/>
<text x="89.30" y="382.87" font-size="4.7" text-anchor="start" fill="#222" stroke="#222" stroke-width="0.08">4</text>
<text x="47.75" y="368.90" font-size="4.6" text-anchor="middle" fill="#222" stroke="#222" stroke-width="0.06">Slc27a2</text>
<text x="47.75" y="444.70" font-size="4.6" text-anchor="middle" fill="#222" stroke="#222" stroke-width="0.06">UMAP1</text>
<text x="9.10" y="405.25" font-size="4.6" text-anchor="middle" fill="#222" stroke="#222" stroke-width="0.06" transform="rotate(-90 9.10 405.25)">UMAP2</text>
<g mask="url(#spk2)"><ellipse cx="136.43" cy="429.36" rx="7.44" ry="7.17" fill="#400b5c"/><polygon points="123.3,394.7 127.0,393.6 130.6,394.0 132.4,395.7 134.2,398.4 136.4,401.2 137.2,403.2 136.4,405.9 134.2,408.7 131.3,411.1 127.7,411.9 124.8,411.2 122.6,408.7 121.6,404.6 121.6,399.1 122.2,396.4" fill="#443780" stroke="#443780" stroke-width="0.9" stroke-dasharray="0.01 1.1" stroke-linecap="round"/><polygon points="138.6,410.7 141.5,408.0 144.4,405.9 147.4,404.9 151.7,404.6 154.3,407.0 154.7,409.3 153.2,412.1 151.7,414.8 148.8,417.5 144.4,418.9 140.8,418.9 138.3,417.5 137.9,413.4" fill="#400b5c" stroke="#400b5c" stroke-width="0.9" stroke-dasharray="0.01 1.1" stroke-linecap="round"/><polygon points="153.9,407.3 156.1,410.7 157.9,414.1 162.7,417.2 163.8,420.3 162.3,423.7 160.1,426.4 158.3,424.4 156.8,420.3 155.7,416.9 154.7,414.1 153.2,410.7" fill="#400b5c" stroke="#400b5c" stroke-width="0.9" stroke-dasharray="0.01 1.1" stroke-linecap="round"/><polygon points="150.6,397.7 151.7,399.8 152.5,403.2 149.9,403.5 150.3,400.5" fill="#400b5c" stroke="#400b5c" stroke-width="0.9" stroke-dasharray="0.01 1.1" stroke-linecap="round"/><polygon points="131.3,395.0 133.5,395.7 135.7,397.4 138.6,397.1 141.5,395.3 142.6,396.4 142.3,399.8 140.8,401.2 137.9,400.8 135.7,399.1 133.5,398.4 131.3,397.1" fill="#400b5c" stroke="#400b5c" stroke-width="0.9" stroke-dasharray="0.01 1.1" stroke-linecap="round"/><polygon points="133.5,375.2 135.7,374.2 139.3,374.5 140.4,376.6 140.1,380.0 138.6,382.7 137.2,384.1 135.0,382.4 132.1,384.8 129.1,388.2 127.3,389.0 127.7,387.2 130.6,383.4 132.1,380.7 132.1,377.2" fill="#400b5c" stroke="#400b5c" stroke-width="0.9" stroke-dasharray="0.01 1.1" stroke-linecap="round"/><polygon points="128.4,378.6 130.6,379.3 131.3,382.0 133.5,383.7 137.2,384.8 140.1,385.1 141.7,386.3 140.8,387.2 137.9,386.5 134.2,385.8 131.3,384.4 129.1,382.7 128.0,380.7" fill="#400b5c" stroke="#400b5c" stroke-width="0.9" stroke-dasharray="0.01 1.1" stroke-linecap="round"/><ellipse cx="142.85" cy="388.45" rx="2.41" ry="1.84" fill="#400b5c"/><polygon points="165.6,380.7 167.8,379.6 169.6,381.3 170.0,384.1 168.5,385.4 167.8,388.2 166.3,388.7 165.6,386.1 164.9,383.4" fill="#400b5c" stroke="#400b5c" stroke-width="0.9" stroke-dasharray="0.01 1.1" stroke-linecap="round"/><polygon points="168.5,389.5 171.4,388.9 173.6,389.5 175.1,392.3 175.4,395.0 173.6,396.7 170.7,397.1 168.5,396.4 167.0,394.3 166.7,391.6" fill="#3b528a" stroke="#3b528a" stroke-width="0.9" stroke-dasharray="0.01 1.1" stroke-linecap="round"/><polygon points="161.2,395.0 162.3,395.3 165.6,399.8 169.2,403.2 172.2,404.6 175.8,404.9 177.8,406.6 177.6,408.0 175.8,407.3 172.2,406.3 168.5,404.6 164.9,401.2 161.6,396.4" fill="#400b5c" stroke="#400b5c" stroke-width="0.9" stroke-dasharray="0.01 1.1" stroke-linecap="round"/><polygon points="168.5,402.2 169.2,403.2 172.2,404.6 175.8,404.9 177.8,406.6 177.6,408.0 175.8,407.3 172.2,406.3 168.5,404.6 167.4,403.2" fill="#400b5c" stroke="#400b5c" stroke-width="0.9" stroke-dasharray="0.01 1.1" stroke-linecap="round"/><polygon points="159.0,401.2 160.5,400.5 161.9,401.8 163.0,404.6 161.9,407.3 160.9,409.7 159.8,408.7 159.0,405.2 157.9,403.2" fill="#26848d" stroke="#26848d" stroke-width="0.9" stroke-dasharray="0.01 1.1" stroke-linecap="round"/><polygon points="161.2,411.4 163.4,410.7 165.4,411.1 165.2,412.1 163.4,412.8 161.6,413.2" fill="#dde326" stroke="#dde326" stroke-width="0.9" stroke-dasharray="0.01 1.1" stroke-linecap="round"/><ellipse cx="172.44" cy="412.90" rx="1.75" ry="2.25" fill="#2a788e"/><polygon points="148.8,423.0 151.0,421.3 153.2,422.0 154.3,425.1 153.6,428.5 151.7,430.5 149.6,430.2 148.1,427.8 147.7,425.1" fill="#b0dc2f" stroke="#b0dc2f" stroke-width="0.9" stroke-dasharray="0.01 1.1" stroke-linecap="round"/><ellipse cx="123.45" cy="419.39" rx="1.75" ry="0.75" fill="#44bf70"/><ellipse cx="112.08" cy="404.77" rx="0.73" ry="0.89" fill="#400b5c"/><ellipse cx="149.99" cy="391.59" rx="0.73" ry="0.55" fill="#400b5c"/><ellipse cx="154.44" cy="388.86" rx="0.73" ry="0.82" fill="#400b5c"/><ellipse cx="157.57" cy="399.79" rx="0.44" ry="0.41" fill="#400b5c"/><ellipse cx="159.32" cy="395.35" rx="0.51" ry="0.34" fill="#400b5c"/><ellipse cx="153.13" cy="386.67" rx="0.58" ry="0.55" fill="#400b5c"/><ellipse cx="155.75" cy="396.37" rx="0.45" ry="2.05" fill="#400b5c"/><ellipse cx="156.11" cy="400.47" rx="0.45" ry="1.37" fill="#400b5c"/><ellipse cx="159.03" cy="403.20" rx="0.45" ry="0.68" fill="#400b5c"/><ellipse cx="153.13" cy="407.30" rx="0.45" ry="0.45" fill="#400b5c"/><ellipse cx="146.64" cy="401.15" rx="0.45" ry="0.45" fill="#400b5c"/><ellipse cx="154.66" cy="392.96" rx="0.45" ry="0.45" fill="#400b5c"/><ellipse cx="144.45" cy="395.00" rx="0.45" ry="0.45" fill="#400b5c"/><ellipse cx="142.26" cy="391.59" rx="0.45" ry="0.45" fill="#400b5c"/><ellipse cx="132.79" cy="389.54" rx="0.45" ry="0.45" fill="#400b5c"/><ellipse cx="160.49" cy="391.59" rx="0.45" ry="0.45" fill="#400b5c"/><ellipse cx="151.74" cy="429.84" rx="0.45" ry="0.45" fill="#400b5c"/><ellipse cx="140.08" cy="414.13" rx="0.45" ry="0.45" fill="#400b5c"/><ellipse cx="134.24" cy="420.96" rx="0.45" ry="0.45" fill="#400b5c"/></g><rect x="108.00" y="371.10" width="72.90" height="68.30" fill="none" stroke="#ababab" stroke-width="1.0"/>
<rect x="181.80" y="371.10" width="2.7" height="68.3" fill="url(#vir)" stroke="#777" stroke-width="0.35"/>
<line x1="184.50" x2="185.40" y1="439.40" y2="439.40" stroke="#333" stroke-width="0.3"/>
<text x="186.00" y="441.00" font-size="4.7" text-anchor="start" fill="#222" stroke="#222" stroke-width="0.08">0</text>
<line x1="184.50" x2="185.40" y1="421.19" y2="421.19" stroke="#333" stroke-width="0.3"/>
<text x="186.00" y="422.79" font-size="4.7" text-anchor="start" fill="#222" stroke="#222" stroke-width="0.08">2</text>
<line x1="184.50" x2="185.40" y1="402.97" y2="402.97" stroke="#333" stroke-width="0.3"/>
<text x="186.00" y="404.57" font-size="4.7" text-anchor="start" fill="#222" stroke="#222" stroke-width="0.08">4</text>
<line x1="184.50" x2="185.40" y1="384.76" y2="384.76" stroke="#333" stroke-width="0.3"/>
<text x="186.00" y="386.36" font-size="4.7" text-anchor="start" fill="#222" stroke="#222" stroke-width="0.08">6</text>
<text x="144.45" y="368.90" font-size="4.6" text-anchor="middle" fill="#222" stroke="#222" stroke-width="0.06">Cryab</text>
<text x="144.45" y="444.70" font-size="4.6" text-anchor="middle" fill="#222" stroke="#222" stroke-width="0.06">UMAP1</text>
<text x="105.80" y="405.25" font-size="4.6" text-anchor="middle" fill="#222" stroke="#222" stroke-width="0.06" transform="rotate(-90 105.80 405.25)">UMAP2</text>
<g mask="url(#spk2)"><ellipse cx="233.23" cy="429.36" rx="7.44" ry="7.17" fill="#400b5c"/><polygon points="220.1,394.7 223.8,393.6 227.4,394.0 229.2,395.7 231.0,398.4 233.2,401.2 234.0,403.2 233.2,405.9 231.0,408.7 228.1,411.1 224.5,411.9 221.6,411.2 219.4,408.7 218.4,404.6 218.4,399.1 219.0,396.4" fill="#9cd83c" stroke="#9cd83c" stroke-width="0.9" stroke-dasharray="0.01 1.1" stroke-linecap="round"/><polygon points="235.4,410.7 238.3,408.0 241.2,405.9 244.2,404.9 248.5,404.6 251.1,407.0 251.5,409.3 250.0,412.1 248.5,414.8 245.6,417.5 241.2,418.9 237.6,418.9 235.1,417.5 234.7,413.4" fill="#400b5c" stroke="#400b5c" stroke-width="0.9" stroke-dasharray="0.01 1.1" stroke-linecap="round"/><polygon points="250.7,407.3 252.9,410.7 254.7,414.1 259.5,417.2 260.6,420.3 259.1,423.7 256.9,426.4 255.1,424.4 253.6,420.3 252.5,416.9 251.5,414.1 250.0,410.7" fill="#400b5c" stroke="#400b5c" stroke-width="0.9" stroke-dasharray="0.01 1.1" stroke-linecap="round"/><polygon points="247.4,397.7 248.5,399.8 249.3,403.2 246.7,403.5 247.1,400.5" fill="#400b5c" stroke="#400b5c" stroke-width="0.9" stroke-dasharray="0.01 1.1" stroke-linecap="round"/><polygon points="228.1,395.0 230.3,395.7 232.5,397.4 235.4,397.1 238.3,395.3 239.4,396.4 239.1,399.8 237.6,401.2 234.7,400.8 232.5,399.1 230.3,398.4 228.1,397.1" fill="#400b5c" stroke="#400b5c" stroke-width="0.9" stroke-dasharray="0.01 1.1" stroke-linecap="round"/><polygon points="230.3,375.2 232.5,374.2 236.1,374.5 237.2,376.6 236.9,380.0 235.4,382.7 234.0,384.1 231.8,382.4 228.9,384.8 225.9,388.2 224.1,389.0 224.5,387.2 227.4,383.4 228.9,380.7 228.9,377.2" fill="#400b5c" stroke="#400b5c" stroke-width="0.9" stroke-dasharray="0.01 1.1" stroke-linecap="round"/><polygon points="225.2,378.6 227.4,379.3 228.1,382.0 230.3,383.7 234.0,384.8 236.9,385.1 238.5,386.3 237.6,387.2 234.7,386.5 231.0,385.8 228.1,384.4 225.9,382.7 224.8,380.7" fill="#400b5c" stroke="#400b5c" stroke-width="0.9" stroke-dasharray="0.01 1.1" stroke-linecap="round"/><ellipse cx="239.65" cy="388.45" rx="2.41" ry="1.84" fill="#400b5c"/><polygon points="262.4,380.7 264.6,379.6 266.4,381.3 266.8,384.1 265.3,385.4 264.6,388.2 263.1,388.7 262.4,386.1 261.7,383.4" fill="#400b5c" stroke="#400b5c" stroke-width="0.9" stroke-dasharray="0.01 1.1" stroke-linecap="round"/><polygon points="265.3,389.5 268.2,388.9 270.4,389.5 271.9,392.3 272.2,395.0 270.4,396.7 267.5,397.1 265.3,396.4 263.8,394.3 263.5,391.6" fill="#400b5c" stroke="#400b5c" stroke-width="0.9" stroke-dasharray="0.01 1.1" stroke-linecap="round"/><polygon points="258.0,395.0 259.1,395.3 262.4,399.8 266.0,403.2 269.0,404.6 272.6,404.9 274.6,406.6 274.4,408.0 272.6,407.3 269.0,406.3 265.3,404.6 261.7,401.2 258.4,396.4" fill="#400b5c" stroke="#400b5c" stroke-width="0.9" stroke-dasharray="0.01 1.1" stroke-linecap="round"/><polygon points="265.3,402.2 266.0,403.2 269.0,404.6 272.6,404.9 274.6,406.6 274.4,408.0 272.6,407.3 269.0,406.3 265.3,404.6 264.2,403.2" fill="#400b5c" stroke="#400b5c" stroke-width="0.9" stroke-dasharray="0.01 1.1" stroke-linecap="round"/><polygon points="255.8,401.2 257.3,400.5 258.7,401.8 259.8,404.6 258.7,407.3 257.7,409.7 256.6,408.7 255.8,405.2 254.7,403.2" fill="#400b5c" stroke="#400b5c" stroke-width="0.9" stroke-dasharray="0.01 1.1" stroke-linecap="round"/><polygon points="258.0,411.4 260.2,410.7 262.2,411.1 262.0,412.1 260.2,412.8 258.4,413.2" fill="#400b5c" stroke="#400b5c" stroke-width="0.9" stroke-dasharray="0.01 1.1" stroke-linecap="round"/><ellipse cx="269.24" cy="412.90" rx="1.75" ry="2.25" fill="#400b5c"/><polygon points="245.6,423.0 247.8,421.3 250.0,422.0 251.1,425.1 250.4,428.5 248.5,430.5 246.4,430.2 244.9,427.8 244.5,425.1" fill="#400b5c" stroke="#400b5c" stroke-width="0.9" stroke-dasharray="0.01 1.1" stroke-linecap="round"/><ellipse cx="220.25" cy="419.39" rx="1.75" ry="0.75" fill="#400b5c"/><ellipse cx="208.88" cy="404.77" rx="0.73" ry="0.89" fill="#400b5c"/><ellipse cx="246.79" cy="391.59" rx="0.73" ry="0.55" fill="#400b5c"/><ellipse cx="251.24" cy="388.86" rx="0.73" ry="0.82" fill="#400b5c"/><ellipse cx="254.37" cy="399.79" rx="0.44" ry="0.41" fill="#400b5c"/><ellipse cx="256.12" cy="395.35" rx="0.51" ry="0.34" fill="#400b5c"/><ellipse cx="249.93" cy="386.67" rx="0.58" ry="0.55" fill="#400b5c"/><ellipse cx="252.55" cy="396.37" rx="0.45" ry="2.05" fill="#400b5c"/><ellipse cx="252.91" cy="400.47" rx="0.45" ry="1.37" fill="#400b5c"/><ellipse cx="255.83" cy="403.20" rx="0.45" ry="0.68" fill="#400b5c"/><ellipse cx="249.93" cy="407.30" rx="0.45" ry="0.45" fill="#400b5c"/><ellipse cx="243.44" cy="401.15" rx="0.45" ry="0.45" fill="#400b5c"/><ellipse cx="251.46" cy="392.96" rx="0.45" ry="0.45" fill="#400b5c"/><ellipse cx="241.25" cy="395.00" rx="0.45" ry="0.45" fill="#400b5c"/><ellipse cx="239.06" cy="391.59" rx="0.45" ry="0.45" fill="#400b5c"/><ellipse cx="229.59" cy="389.54" rx="0.45" ry="0.45" fill="#400b5c"/><ellipse cx="257.29" cy="391.59" rx="0.45" ry="0.45" fill="#400b5c"/><ellipse cx="248.54" cy="429.84" rx="0.45" ry="0.45" fill="#400b5c"/><ellipse cx="236.88" cy="414.13" rx="0.45" ry="0.45" fill="#400b5c"/><ellipse cx="231.04" cy="420.96" rx="0.45" ry="0.45" fill="#400b5c"/></g><rect x="204.80" y="371.10" width="72.90" height="68.30" fill="none" stroke="#ababab" stroke-width="1.0"/>
<rect x="278.60" y="371.10" width="2.7" height="68.3" fill="url(#vir)" stroke="#777" stroke-width="0.35"/>
<line x1="281.30" x2="282.20" y1="439.40" y2="439.40" stroke="#333" stroke-width="0.3"/>
<text x="282.80" y="441.00" font-size="4.7" text-anchor="start" fill="#222" stroke="#222" stroke-width="0.08">0</text>
<line x1="281.30" x2="282.20" y1="428.20" y2="428.20" stroke="#333" stroke-width="0.3"/>
<text x="282.80" y="429.80" font-size="4.7" text-anchor="start" fill="#222" stroke="#222" stroke-width="0.08">1</text>
<line x1="281.30" x2="282.20" y1="417.01" y2="417.01" stroke="#333" stroke-width="0.3"/>
<text x="282.80" y="418.61" font-size="4.7" text-anchor="start" fill="#222" stroke="#222" stroke-width="0.08">2</text>
<line x1="281.30" x2="282.20" y1="405.81" y2="405.81" stroke="#333" stroke-width="0.3"/>
<text x="282.80" y="407.41" font-size="4.7" text-anchor="start" fill="#222" stroke="#222" stroke-width="0.08">3</text>
<line x1="281.30" x2="282.20" y1="394.61" y2="394.61" stroke="#333" stroke-width="0.3"/>
<text x="282.80" y="396.21" font-size="4.7" text-anchor="start" fill="#222" stroke="#222" stroke-width="0.08">4</text>
<line x1="281.30" x2="282.20" y1="383.42" y2="383.42" stroke="#333" stroke-width="0.3"/>
<text x="282.80" y="385.02" font-size="4.7" text-anchor="start" fill="#222" stroke="#222" stroke-width="0.08">5</text>
<line x1="281.30" x2="282.20" y1="372.22" y2="372.22" stroke="#333" stroke-width="0.3"/>
<text x="282.80" y="373.82" font-size="4.7" text-anchor="start" fill="#222" stroke="#222" stroke-width="0.08">6</text>
<text x="241.25" y="368.90" font-size="4.6" text-anchor="middle" fill="#222" stroke="#222" stroke-width="0.06">Slc12a1</text>
<text x="241.25" y="444.70" font-size="4.6" text-anchor="middle" fill="#222" stroke="#222" stroke-width="0.06">UMAP1</text>
<text x="202.60" y="405.25" font-size="4.6" text-anchor="middle" fill="#222" stroke="#222" stroke-width="0.06" transform="rotate(-90 202.60 405.25)">UMAP2</text>
<g mask="url(#spk2)"><ellipse cx="330.23" cy="429.36" rx="7.44" ry="7.17" fill="#400b5c"/><polygon points="317.1,394.7 320.8,393.6 324.4,394.0 326.2,395.7 328.0,398.4 330.2,401.2 331.0,403.2 330.2,405.9 328.0,408.7 325.1,411.1 321.5,411.9 318.6,411.2 316.4,408.7 315.4,404.6 315.4,399.1 316.0,396.4" fill="#400b5c" stroke="#400b5c" stroke-width="0.9" stroke-dasharray="0.01 1.1" stroke-linecap="round"/><polygon points="332.4,410.7 335.3,408.0 338.2,405.9 341.2,404.9 345.5,404.6 348.1,407.0 348.5,409.3 347.0,412.1 345.5,414.8 342.6,417.5 338.2,418.9 334.6,418.9 332.1,417.5 331.7,413.4" fill="#400b5c" stroke="#400b5c" stroke-width="0.9" stroke-dasharray="0.01 1.1" stroke-linecap="round"/><polygon points="347.7,407.3 349.9,410.7 351.7,414.1 356.5,417.2 357.6,420.3 356.1,423.7 353.9,426.4 352.1,424.4 350.6,420.3 349.5,416.9 348.5,414.1 347.0,410.7" fill="#400b5c" stroke="#400b5c" stroke-width="0.9" stroke-dasharray="0.01 1.1" stroke-linecap="round"/><polygon points="344.4,397.7 345.5,399.8 346.3,403.2 343.7,403.5 344.1,400.5" fill="#400b5c" stroke="#400b5c" stroke-width="0.9" stroke-dasharray="0.01 1.1" stroke-linecap="round"/><polygon points="325.1,395.0 327.3,395.7 329.5,397.4 332.4,397.1 335.3,395.3 336.4,396.4 336.1,399.8 334.6,401.2 331.7,400.8 329.5,399.1 327.3,398.4 325.1,397.1" fill="#9cd83c" stroke="#9cd83c" stroke-width="0.9" stroke-dasharray="0.01 1.1" stroke-linecap="round"/><polygon points="327.3,375.2 329.5,374.2 333.1,374.5 334.2,376.6 333.9,380.0 332.4,382.7 331.0,384.1 328.8,382.4 325.9,384.8 322.9,388.2 321.1,389.0 321.5,387.2 324.4,383.4 325.9,380.7 325.9,377.2" fill="#400b5c" stroke="#400b5c" stroke-width="0.9" stroke-dasharray="0.01 1.1" stroke-linecap="round"/><polygon points="322.2,378.6 324.4,379.3 325.1,382.0 327.3,383.7 331.0,384.8 333.9,385.1 335.5,386.3 334.6,387.2 331.7,386.5 328.0,385.8 325.1,384.4 322.9,382.7 321.8,380.7" fill="#400b5c" stroke="#400b5c" stroke-width="0.9" stroke-dasharray="0.01 1.1" stroke-linecap="round"/><ellipse cx="336.65" cy="388.45" rx="2.41" ry="1.84" fill="#400b5c"/><polygon points="359.4,380.7 361.6,379.6 363.4,381.3 363.8,384.1 362.3,385.4 361.6,388.2 360.1,388.7 359.4,386.1 358.7,383.4" fill="#400b5c" stroke="#400b5c" stroke-width="0.9" stroke-dasharray="0.01 1.1" stroke-linecap="round"/><polygon points="362.3,389.5 365.2,388.9 367.4,389.5 368.9,392.3 369.2,395.0 367.4,396.7 364.5,397.1 362.3,396.4 360.8,394.3 360.5,391.6" fill="#400b5c" stroke="#400b5c" stroke-width="0.9" stroke-dasharray="0.01 1.1" stroke-linecap="round"/><polygon points="355.0,395.0 356.1,395.3 359.4,399.8 363.0,403.2 366.0,404.6 369.6,404.9 371.6,406.6 371.4,408.0 369.6,407.3 366.0,406.3 362.3,404.6 358.7,401.2 355.4,396.4" fill="#400b5c" stroke="#400b5c" stroke-width="0.9" stroke-dasharray="0.01 1.1" stroke-linecap="round"/><polygon points="362.3,402.2 363.0,403.2 366.0,404.6 369.6,404.9 371.6,406.6 371.4,408.0 369.6,407.3 366.0,406.3 362.3,404.6 361.2,403.2" fill="#400b5c" stroke="#400b5c" stroke-width="0.9" stroke-dasharray="0.01 1.1" stroke-linecap="round"/><polygon points="352.8,401.2 354.3,400.5 355.7,401.8 356.8,404.6 355.7,407.3 354.7,409.7 353.6,408.7 352.8,405.2 351.7,403.2" fill="#400b5c" stroke="#400b5c" stroke-width="0.9" stroke-dasharray="0.01 1.1" stroke-linecap="round"/><polygon points="355.0,411.4 357.2,410.7 359.2,411.1 359.0,412.1 357.2,412.8 355.4,413.2" fill="#400b5c" stroke="#400b5c" stroke-width="0.9" stroke-dasharray="0.01 1.1" stroke-linecap="round"/><ellipse cx="366.24" cy="412.90" rx="1.75" ry="2.25" fill="#400b5c"/><polygon points="342.6,423.0 344.8,421.3 347.0,422.0 348.1,425.1 347.4,428.5 345.5,430.5 343.4,430.2 341.9,427.8 341.5,425.1" fill="#400b5c" stroke="#400b5c" stroke-width="0.9" stroke-dasharray="0.01 1.1" stroke-linecap="round"/><ellipse cx="317.25" cy="419.39" rx="1.75" ry="0.75" fill="#400b5c"/><ellipse cx="305.88" cy="404.77" rx="0.73" ry="0.89" fill="#400b5c"/><ellipse cx="343.79" cy="391.59" rx="0.73" ry="0.55" fill="#400b5c"/><ellipse cx="348.24" cy="388.86" rx="0.73" ry="0.82" fill="#400b5c"/><ellipse cx="351.37" cy="399.79" rx="0.44" ry="0.41" fill="#400b5c"/><ellipse cx="353.12" cy="395.35" rx="0.51" ry="0.34" fill="#400b5c"/><ellipse cx="346.93" cy="386.67" rx="0.58" ry="0.55" fill="#400b5c"/><ellipse cx="349.55" cy="396.37" rx="0.45" ry="2.05" fill="#400b5c"/><ellipse cx="349.91" cy="400.47" rx="0.45" ry="1.37" fill="#400b5c"/><ellipse cx="352.83" cy="403.20" rx="0.45" ry="0.68" fill="#400b5c"/><ellipse cx="346.93" cy="407.30" rx="0.45" ry="0.45" fill="#400b5c"/><ellipse cx="340.44" cy="401.15" rx="0.45" ry="0.45" fill="#400b5c"/><ellipse cx="348.46" cy="392.96" rx="0.45" ry="0.45" fill="#400b5c"/><ellipse cx="338.25" cy="395.00" rx="0.45" ry="0.45" fill="#400b5c"/><ellipse cx="336.06" cy="391.59" rx="0.45" ry="0.45" fill="#400b5c"/><ellipse cx="326.59" cy="389.54" rx="0.45" ry="0.45" fill="#400b5c"/><ellipse cx="354.29" cy="391.59" rx="0.45" ry="0.45" fill="#400b5c"/><ellipse cx="345.54" cy="429.84" rx="0.45" ry="0.45" fill="#400b5c"/><ellipse cx="333.88" cy="414.13" rx="0.45" ry="0.45" fill="#400b5c"/><ellipse cx="328.04" cy="420.96" rx="0.45" ry="0.45" fill="#400b5c"/></g><rect x="301.80" y="371.10" width="72.90" height="68.30" fill="none" stroke="#ababab" stroke-width="1.0"/>
<rect x="375.60" y="371.10" width="2.7" height="68.3" fill="url(#vir)" stroke="#777" stroke-width="0.35"/>
<line x1="378.30" x2="379.20" y1="439.40" y2="439.40" stroke="#333" stroke-width="0.3"/>
<text x="379.80" y="441.00" font-size="4.7" text-anchor="start" fill="#222" stroke="#222" stroke-width="0.08">0</text>
<line x1="378.30" x2="379.20" y1="427.62" y2="427.62" stroke="#333" stroke-width="0.3"/>
<text x="379.80" y="429.22" font-size="4.7" text-anchor="start" fill="#222" stroke="#222" stroke-width="0.08">1</text>
<line x1="378.30" x2="379.20" y1="415.85" y2="415.85" stroke="#333" stroke-width="0.3"/>
<text x="379.80" y="417.45" font-size="4.7" text-anchor="start" fill="#222" stroke="#222" stroke-width="0.08">2</text>
<line x1="378.30" x2="379.20" y1="404.07" y2="404.07" stroke="#333" stroke-width="0.3"/>
<text x="379.80" y="405.67" font-size="4.7" text-anchor="start" fill="#222" stroke="#222" stroke-width="0.08">3</text>
<line x1="378.30" x2="379.20" y1="392.30" y2="392.30" stroke="#333" stroke-width="0.3"/>
<text x="379.80" y="393.90" font-size="4.7" text-anchor="start" fill="#222" stroke="#222" stroke-width="0.08">4</text>
<line x1="378.30" x2="379.20" y1="380.52" y2="380.52" stroke="#333" stroke-width="0.3"/>
<text x="379.80" y="382.12" font-size="4.7" text-anchor="start" fill="#222" stroke="#222" stroke-width="0.08">5</text>
<text x="338.25" y="368.90" font-size="4.6" text-anchor="middle" fill="#222" stroke="#222" stroke-width="0.06">Slc12a3</text>
<text x="338.25" y="444.70" font-size="4.6" text-anchor="middle" fill="#222" stroke="#222" stroke-width="0.06">UMAP1</text>
<text x="299.60" y="405.25" font-size="4.6" text-anchor="middle" fill="#222" stroke="#222" stroke-width="0.06" transform="rotate(-90 299.60 405.25)">UMAP2</text>
<g mask="url(#spk2)"><ellipse cx="427.83" cy="429.36" rx="7.44" ry="7.17" fill="#400b5c"/><polygon points="414.7,394.7 418.4,393.6 422.0,394.0 423.8,395.7 425.6,398.4 427.8,401.2 428.6,403.2 427.8,405.9 425.6,408.7 422.7,411.1 419.1,411.9 416.2,411.2 414.0,408.7 413.0,404.6 413.0,399.1 413.6,396.4" fill="#400b5c" stroke="#400b5c" stroke-width="0.9" stroke-dasharray="0.01 1.1" stroke-linecap="round"/><polygon points="430.0,410.7 432.9,408.0 435.8,405.9 438.8,404.9 443.1,404.6 445.7,407.0 446.1,409.3 444.6,412.1 443.1,414.8 440.2,417.5 435.8,418.9 432.2,418.9 429.7,417.5 429.3,413.4" fill="#400b5c" stroke="#400b5c" stroke-width="0.9" stroke-dasharray="0.01 1.1" stroke-linecap="round"/><polygon points="445.3,407.3 447.5,410.7 449.3,414.1 454.1,417.2 455.2,420.3 453.7,423.7 451.5,426.4 449.7,424.4 448.2,420.3 447.1,416.9 446.1,414.1 444.6,410.7" fill="#400b5c" stroke="#400b5c" stroke-width="0.9" stroke-dasharray="0.01 1.1" stroke-linecap="round"/><polygon points="442.0,397.7 443.1,399.8 443.9,403.2 441.3,403.5 441.7,400.5" fill="#400b5c" stroke="#400b5c" stroke-width="0.9" stroke-dasharray="0.01 1.1" stroke-linecap="round"/><polygon points="422.7,395.0 424.9,395.7 427.1,397.4 430.0,397.1 432.9,395.3 434.0,396.4 433.7,399.8 432.2,401.2 429.3,400.8 427.1,399.1 424.9,398.4 422.7,397.1" fill="#400b5c" stroke="#400b5c" stroke-width="0.9" stroke-dasharray="0.01 1.1" stroke-linecap="round"/><polygon points="424.9,375.2 427.1,374.2 430.7,374.5 431.8,376.6 431.5,380.0 430.0,382.7 428.6,384.1 426.4,382.4 423.5,384.8 420.5,388.2 418.7,389.0 419.1,387.2 422.0,383.4 423.5,380.7 423.5,377.2" fill="#482475" stroke="#482475" stroke-width="0.9" stroke-dasharray="0.01 1.1" stroke-linecap="round"/><polygon points="419.8,378.6 422.0,379.3 422.7,382.0 424.9,383.7 428.6,384.8 431.5,385.1 433.1,386.3 432.2,387.2 429.3,386.5 425.6,385.8 422.7,384.4 420.5,382.7 419.4,380.7" fill="#26848d" stroke="#26848d" stroke-width="0.9" stroke-dasharray="0.01 1.1" stroke-linecap="round"/><ellipse cx="434.25" cy="388.45" rx="2.41" ry="1.84" fill="#400b5c"/><polygon points="457.0,380.7 459.2,379.6 461.0,381.3 461.4,384.1 459.9,385.4 459.2,388.2 457.7,388.7 457.0,386.1 456.3,383.4" fill="#400b5c" stroke="#400b5c" stroke-width="0.9" stroke-dasharray="0.01 1.1" stroke-linecap="round"/><polygon points="459.9,389.5 462.8,388.9 465.0,389.5 466.5,392.3 466.8,395.0 465.0,396.7 462.1,397.1 459.9,396.4 458.4,394.3 458.1,391.6" fill="#400b5c" stroke="#400b5c" stroke-width="0.9" stroke-dasharray="0.01 1.1" stroke-linecap="round"/><polygon points="452.6,395.0 453.7,395.3 457.0,399.8 460.6,403.2 463.6,404.6 467.2,404.9 469.2,406.6 469.0,408.0 467.2,407.3 463.6,406.3 459.9,404.6 456.3,401.2 453.0,396.4" fill="#400b5c" stroke="#400b5c" stroke-width="0.9" stroke-dasharray="0.01 1.1" stroke-linecap="round"/><polygon points="459.9,402.2 460.6,403.2 463.6,404.6 467.2,404.9 469.2,406.6 469.0,408.0 467.2,407.3 463.6,406.3 459.9,404.6 458.8,403.2" fill="#400b5c" stroke="#400b5c" stroke-width="0.9" stroke-dasharray="0.01 1.1" stroke-linecap="round"/><polygon points="450.4,401.2 451.9,400.5 453.3,401.8 454.4,404.6 453.3,407.3 452.3,409.7 451.2,408.7 450.4,405.2 449.3,403.2" fill="#400b5c" stroke="#400b5c" stroke-width="0.9" stroke-dasharray="0.01 1.1" stroke-linecap="round"/><polygon points="452.6,411.4 454.8,410.7 456.8,411.1 456.6,412.1 454.8,412.8 453.0,413.2" fill="#400b5c" stroke="#400b5c" stroke-width="0.9" stroke-dasharray="0.01 1.1" stroke-linecap="round"/><ellipse cx="463.84" cy="412.90" rx="1.75" ry="2.25" fill="#400b5c"/><polygon points="440.2,423.0 442.4,421.3 444.6,422.0 445.7,425.1 445.0,428.5 443.1,430.5 441.0,430.2 439.5,427.8 439.1,425.1" fill="#400b5c" stroke="#400b5c" stroke-width="0.9" stroke-dasharray="0.01 1.1" stroke-linecap="round"/><ellipse cx="414.85" cy="419.39" rx="1.75" ry="0.75" fill="#400b5c"/><ellipse cx="403.48" cy="404.77" rx="0.73" ry="0.89" fill="#400b5c"/><ellipse cx="441.39" cy="391.59" rx="0.73" ry="0.55" fill="#400b5c"/><ellipse cx="445.84" cy="388.86" rx="0.73" ry="0.82" fill="#400b5c"/><ellipse cx="448.97" cy="399.79" rx="0.44" ry="0.41" fill="#400b5c"/><ellipse cx="450.72" cy="395.35" rx="0.51" ry="0.34" fill="#400b5c"/><ellipse cx="444.53" cy="386.67" rx="0.58" ry="0.55" fill="#400b5c"/><ellipse cx="447.15" cy="396.37" rx="0.45" ry="2.05" fill="#400b5c"/><ellipse cx="447.51" cy="400.47" rx="0.45" ry="1.37" fill="#400b5c"/><ellipse cx="450.43" cy="403.20" rx="0.45" ry="0.68" fill="#400b5c"/><ellipse cx="444.53" cy="407.30" rx="0.45" ry="0.45" fill="#400b5c"/><ellipse cx="438.04" cy="401.15" rx="0.45" ry="0.45" fill="#400b5c"/><ellipse cx="446.06" cy="392.96" rx="0.45" ry="0.45" fill="#400b5c"/><ellipse cx="435.85" cy="395.00" rx="0.45" ry="0.45" fill="#400b5c"/><ellipse cx="433.66" cy="391.59" rx="0.45" ry="0.45" fill="#400b5c"/><ellipse cx="424.19" cy="389.54" rx="0.45" ry="0.45" fill="#400b5c"/><ellipse cx="451.89" cy="391.59" rx="0.45" ry="0.45" fill="#400b5c"/><ellipse cx="443.14" cy="429.84" rx="0.45" ry="0.45" fill="#400b5c"/><ellipse cx="431.48" cy="414.13" rx="0.45" ry="0.45" fill="#400b5c"/><ellipse cx="425.64" cy="420.96" rx="0.45" ry="0.45" fill="#400b5c"/></g><rect x="399.40" y="371.10" width="72.90" height="68.30" fill="none" stroke="#ababab" stroke-width="1.0"/>
<rect x="473.20" y="371.10" width="2.7" height="68.3" fill="url(#vir)" stroke="#777" stroke-width="0.35"/>
<line x1="475.90" x2="476.80" y1="439.40" y2="439.40" stroke="#333" stroke-width="0.3"/>
<text x="477.40" y="441.00" font-size="4.7" text-anchor="start" fill="#222" stroke="#222" stroke-width="0.08">0</text>
<line x1="475.90" x2="476.80" y1="423.52" y2="423.52" stroke="#333" stroke-width="0.3"/>
<text x="477.40" y="425.12" font-size="4.7" text-anchor="start" fill="#222" stroke="#222" stroke-width="0.08">1</text>
<line x1="475.90" x2="476.80" y1="407.63" y2="407.63" stroke="#333" stroke-width="0.3"/>
<text x="477.40" y="409.23" font-size="4.7" text-anchor="start" fill="#222" stroke="#222" stroke-width="0.08">2</text>
<line x1="475.90" x2="476.80" y1="391.75" y2="391.75" stroke="#333" stroke-width="0.3"/>
<text x="477.40" y="393.35" font-size="4.7" text-anchor="start" fill="#222" stroke="#222" stroke-width="0.08">3</text>
<line x1="475.90" x2="476.80" y1="375.87" y2="375.87" stroke="#333" stroke-width="0.3"/>
<text x="477.40" y="377.47" font-size="4.7" text-anchor="start" fill="#222" stroke="#222" stroke-width="0.08">4</text>
<text x="435.85" y="368.90" font-size="4.6" text-anchor="middle" fill="#222" stroke="#222" stroke-width="0.06">Flt3</text>
<text x="435.85" y="444.70" font-size="4.6" text-anchor="middle" fill="#222" stroke="#222" stroke-width="0.06">UMAP1</text>
<text x="397.20" y="405.25" font-size="4.6" text-anchor="middle" fill="#222" stroke="#222" stroke-width="0.06" transform="rotate(-90 397.20 405.25)">UMAP2</text>
<g mask="url(#spk2)"><ellipse cx="39.73" cy="517.56" rx="7.44" ry="7.17" fill="#400b5c"/><polygon points="26.6,482.9 30.3,481.8 33.9,482.2 35.7,483.9 37.5,486.6 39.7,489.4 40.5,491.4 39.7,494.1 37.5,496.9 34.6,499.3 31.0,500.1 28.1,499.4 25.9,496.9 24.9,492.8 24.9,487.3 25.5,484.6" fill="#400b5c" stroke="#400b5c" stroke-width="0.9" stroke-dasharray="0.01 1.1" stroke-linecap="round"/><polygon points="41.9,498.9 44.8,496.2 47.8,494.1 50.7,493.1 55.0,492.8 57.6,495.2 58.0,497.5 56.5,500.3 55.0,503.0 52.1,505.7 47.8,507.1 44.1,507.1 41.6,505.7 41.2,501.6" fill="#400b5c" stroke="#400b5c" stroke-width="0.9" stroke-dasharray="0.01 1.1" stroke-linecap="round"/><polygon points="57.2,495.5 59.4,498.9 61.2,502.3 66.0,505.4 67.1,508.5 65.6,511.9 63.4,514.6 61.6,512.6 60.1,508.5 59.0,505.1 58.0,502.3 56.5,498.9" fill="#400b5c" stroke="#400b5c" stroke-width="0.9" stroke-dasharray="0.01 1.1" stroke-linecap="round"/><polygon points="53.9,485.9 55.0,488.0 55.8,491.4 53.2,491.7 53.6,488.7" fill="#400b5c" stroke="#400b5c" stroke-width="0.9" stroke-dasharray="0.01 1.1" stroke-linecap="round"/><polygon points="34.6,483.2 36.8,483.9 39.0,485.6 41.9,485.3 44.8,483.5 45.9,484.6 45.6,488.0 44.1,489.4 41.2,489.0 39.0,487.3 36.8,486.6 34.6,485.3" fill="#400b5c" stroke="#400b5c" stroke-width="0.9" stroke-dasharray="0.01 1.1" stroke-linecap="round"/><polygon points="36.8,463.4 39.0,462.4 42.6,462.7 43.7,464.8 43.4,468.2 41.9,470.9 40.5,472.3 38.3,470.6 35.4,473.0 32.4,476.4 30.6,477.2 31.0,475.4 33.9,471.6 35.4,468.9 35.4,465.4" fill="#400b5c" stroke="#400b5c" stroke-width="0.9" stroke-dasharray="0.01 1.1" stroke-linecap="round"/><polygon points="31.7,466.8 33.9,467.5 34.6,470.2 36.8,471.9 40.5,473.0 43.4,473.3 45.0,474.5 44.1,475.4 41.2,474.7 37.5,474.0 34.6,472.6 32.4,470.9 31.3,468.9" fill="#400b5c" stroke="#400b5c" stroke-width="0.9" stroke-dasharray="0.01 1.1" stroke-linecap="round"/><ellipse cx="46.15" cy="476.65" rx="2.41" ry="1.84" fill="#400b5c"/><polygon points="68.9,468.9 71.1,467.8 72.9,469.5 73.3,472.3 71.8,473.6 71.1,476.4 69.6,476.9 68.9,474.3 68.2,471.6" fill="#461668" stroke="#461668" stroke-width="0.9" stroke-dasharray="0.01 1.1" stroke-linecap="round"/><polygon points="71.8,477.7 74.7,477.1 76.9,477.7 78.4,480.5 78.7,483.2 76.9,484.9 74.0,485.3 71.8,484.6 70.3,482.5 70.0,479.8" fill="#3f4988" stroke="#3f4988" stroke-width="0.9" stroke-dasharray="0.01 1.1" stroke-linecap="round"/><polygon points="64.5,483.2 65.6,483.5 68.9,488.0 72.5,491.4 75.5,492.8 79.1,493.1 81.1,494.8 80.9,496.2 79.1,495.5 75.5,494.5 71.8,492.8 68.2,489.4 64.9,484.6" fill="#400b5c" stroke="#400b5c" stroke-width="0.9" stroke-dasharray="0.01 1.1" stroke-linecap="round"/><polygon points="71.8,490.4 72.5,491.4 75.5,492.8 79.1,493.1 81.1,494.8 80.9,496.2 79.1,495.5 75.5,494.5 71.8,492.8 70.7,491.4" fill="#400b5c" stroke="#400b5c" stroke-width="0.9" stroke-dasharray="0.01 1.1" stroke-linecap="round"/><polygon points="62.3,489.4 63.8,488.7 65.2,490.0 66.3,492.8 65.2,495.5 64.2,497.9 63.1,496.9 62.3,493.4 61.2,491.4" fill="#cae126" stroke="#cae126" stroke-width="0.9" stroke-dasharray="0.01 1.1" stroke-linecap="round"/><polygon points="64.5,499.6 66.7,498.9 68.7,499.3 68.5,500.3 66.7,501.0 64.9,501.4" fill="#400b5c" stroke="#400b5c" stroke-width="0.9" stroke-dasharray="0.01 1.1" stroke-linecap="round"/><ellipse cx="75.74" cy="501.10" rx="1.75" ry="2.25" fill="#400b5c"/><polygon points="52.1,511.2 54.3,509.5 56.5,510.2 57.6,513.3 56.9,516.7 55.0,518.7 52.9,518.4 51.4,516.0 51.0,513.3" fill="#400b5c" stroke="#400b5c" stroke-width="0.9" stroke-dasharray="0.01 1.1" stroke-linecap="round"/><ellipse cx="26.75" cy="507.59" rx="1.75" ry="0.75" fill="#400b5c"/><ellipse cx="15.38" cy="492.97" rx="0.73" ry="0.89" fill="#400b5c"/><ellipse cx="53.29" cy="479.79" rx="0.73" ry="0.55" fill="#400b5c"/><ellipse cx="57.74" cy="477.06" rx="0.73" ry="0.82" fill="#400b5c"/><ellipse cx="60.87" cy="487.99" rx="0.44" ry="0.41" fill="#400b5c"/><ellipse cx="62.62" cy="483.55" rx="0.51" ry="0.34" fill="#400b5c"/><ellipse cx="56.43" cy="474.87" rx="0.58" ry="0.55" fill="#400b5c"/><ellipse cx="59.05" cy="484.57" rx="0.45" ry="2.05" fill="#400b5c"/><ellipse cx="59.41" cy="488.67" rx="0.45" ry="1.37" fill="#400b5c"/><ellipse cx="62.33" cy="491.40" rx="0.45" ry="0.68" fill="#400b5c"/><ellipse cx="56.43" cy="495.50" rx="0.45" ry="0.45" fill="#400b5c"/><ellipse cx="49.94" cy="489.35" rx="0.45" ry="0.45" fill="#400b5c"/><ellipse cx="57.96" cy="481.16" rx="0.45" ry="0.45" fill="#400b5c"/><ellipse cx="47.75" cy="483.20" rx="0.45" ry="0.45" fill="#400b5c"/><ellipse cx="45.56" cy="479.79" rx="0.45" ry="0.45" fill="#400b5c"/><ellipse cx="36.09" cy="477.74" rx="0.45" ry="0.45" fill="#400b5c"/><ellipse cx="63.79" cy="479.79" rx="0.45" ry="0.45" fill="#400b5c"/><ellipse cx="55.04" cy="518.04" rx="0.45" ry="0.45" fill="#400b5c"/><ellipse cx="43.38" cy="502.33" rx="0.45" ry="0.45" fill="#400b5c"/><ellipse cx="37.54" cy="509.16" rx="0.45" ry="0.45" fill="#400b5c"/></g><rect x="11.30" y="459.30" width="72.90" height="68.30" fill="none" stroke="#ababab" stroke-width="1.0"/>
<rect x="85.10" y="459.30" width="2.7" height="68.3" fill="url(#vir)" stroke="#777" stroke-width="0.35"/>
<line x1="87.80" x2="88.70" y1="527.60" y2="527.60" stroke="#333" stroke-width="0.3"/>
<text x="89.30" y="529.20" font-size="4.7" text-anchor="start" fill="#222" stroke="#222" stroke-width="0.08">0</text>
<line x1="87.80" x2="88.70" y1="509.39" y2="509.39" stroke="#333" stroke-width="0.3"/>
<text x="89.30" y="510.99" font-size="4.7" text-anchor="start" fill="#222" stroke="#222" stroke-width="0.08">2</text>
<line x1="87.80" x2="88.70" y1="491.17" y2="491.17" stroke="#333" stroke-width="0.3"/>
<text x="89.30" y="492.77" font-size="4.7" text-anchor="start" fill="#222" stroke="#222" stroke-width="0.08">4</text>
<line x1="87.80" x2="88.70" y1="472.96" y2="472.96" stroke="#333" stroke-width="0.3"/>
<text x="89.30" y="474.56" font-size="4.7" text-anchor="start" fill="#222" stroke="#222" stroke-width="0.08">6</text>
<text x="47.75" y="457.10" font-size="4.6" text-anchor="middle" fill="#222" stroke="#222" stroke-width="0.06">Aqp2</text>
<text x="47.75" y="532.90" font-size="4.6" text-anchor="middle" fill="#222" stroke="#222" stroke-width="0.06">UMAP1</text>
<text x="9.10" y="493.45" font-size="4.6" text-anchor="middle" fill="#222" stroke="#222" stroke-width="0.06" transform="rotate(-90 9.10 493.45)">UMAP2</text>
<g mask="url(#spk2)"><ellipse cx="136.43" cy="517.56" rx="7.44" ry="7.17" fill="#400b5c"/><polygon points="123.3,482.9 127.0,481.8 130.6,482.2 132.4,483.9 134.2,486.6 136.4,489.4 137.2,491.4 136.4,494.1 134.2,496.9 131.3,499.3 127.7,500.1 124.8,499.4 122.6,496.9 121.6,492.8 121.6,487.3 122.2,484.6" fill="#400b5c" stroke="#400b5c" stroke-width="0.9" stroke-dasharray="0.01 1.1" stroke-linecap="round"/><polygon points="138.6,498.9 141.5,496.2 144.4,494.1 147.4,493.1 151.7,492.8 154.3,495.2 154.7,497.5 153.2,500.3 151.7,503.0 148.8,505.7 144.4,507.1 140.8,507.1 138.3,505.7 137.9,501.6" fill="#400b5c" stroke="#400b5c" stroke-width="0.9" stroke-dasharray="0.01 1.1" stroke-linecap="round"/><polygon points="153.9,495.5 156.1,498.9 157.9,502.3 162.7,505.4 163.8,508.5 162.3,511.9 160.1,514.6 158.3,512.6 156.8,508.5 155.7,505.1 154.7,502.3 153.2,498.9" fill="#400b5c" stroke="#400b5c" stroke-width="0.9" stroke-dasharray="0.01 1.1" stroke-linecap="round"/><polygon points="150.6,485.9 151.7,488.0 152.5,491.4 149.9,491.7 150.3,488.7" fill="#400b5c" stroke="#400b5c" stroke-width="0.9" stroke-dasharray="0.01 1.1" stroke-linecap="round"/><polygon points="131.3,483.2 133.5,483.9 135.7,485.6 138.6,485.3 141.5,483.5 142.6,484.6 142.3,488.0 140.8,489.4 137.9,489.0 135.7,487.3 133.5,486.6 131.3,485.3" fill="#400b5c" stroke="#400b5c" stroke-width="0.9" stroke-dasharray="0.01 1.1" stroke-linecap="round"/><polygon points="133.5,463.4 135.7,462.4 139.3,462.7 140.4,464.8 140.1,468.2 138.6,470.9 137.2,472.3 135.0,470.6 132.1,473.0 129.1,476.4 127.3,477.2 127.7,475.4 130.6,471.6 132.1,468.9 132.1,465.4" fill="#400b5c" stroke="#400b5c" stroke-width="0.9" stroke-dasharray="0.01 1.1" stroke-linecap="round"/><polygon points="128.4,466.8 130.6,467.5 131.3,470.2 133.5,471.9 137.2,473.0 140.1,473.3 141.7,474.5 140.8,475.4 137.9,474.7 134.2,474.0 131.3,472.6 129.1,470.9 128.0,468.9" fill="#400b5c" stroke="#400b5c" stroke-width="0.9" stroke-dasharray="0.01 1.1" stroke-linecap="round"/><ellipse cx="142.85" cy="476.65" rx="2.41" ry="1.84" fill="#400b5c"/><polygon points="165.6,468.9 167.8,467.8 169.6,469.5 170.0,472.3 168.5,473.6 167.8,476.4 166.3,476.9 165.6,474.3 164.9,471.6" fill="#400b5c" stroke="#400b5c" stroke-width="0.9" stroke-dasharray="0.01 1.1" stroke-linecap="round"/><polygon points="168.5,477.7 171.4,477.1 173.6,477.7 175.1,480.5 175.4,483.2 173.6,484.9 170.7,485.3 168.5,484.6 167.0,482.5 166.7,479.8" fill="#87d448" stroke="#87d448" stroke-width="0.9" stroke-dasharray="0.01 1.1" stroke-linecap="round"/><polygon points="161.2,483.2 162.3,483.5 165.6,488.0 169.2,491.4 172.2,492.8 175.8,493.1 177.8,494.8 177.6,496.2 175.8,495.5 172.2,494.5 168.5,492.8 164.9,489.4 161.6,484.6" fill="#400b5c" stroke="#400b5c" stroke-width="0.9" stroke-dasharray="0.01 1.1" stroke-linecap="round"/><polygon points="168.5,490.4 169.2,491.4 172.2,492.8 175.8,493.1 177.8,494.8 177.6,496.2 175.8,495.5 172.2,494.5 168.5,492.8 167.4,491.4" fill="#400b5c" stroke="#400b5c" stroke-width="0.9" stroke-dasharray="0.01 1.1" stroke-linecap="round"/><polygon points="159.0,489.4 160.5,488.7 161.9,490.0 163.0,492.8 161.9,495.5 160.9,497.9 159.8,496.9 159.0,493.4 157.9,491.4" fill="#400b5c" stroke="#400b5c" stroke-width="0.9" stroke-dasharray="0.01 1.1" stroke-linecap="round"/><polygon points="161.2,499.6 163.4,498.9 165.4,499.3 165.2,500.3 163.4,501.0 161.6,501.4" fill="#400b5c" stroke="#400b5c" stroke-width="0.9" stroke-dasharray="0.01 1.1" stroke-linecap="round"/><ellipse cx="172.44" cy="501.10" rx="1.75" ry="2.25" fill="#400b5c"/><polygon points="148.8,511.2 151.0,509.5 153.2,510.2 154.3,513.3 153.6,516.7 151.7,518.7 149.6,518.4 148.1,516.0 147.7,513.3" fill="#400b5c" stroke="#400b5c" stroke-width="0.9" stroke-dasharray="0.01 1.1" stroke-linecap="round"/><ellipse cx="123.45" cy="507.59" rx="1.75" ry="0.75" fill="#400b5c"/><ellipse cx="112.08" cy="492.97" rx="0.73" ry="0.89" fill="#400b5c"/><ellipse cx="149.99" cy="479.79" rx="0.73" ry="0.55" fill="#400b5c"/><ellipse cx="154.44" cy="477.06" rx="0.73" ry="0.82" fill="#400b5c"/><ellipse cx="157.57" cy="487.99" rx="0.44" ry="0.41" fill="#400b5c"/><ellipse cx="159.32" cy="483.55" rx="0.51" ry="0.34" fill="#400b5c"/><ellipse cx="153.13" cy="474.87" rx="0.58" ry="0.55" fill="#400b5c"/><ellipse cx="155.75" cy="484.57" rx="0.45" ry="2.05" fill="#400b5c"/><ellipse cx="156.11" cy="488.67" rx="0.45" ry="1.37" fill="#400b5c"/><ellipse cx="159.03" cy="491.40" rx="0.45" ry="0.68" fill="#400b5c"/><ellipse cx="153.13" cy="495.50" rx="0.45" ry="0.45" fill="#400b5c"/><ellipse cx="146.64" cy="489.35" rx="0.45" ry="0.45" fill="#400b5c"/><ellipse cx="154.66" cy="481.16" rx="0.45" ry="0.45" fill="#400b5c"/><ellipse cx="144.45" cy="483.20" rx="0.45" ry="0.45" fill="#400b5c"/><ellipse cx="142.26" cy="479.79" rx="0.45" ry="0.45" fill="#400b5c"/><ellipse cx="132.79" cy="477.74" rx="0.45" ry="0.45" fill="#400b5c"/><ellipse cx="160.49" cy="479.79" rx="0.45" ry="0.45" fill="#400b5c"/><ellipse cx="151.74" cy="518.04" rx="0.45" ry="0.45" fill="#400b5c"/><ellipse cx="140.08" cy="502.33" rx="0.45" ry="0.45" fill="#400b5c"/><ellipse cx="134.24" cy="509.16" rx="0.45" ry="0.45" fill="#400b5c"/></g><rect x="108.00" y="459.30" width="72.90" height="68.30" fill="none" stroke="#ababab" stroke-width="1.0"/>
<rect x="181.80" y="459.30" width="2.7" height="68.3" fill="url(#vir)" stroke="#777" stroke-width="0.35"/>
<line x1="184.50" x2="185.40" y1="527.60" y2="527.60" stroke="#333" stroke-width="0.3"/>
<text x="186.00" y="529.20" font-size="4.7" text-anchor="start" fill="#222" stroke="#222" stroke-width="0.08">0</text>
<line x1="184.50" x2="185.40" y1="516.76" y2="516.76" stroke="#333" stroke-width="0.3"/>
<text x="186.00" y="518.36" font-size="4.7" text-anchor="start" fill="#222" stroke="#222" stroke-width="0.08">1</text>
<line x1="184.50" x2="185.40" y1="505.92" y2="505.92" stroke="#333" stroke-width="0.3"/>
<text x="186.00" y="507.52" font-size="4.7" text-anchor="start" fill="#222" stroke="#222" stroke-width="0.08">2</text>
<line x1="184.50" x2="185.40" y1="495.08" y2="495.08" stroke="#333" stroke-width="0.3"/>
<text x="186.00" y="496.68" font-size="4.7" text-anchor="start" fill="#222" stroke="#222" stroke-width="0.08">3</text>
<line x1="184.50" x2="185.40" y1="484.23" y2="484.23" stroke="#333" stroke-width="0.3"/>
<text x="186.00" y="485.83" font-size="4.7" text-anchor="start" fill="#222" stroke="#222" stroke-width="0.08">4</text>
<line x1="184.50" x2="185.40" y1="473.39" y2="473.39" stroke="#333" stroke-width="0.3"/>
<text x="186.00" y="474.99" font-size="4.7" text-anchor="start" fill="#222" stroke="#222" stroke-width="0.08">5</text>
<line x1="184.50" x2="185.40" y1="462.55" y2="462.55" stroke="#333" stroke-width="0.3"/>
<text x="186.00" y="464.15" font-size="4.7" text-anchor="start" fill="#222" stroke="#222" stroke-width="0.08">6</text>
<text x="144.45" y="457.10" font-size="4.6" text-anchor="middle" fill="#222" stroke="#222" stroke-width="0.06">Slc4a1</text>
<text x="144.45" y="532.90" font-size="4.6" text-anchor="middle" fill="#222" stroke="#222" stroke-width="0.06">UMAP1</text>
<text x="105.80" y="493.45" font-size="4.6" text-anchor="middle" fill="#222" stroke="#222" stroke-width="0.06" transform="rotate(-90 105.80 493.45)">UMAP2</text>
<g mask="url(#spk2)"><ellipse cx="233.23" cy="517.56" rx="7.44" ry="7.17" fill="#400b5c"/><polygon points="220.1,482.9 223.8,481.8 227.4,482.2 229.2,483.9 231.0,486.6 233.2,489.4 234.0,491.4 233.2,494.1 231.0,496.9 228.1,499.3 224.5,500.1 221.6,499.4 219.4,496.9 218.4,492.8 218.4,487.3 219.0,484.6" fill="#400b5c" stroke="#400b5c" stroke-width="0.9" stroke-dasharray="0.01 1.1" stroke-linecap="round"/><polygon points="235.4,498.9 238.3,496.2 241.2,494.1 244.2,493.1 248.5,492.8 251.1,495.2 251.5,497.5 250.0,500.3 248.5,503.0 245.6,505.7 241.2,507.1 237.6,507.1 235.1,505.7 234.7,501.6" fill="#400b5c" stroke="#400b5c" stroke-width="0.9" stroke-dasharray="0.01 1.1" stroke-linecap="round"/><polygon points="250.7,495.5 252.9,498.9 254.7,502.3 259.5,505.4 260.6,508.5 259.1,511.9 256.9,514.6 255.1,512.6 253.6,508.5 252.5,505.1 251.5,502.3 250.0,498.9" fill="#400b5c" stroke="#400b5c" stroke-width="0.9" stroke-dasharray="0.01 1.1" stroke-linecap="round"/><polygon points="247.4,485.9 248.5,488.0 249.3,491.4 246.7,491.7 247.1,488.7" fill="#400b5c" stroke="#400b5c" stroke-width="0.9" stroke-dasharray="0.01 1.1" stroke-linecap="round"/><polygon points="228.1,483.2 230.3,483.9 232.5,485.6 235.4,485.3 238.3,483.5 239.4,484.6 239.1,488.0 237.6,489.4 234.7,489.0 232.5,487.3 230.3,486.6 228.1,485.3" fill="#400b5c" stroke="#400b5c" stroke-width="0.9" stroke-dasharray="0.01 1.1" stroke-linecap="round"/><polygon points="230.3,463.4 232.5,462.4 236.1,462.7 237.2,464.8 236.9,468.2 235.4,470.9 234.0,472.3 231.8,470.6 228.9,473.0 225.9,476.4 224.1,477.2 224.5,475.4 227.4,471.6 228.9,468.9 228.9,465.4" fill="#400b5c" stroke="#400b5c" stroke-width="0.9" stroke-dasharray="0.01 1.1" stroke-linecap="round"/><polygon points="225.2,466.8 227.4,467.5 228.1,470.2 230.3,471.9 234.0,473.0 236.9,473.3 238.5,474.5 237.6,475.4 234.7,474.7 231.0,474.0 228.1,472.6 225.9,470.9 224.8,468.9" fill="#400b5c" stroke="#400b5c" stroke-width="0.9" stroke-dasharray="0.01 1.1" stroke-linecap="round"/><ellipse cx="239.65" cy="476.65" rx="2.41" ry="1.84" fill="#400b5c"/><polygon points="262.4,468.9 264.6,467.8 266.4,469.5 266.8,472.3 265.3,473.6 264.6,476.4 263.1,476.9 262.4,474.3 261.7,471.6" fill="#b0dc2f" stroke="#b0dc2f" stroke-width="0.9" stroke-dasharray="0.01 1.1" stroke-linecap="round"/><polygon points="265.3,477.7 268.2,477.1 270.4,477.7 271.9,480.5 272.2,483.2 270.4,484.9 267.5,485.3 265.3,484.6 263.8,482.5 263.5,479.8" fill="#400b5c" stroke="#400b5c" stroke-width="0.9" stroke-dasharray="0.01 1.1" stroke-linecap="round"/><polygon points="258.0,483.2 259.1,483.5 262.4,488.0 266.0,491.4 269.0,492.8 272.6,493.1 274.6,494.8 274.4,496.2 272.6,495.5 269.0,494.5 265.3,492.8 261.7,489.4 258.4,484.6" fill="#400b5c" stroke="#400b5c" stroke-width="0.9" stroke-dasharray="0.01 1.1" stroke-linecap="round"/><polygon points="265.3,490.4 266.0,491.4 269.0,492.8 272.6,493.1 274.6,494.8 274.4,496.2 272.6,495.5 269.0,494.5 265.3,492.8 264.2,491.4" fill="#400b5c" stroke="#400b5c" stroke-width="0.9" stroke-dasharray="0.01 1.1" stroke-linecap="round"/><polygon points="255.8,489.4 257.3,488.7 258.7,490.0 259.8,492.8 258.7,495.5 257.7,497.9 256.6,496.9 255.8,493.4 254.7,491.4" fill="#400b5c" stroke="#400b5c" stroke-width="0.9" stroke-dasharray="0.01 1.1" stroke-linecap="round"/><polygon points="258.0,499.6 260.2,498.9 262.2,499.3 262.0,500.3 260.2,501.0 258.4,501.4" fill="#400b5c" stroke="#400b5c" stroke-width="0.9" stroke-dasharray="0.01 1.1" stroke-linecap="round"/><ellipse cx="269.24" cy="501.10" rx="1.75" ry="2.25" fill="#400b5c"/><polygon points="245.6,511.2 247.8,509.5 250.0,510.2 251.1,513.3 250.4,516.7 248.5,518.7 246.4,518.4 244.9,516.0 244.5,513.3" fill="#400b5c" stroke="#400b5c" stroke-width="0.9" stroke-dasharray="0.01 1.1" stroke-linecap="round"/><ellipse cx="220.25" cy="507.59" rx="1.75" ry="0.75" fill="#400b5c"/><ellipse cx="208.88" cy="492.97" rx="0.73" ry="0.89" fill="#400b5c"/><ellipse cx="246.79" cy="479.79" rx="0.73" ry="0.55" fill="#400b5c"/><ellipse cx="251.24" cy="477.06" rx="0.73" ry="0.82" fill="#400b5c"/><ellipse cx="254.37" cy="487.99" rx="0.44" ry="0.41" fill="#400b5c"/><ellipse cx="256.12" cy="483.55" rx="0.51" ry="0.34" fill="#400b5c"/><ellipse cx="249.93" cy="474.87" rx="0.58" ry="0.55" fill="#400b5c"/><ellipse cx="252.55" cy="484.57" rx="0.45" ry="2.05" fill="#400b5c"/><ellipse cx="252.91" cy="488.67" rx="0.45" ry="1.37" fill="#400b5c"/><ellipse cx="255.83" cy="491.40" rx="0.45" ry="0.68" fill="#400b5c"/><ellipse cx="249.93" cy="495.50" rx="0.45" ry="0.45" fill="#400b5c"/><ellipse cx="243.44" cy="489.35" rx="0.45" ry="0.45" fill="#400b5c"/><ellipse cx="251.46" cy="481.16" rx="0.45" ry="0.45" fill="#400b5c"/><ellipse cx="241.25" cy="483.20" rx="0.45" ry="0.45" fill="#400b5c"/><ellipse cx="239.06" cy="479.79" rx="0.45" ry="0.45" fill="#400b5c"/><ellipse cx="229.59" cy="477.74" rx="0.45" ry="0.45" fill="#400b5c"/><ellipse cx="257.29" cy="479.79" rx="0.45" ry="0.45" fill="#400b5c"/><ellipse cx="248.54" cy="518.04" rx="0.45" ry="0.45" fill="#400b5c"/><ellipse cx="236.88" cy="502.33" rx="0.45" ry="0.45" fill="#400b5c"/><ellipse cx="231.04" cy="509.16" rx="0.45" ry="0.45" fill="#400b5c"/></g><rect x="204.80" y="459.30" width="72.90" height="68.30" fill="none" stroke="#ababab" stroke-width="1.0"/>
<rect x="278.60" y="459.30" width="2.7" height="68.3" fill="url(#vir)" stroke="#777" stroke-width="0.35"/>
<line x1="281.30" x2="282.20" y1="527.60" y2="527.60" stroke="#333" stroke-width="0.3"/>
<text x="282.80" y="529.20" font-size="4.7" text-anchor="start" fill="#222" stroke="#222" stroke-width="0.08">0</text>
<line x1="281.30" x2="282.20" y1="514.47" y2="514.47" stroke="#333" stroke-width="0.3"/>
<text x="282.80" y="516.07" font-size="4.7" text-anchor="start" fill="#222" stroke="#222" stroke-width="0.08">1</text>
<line x1="281.30" x2="282.20" y1="501.33" y2="501.33" stroke="#333" stroke-width="0.3"/>
<text x="282.80" y="502.93" font-size="4.7" text-anchor="start" fill="#222" stroke="#222" stroke-width="0.08">2</text>
<line x1="281.30" x2="282.20" y1="488.20" y2="488.20" stroke="#333" stroke-width="0.3"/>
<text x="282.80" y="489.80" font-size="4.7" text-anchor="start" fill="#222" stroke="#222" stroke-width="0.08">3</text>
<line x1="281.30" x2="282.20" y1="475.06" y2="475.06" stroke="#333" stroke-width="0.3"/>
<text x="282.80" y="476.66" font-size="4.7" text-anchor="start" fill="#222" stroke="#222" stroke-width="0.08">4</text>
<line x1="281.30" x2="282.20" y1="461.93" y2="461.93" stroke="#333" stroke-width="0.3"/>
<text x="282.80" y="463.53" font-size="4.7" text-anchor="start" fill="#222" stroke="#222" stroke-width="0.08">5</text>
<text x="241.25" y="457.10" font-size="4.6" text-anchor="middle" fill="#222" stroke="#222" stroke-width="0.06">Slc26a4</text>
<text x="241.25" y="532.90" font-size="4.6" text-anchor="middle" fill="#222" stroke="#222" stroke-width="0.06">UMAP1</text>
<text x="202.60" y="493.45" font-size="4.6" text-anchor="middle" fill="#222" stroke="#222" stroke-width="0.06" transform="rotate(-90 202.60 493.45)">UMAP2</text>
<g mask="url(#spk2)"><ellipse cx="330.23" cy="517.56" rx="7.44" ry="7.17" fill="#400b5c"/><polygon points="317.1,482.9 320.8,481.8 324.4,482.2 326.2,483.9 328.0,486.6 330.2,489.4 331.0,491.4 330.2,494.1 328.0,496.9 325.1,499.3 321.5,500.1 318.6,499.4 316.4,496.9 315.4,492.8 315.4,487.3 316.0,484.6" fill="#400b5c" stroke="#400b5c" stroke-width="0.9" stroke-dasharray="0.01 1.1" stroke-linecap="round"/><polygon points="332.4,498.9 335.3,496.2 338.2,494.1 341.2,493.1 345.5,492.8 348.1,495.2 348.5,497.5 347.0,500.3 345.5,503.0 342.6,505.7 338.2,507.1 334.6,507.1 332.1,505.7 331.7,501.6" fill="#9cd83c" stroke="#9cd83c" stroke-width="0.9" stroke-dasharray="0.01 1.1" stroke-linecap="round"/><polygon points="347.7,495.5 349.9,498.9 351.7,502.3 356.5,505.4 357.6,508.5 356.1,511.9 353.9,514.6 352.1,512.6 350.6,508.5 349.5,505.1 348.5,502.3 347.0,498.9" fill="#a2d937" stroke="#a2d937" stroke-width="0.9" stroke-dasharray="0.01 1.1" stroke-linecap="round"/><polygon points="344.4,485.9 345.5,488.0 346.3,491.4 343.7,491.7 344.1,488.7" fill="#5fc860" stroke="#5fc860" stroke-width="0.9" stroke-dasharray="0.01 1.1" stroke-linecap="round"/><polygon points="325.1,483.2 327.3,483.9 329.5,485.6 332.4,485.3 335.3,483.5 336.4,484.6 336.1,488.0 334.6,489.4 331.7,489.0 329.5,487.3 327.3,486.6 325.1,485.3" fill="#400b5c" stroke="#400b5c" stroke-width="0.9" stroke-dasharray="0.01 1.1" stroke-linecap="round"/><polygon points="327.3,463.4 329.5,462.4 333.1,462.7 334.2,464.8 333.9,468.2 332.4,470.9 331.0,472.3 328.8,470.6 325.9,473.0 322.9,476.4 321.1,477.2 321.5,475.4 324.4,471.6 325.9,468.9 325.9,465.4" fill="#400b5c" stroke="#400b5c" stroke-width="0.9" stroke-dasharray="0.01 1.1" stroke-linecap="round"/><polygon points="322.2,466.8 324.4,467.5 325.1,470.2 327.3,471.9 331.0,473.0 333.9,473.3 335.5,474.5 334.6,475.4 331.7,474.7 328.0,474.0 325.1,472.6 322.9,470.9 321.8,468.9" fill="#400b5c" stroke="#400b5c" stroke-width="0.9" stroke-dasharray="0.01 1.1" stroke-linecap="round"/><ellipse cx="336.65" cy="476.65" rx="2.41" ry="1.84" fill="#400b5c"/><polygon points="359.4,468.9 361.6,467.8 363.4,469.5 363.8,472.3 362.3,473.6 361.6,476.4 360.1,476.9 359.4,474.3 358.7,471.6" fill="#400b5c" stroke="#400b5c" stroke-width="0.9" stroke-dasharray="0.01 1.1" stroke-linecap="round"/><polygon points="362.3,477.7 365.2,477.1 367.4,477.7 368.9,480.5 369.2,483.2 367.4,484.9 364.5,485.3 362.3,484.6 360.8,482.5 360.5,479.8" fill="#400b5c" stroke="#400b5c" stroke-width="0.9" stroke-dasharray="0.01 1.1" stroke-linecap="round"/><polygon points="355.0,483.2 356.1,483.5 359.4,488.0 363.0,491.4 366.0,492.8 369.6,493.1 371.6,494.8 371.4,496.2 369.6,495.5 366.0,494.5 362.3,492.8 358.7,489.4 355.4,484.6" fill="#400b5c" stroke="#400b5c" stroke-width="0.9" stroke-dasharray="0.01 1.1" stroke-linecap="round"/><polygon points="362.3,490.4 363.0,491.4 366.0,492.8 369.6,493.1 371.6,494.8 371.4,496.2 369.6,495.5 366.0,494.5 362.3,492.8 361.2,491.4" fill="#26848d" stroke="#26848d" stroke-width="0.9" stroke-dasharray="0.01 1.1" stroke-linecap="round"/><polygon points="352.8,489.4 354.3,488.7 355.7,490.0 356.8,492.8 355.7,495.5 354.7,497.9 353.6,496.9 352.8,493.4 351.7,491.4" fill="#400b5c" stroke="#400b5c" stroke-width="0.9" stroke-dasharray="0.01 1.1" stroke-linecap="round"/><polygon points="355.0,499.6 357.2,498.9 359.2,499.3 359.0,500.3 357.2,501.0 355.4,501.4" fill="#400b5c" stroke="#400b5c" stroke-width="0.9" stroke-dasharray="0.01 1.1" stroke-linecap="round"/><ellipse cx="366.24" cy="501.10" rx="1.75" ry="2.25" fill="#22a884"/><polygon points="342.6,511.2 344.8,509.5 347.0,510.2 348.1,513.3 347.4,516.7 345.5,518.7 343.4,518.4 341.9,516.0 341.5,513.3" fill="#400b5c" stroke="#400b5c" stroke-width="0.9" stroke-dasharray="0.01 1.1" stroke-linecap="round"/><ellipse cx="317.25" cy="507.59" rx="1.75" ry="0.75" fill="#400b5c"/><ellipse cx="305.88" cy="492.97" rx="0.73" ry="0.89" fill="#400b5c"/><ellipse cx="343.79" cy="479.79" rx="0.73" ry="0.55" fill="#400b5c"/><ellipse cx="348.24" cy="477.06" rx="0.73" ry="0.82" fill="#400b5c"/><ellipse cx="351.37" cy="487.99" rx="0.44" ry="0.41" fill="#400b5c"/><ellipse cx="353.12" cy="483.55" rx="0.51" ry="0.34" fill="#400b5c"/><ellipse cx="346.93" cy="474.87" rx="0.58" ry="0.55" fill="#400b5c"/><ellipse cx="349.55" cy="484.57" rx="0.45" ry="2.05" fill="#400b5c"/><ellipse cx="349.91" cy="488.67" rx="0.45" ry="1.37" fill="#400b5c"/><ellipse cx="352.83" cy="491.40" rx="0.45" ry="0.68" fill="#400b5c"/><ellipse cx="346.93" cy="495.50" rx="0.45" ry="0.45" fill="#400b5c"/><ellipse cx="340.44" cy="489.35" rx="0.45" ry="0.45" fill="#400b5c"/><ellipse cx="348.46" cy="481.16" rx="0.45" ry="0.45" fill="#400b5c"/><ellipse cx="338.25" cy="483.20" rx="0.45" ry="0.45" fill="#400b5c"/><ellipse cx="336.06" cy="479.79" rx="0.45" ry="0.45" fill="#400b5c"/><ellipse cx="326.59" cy="477.74" rx="0.45" ry="0.45" fill="#400b5c"/><ellipse cx="354.29" cy="479.79" rx="0.45" ry="0.45" fill="#400b5c"/><ellipse cx="345.54" cy="518.04" rx="0.45" ry="0.45" fill="#400b5c"/><ellipse cx="333.88" cy="502.33" rx="0.45" ry="0.45" fill="#400b5c"/><ellipse cx="328.04" cy="509.16" rx="0.45" ry="0.45" fill="#400b5c"/></g><rect x="301.80" y="459.30" width="72.90" height="68.30" fill="none" stroke="#ababab" stroke-width="1.0"/>
<rect x="375.60" y="459.30" width="2.7" height="68.3" fill="url(#vir)" stroke="#777" stroke-width="0.35"/>
<line x1="378.30" x2="379.20" y1="527.60" y2="527.60" stroke="#333" stroke-width="0.3"/>
<text x="379.80" y="529.20" font-size="4.7" text-anchor="start" fill="#222" stroke="#222" stroke-width="0.08">0</text>
<line x1="378.30" x2="379.20" y1="516.93" y2="516.93" stroke="#333" stroke-width="0.3"/>
<text x="379.80" y="518.53" font-size="4.7" text-anchor="start" fill="#222" stroke="#222" stroke-width="0.08">1</text>
<line x1="378.30" x2="379.20" y1="506.26" y2="506.26" stroke="#333" stroke-width="0.3"/>
<text x="379.80" y="507.86" font-size="4.7" text-anchor="start" fill="#222" stroke="#222" stroke-width="0.08">2</text>
<line x1="378.30" x2="379.20" y1="495.58" y2="495.58" stroke="#333" stroke-width="0.3"/>
<text x="379.80" y="497.18" font-size="4.7" text-anchor="start" fill="#222" stroke="#222" stroke-width="0.08">3</text>
<line x1="378.30" x2="379.20" y1="484.91" y2="484.91" stroke="#333" stroke-width="0.3"/>
<text x="379.80" y="486.51" font-size="4.7" text-anchor="start" fill="#222" stroke="#222" stroke-width="0.08">4</text>
<line x1="378.30" x2="379.20" y1="474.24" y2="474.24" stroke="#333" stroke-width="0.3"/>
<text x="379.80" y="475.84" font-size="4.7" text-anchor="start" fill="#222" stroke="#222" stroke-width="0.08">5</text>
<line x1="378.30" x2="379.20" y1="463.57" y2="463.57" stroke="#333" stroke-width="0.3"/>
<text x="379.80" y="465.17" font-size="4.7" text-anchor="start" fill="#222" stroke="#222" stroke-width="0.08">6</text>
<text x="338.25" y="457.10" font-size="4.6" text-anchor="middle" fill="#222" stroke="#222" stroke-width="0.06">Emcn</text>
<text x="338.25" y="532.90" font-size="4.6" text-anchor="middle" fill="#222" stroke="#222" stroke-width="0.06">UMAP1</text>
<text x="299.60" y="493.45" font-size="4.6" text-anchor="middle" fill="#222" stroke="#222" stroke-width="0.06" transform="rotate(-90 299.60 493.45)">UMAP2</text>
<g mask="url(#spk2)"><ellipse cx="427.83" cy="517.56" rx="7.44" ry="7.17" fill="#400b5c"/><polygon points="414.7,482.9 418.4,481.8 422.0,482.2 423.8,483.9 425.6,486.6 427.8,489.4 428.6,491.4 427.8,494.1 425.6,496.9 422.7,499.3 419.1,500.1 416.2,499.4 414.0,496.9 413.0,492.8 413.0,487.3 413.6,484.6" fill="#400b5c" stroke="#400b5c" stroke-width="0.9" stroke-dasharray="0.01 1.1" stroke-linecap="round"/><polygon points="430.0,498.9 432.9,496.2 435.8,494.1 438.8,493.1 443.1,492.8 445.7,495.2 446.1,497.5 444.6,500.3 443.1,503.0 440.2,505.7 435.8,507.1 432.2,507.1 429.7,505.7 429.3,501.6" fill="#400b5c" stroke="#400b5c" stroke-width="0.9" stroke-dasharray="0.01 1.1" stroke-linecap="round"/><polygon points="445.3,495.5 447.5,498.9 449.3,502.3 454.1,505.4 455.2,508.5 453.7,511.9 451.5,514.6 449.7,512.6 448.2,508.5 447.1,505.1 446.1,502.3 444.6,498.9" fill="#400b5c" stroke="#400b5c" stroke-width="0.9" stroke-dasharray="0.01 1.1" stroke-linecap="round"/><polygon points="442.0,485.9 443.1,488.0 443.9,491.4 441.3,491.7 441.7,488.7" fill="#400b5c" stroke="#400b5c" stroke-width="0.9" stroke-dasharray="0.01 1.1" stroke-linecap="round"/><polygon points="422.7,483.2 424.9,483.9 427.1,485.6 430.0,485.3 432.9,483.5 434.0,484.6 433.7,488.0 432.2,489.4 429.3,489.0 427.1,487.3 424.9,486.6 422.7,485.3" fill="#400b5c" stroke="#400b5c" stroke-width="0.9" stroke-dasharray="0.01 1.1" stroke-linecap="round"/><polygon points="424.9,463.4 427.1,462.4 430.7,462.7 431.8,464.8 431.5,468.2 430.0,470.9 428.6,472.3 426.4,470.6 423.5,473.0 420.5,476.4 418.7,477.2 419.1,475.4 422.0,471.6 423.5,468.9 423.5,465.4" fill="#400b5c" stroke="#400b5c" stroke-width="0.9" stroke-dasharray="0.01 1.1" stroke-linecap="round"/><polygon points="419.8,466.8 422.0,467.5 422.7,470.2 424.9,471.9 428.6,473.0 431.5,473.3 433.1,474.5 432.2,475.4 429.3,474.7 425.6,474.0 422.7,472.6 420.5,470.9 419.4,468.9" fill="#400b5c" stroke="#400b5c" stroke-width="0.9" stroke-dasharray="0.01 1.1" stroke-linecap="round"/><ellipse cx="434.25" cy="476.65" rx="2.41" ry="1.84" fill="#400b5c"/><polygon points="457.0,468.9 459.2,467.8 461.0,469.5 461.4,472.3 459.9,473.6 459.2,476.4 457.7,476.9 457.0,474.3 456.3,471.6" fill="#400b5c" stroke="#400b5c" stroke-width="0.9" stroke-dasharray="0.01 1.1" stroke-linecap="round"/><polygon points="459.9,477.7 462.8,477.1 465.0,477.7 466.5,480.5 466.8,483.2 465.0,484.9 462.1,485.3 459.9,484.6 458.4,482.5 458.1,479.8" fill="#400b5c" stroke="#400b5c" stroke-width="0.9" stroke-dasharray="0.01 1.1" stroke-linecap="round"/><polygon points="452.6,483.2 453.7,483.5 457.0,488.0 460.6,491.4 463.6,492.8 467.2,493.1 469.2,494.8 469.0,496.2 467.2,495.5 463.6,494.5 459.9,492.8 456.3,489.4 453.0,484.6" fill="#400b5c" stroke="#400b5c" stroke-width="0.9" stroke-dasharray="0.01 1.1" stroke-linecap="round"/><polygon points="459.9,490.4 460.6,491.4 463.6,492.8 467.2,493.1 469.2,494.8 469.0,496.2 467.2,495.5 463.6,494.5 459.9,492.8 458.8,491.4" fill="#400b5c" stroke="#400b5c" stroke-width="0.9" stroke-dasharray="0.01 1.1" stroke-linecap="round"/><polygon points="450.4,489.4 451.9,488.7 453.3,490.0 454.4,492.8 453.3,495.5 452.3,497.9 451.2,496.9 450.4,493.4 449.3,491.4" fill="#400b5c" stroke="#400b5c" stroke-width="0.9" stroke-dasharray="0.01 1.1" stroke-linecap="round"/><polygon points="452.6,499.6 454.8,498.9 456.8,499.3 456.6,500.3 454.8,501.0 453.0,501.4" fill="#400b5c" stroke="#400b5c" stroke-width="0.9" stroke-dasharray="0.01 1.1" stroke-linecap="round"/><ellipse cx="463.84" cy="501.10" rx="1.75" ry="2.25" fill="#400b5c"/><polygon points="440.2,511.2 442.4,509.5 444.6,510.2 445.7,513.3 445.0,516.7 443.1,518.7 441.0,518.4 439.5,516.0 439.1,513.3" fill="#400b5c" stroke="#400b5c" stroke-width="0.9" stroke-dasharray="0.01 1.1" stroke-linecap="round"/><ellipse cx="414.85" cy="507.59" rx="1.75" ry="0.75" fill="#400b5c"/><ellipse cx="403.48" cy="492.97" rx="0.73" ry="0.89" fill="#dde326"/><ellipse cx="441.39" cy="479.79" rx="0.73" ry="0.55" fill="#400b5c"/><ellipse cx="445.84" cy="477.06" rx="0.73" ry="0.82" fill="#400b5c"/><ellipse cx="448.97" cy="487.99" rx="0.44" ry="0.41" fill="#400b5c"/><ellipse cx="450.72" cy="483.55" rx="0.51" ry="0.34" fill="#400b5c"/><ellipse cx="444.53" cy="474.87" rx="0.58" ry="0.55" fill="#400b5c"/><ellipse cx="447.15" cy="484.57" rx="0.45" ry="2.05" fill="#400b5c"/><ellipse cx="447.51" cy="488.67" rx="0.45" ry="1.37" fill="#400b5c"/><ellipse cx="450.43" cy="491.40" rx="0.45" ry="0.68" fill="#400b5c"/><ellipse cx="444.53" cy="495.50" rx="0.45" ry="0.45" fill="#400b5c"/><ellipse cx="438.04" cy="489.35" rx="0.45" ry="0.45" fill="#400b5c"/><ellipse cx="446.06" cy="481.16" rx="0.45" ry="0.45" fill="#400b5c"/><ellipse cx="435.85" cy="483.20" rx="0.45" ry="0.45" fill="#400b5c"/><ellipse cx="433.66" cy="479.79" rx="0.45" ry="0.45" fill="#400b5c"/><ellipse cx="424.19" cy="477.74" rx="0.45" ry="0.45" fill="#400b5c"/><ellipse cx="451.89" cy="479.79" rx="0.45" ry="0.45" fill="#400b5c"/><ellipse cx="443.14" cy="518.04" rx="0.45" ry="0.45" fill="#400b5c"/><ellipse cx="431.48" cy="502.33" rx="0.45" ry="0.45" fill="#400b5c"/><ellipse cx="425.64" cy="509.16" rx="0.45" ry="0.45" fill="#400b5c"/></g><rect x="399.40" y="459.30" width="72.90" height="68.30" fill="none" stroke="#ababab" stroke-width="1.0"/>
<rect x="473.20" y="459.30" width="2.7" height="68.3" fill="url(#vir)" stroke="#777" stroke-width="0.35"/>
<line x1="475.90" x2="476.80" y1="527.60" y2="527.60" stroke="#333" stroke-width="0.3"/>
<text x="477.40" y="529.20" font-size="4.7" text-anchor="start" fill="#222" stroke="#222" stroke-width="0.08">0</text>
<line x1="475.90" x2="476.80" y1="512.42" y2="512.42" stroke="#333" stroke-width="0.3"/>
<text x="477.40" y="514.02" font-size="4.7" text-anchor="start" fill="#222" stroke="#222" stroke-width="0.08">2</text>
<line x1="475.90" x2="476.80" y1="497.24" y2="497.24" stroke="#333" stroke-width="0.3"/>
<text x="477.40" y="498.84" font-size="4.7" text-anchor="start" fill="#222" stroke="#222" stroke-width="0.08">4</text>
<line x1="475.90" x2="476.80" y1="482.07" y2="482.07" stroke="#333" stroke-width="0.3"/>
<text x="477.40" y="483.67" font-size="4.7" text-anchor="start" fill="#222" stroke="#222" stroke-width="0.08">6</text>
<line x1="475.90" x2="476.80" y1="466.89" y2="466.89" stroke="#333" stroke-width="0.3"/>
<text x="477.40" y="468.49" font-size="4.7" text-anchor="start" fill="#222" stroke="#222" stroke-width="0.08">8</text>
<text x="435.85" y="457.10" font-size="4.6" text-anchor="middle" fill="#222" stroke="#222" stroke-width="0.06">S100a9</text>
<text x="435.85" y="532.90" font-size="4.6" text-anchor="middle" fill="#222" stroke="#222" stroke-width="0.06">UMAP1</text>
<text x="397.20" y="493.45" font-size="4.6" text-anchor="middle" fill="#222" stroke="#222" stroke-width="0.06" transform="rotate(-90 397.20 493.45)">UMAP2</text>
<g mask="url(#spk2)"><ellipse cx="39.73" cy="605.46" rx="7.44" ry="7.17" fill="#400b5c"/><polygon points="26.6,570.8 30.3,569.7 33.9,570.1 35.7,571.8 37.5,574.5 39.7,577.3 40.5,579.3 39.7,582.0 37.5,584.8 34.6,587.2 31.0,588.0 28.1,587.3 25.9,584.8 24.9,580.7 24.9,575.2 25.5,572.5" fill="#400b5c" stroke="#400b5c" stroke-width="0.9" stroke-dasharray="0.01 1.1" stroke-linecap="round"/><polygon points="41.9,586.8 44.8,584.1 47.8,582.0 50.7,581.0 55.0,580.7 57.6,583.1 58.0,585.4 56.5,588.2 55.0,590.9 52.1,593.6 47.8,595.0 44.1,595.0 41.6,593.6 41.2,589.5" fill="#400b5c" stroke="#400b5c" stroke-width="0.9" stroke-dasharray="0.01 1.1" stroke-linecap="round"/><polygon points="57.2,583.4 59.4,586.8 61.2,590.2 66.0,593.3 67.1,596.4 65.6,599.8 63.4,602.5 61.6,600.5 60.1,596.4 59.0,593.0 58.0,590.2 56.5,586.8" fill="#400b5c" stroke="#400b5c" stroke-width="0.9" stroke-dasharray="0.01 1.1" stroke-linecap="round"/><polygon points="53.9,573.8 55.0,575.9 55.8,579.3 53.2,579.6 53.6,576.6" fill="#400b5c" stroke="#400b5c" stroke-width="0.9" stroke-dasharray="0.01 1.1" stroke-linecap="round"/><polygon points="34.6,571.1 36.8,571.8 39.0,573.5 41.9,573.2 44.8,571.4 45.9,572.5 45.6,575.9 44.1,577.3 41.2,576.9 39.0,575.2 36.8,574.5 34.6,573.2" fill="#400b5c" stroke="#400b5c" stroke-width="0.9" stroke-dasharray="0.01 1.1" stroke-linecap="round"/><polygon points="36.8,551.3 39.0,550.3 42.6,550.6 43.7,552.7 43.4,556.1 41.9,558.8 40.5,560.2 38.3,558.5 35.4,560.9 32.4,564.3 30.6,565.1 31.0,563.3 33.9,559.5 35.4,556.8 35.4,553.3" fill="#400b5c" stroke="#400b5c" stroke-width="0.9" stroke-dasharray="0.01 1.1" stroke-linecap="round"/><polygon points="31.7,554.7 33.9,555.4 34.6,558.1 36.8,559.8 40.5,560.9 43.4,561.2 45.0,562.4 44.1,563.3 41.2,562.6 37.5,561.9 34.6,560.5 32.4,558.8 31.3,556.8" fill="#400b5c" stroke="#400b5c" stroke-width="0.9" stroke-dasharray="0.01 1.1" stroke-linecap="round"/><ellipse cx="46.15" cy="564.55" rx="2.41" ry="1.84" fill="#400b5c"/><polygon points="68.9,556.8 71.1,555.7 72.9,557.4 73.3,560.2 71.8,561.5 71.1,564.3 69.6,564.8 68.9,562.2 68.2,559.5" fill="#400b5c" stroke="#400b5c" stroke-width="0.9" stroke-dasharray="0.01 1.1" stroke-linecap="round"/><polygon points="71.8,565.6 74.7,565.0 76.9,565.6 78.4,568.4 78.7,571.1 76.9,572.8 74.0,573.2 71.8,572.5 70.3,570.4 70.0,567.7" fill="#400b5c" stroke="#400b5c" stroke-width="0.9" stroke-dasharray="0.01 1.1" stroke-linecap="round"/><polygon points="64.5,571.1 65.6,571.4 68.9,575.9 72.5,579.3 75.5,580.7 79.1,581.0 81.1,582.7 80.9,584.1 79.1,583.4 75.5,582.4 71.8,580.7 68.2,577.3 64.9,572.5" fill="#3b528a" stroke="#3b528a" stroke-width="0.9" stroke-dasharray="0.01 1.1" stroke-linecap="round"/><polygon points="71.8,578.3 72.5,579.3 75.5,580.7 79.1,581.0 81.1,582.7 80.9,584.1 79.1,583.4 75.5,582.4 71.8,580.7 70.7,579.3" fill="#9cd83c" stroke="#9cd83c" stroke-width="0.9" stroke-dasharray="0.01 1.1" stroke-linecap="round"/><polygon points="62.3,577.3 63.8,576.6 65.2,577.9 66.3,580.7 65.2,583.4 64.2,585.8 63.1,584.8 62.3,581.4 61.2,579.3" fill="#355f8d" stroke="#355f8d" stroke-width="0.9" stroke-dasharray="0.01 1.1" stroke-linecap="round"/><polygon points="64.5,587.5 66.7,586.8 68.7,587.2 68.5,588.2 66.7,588.9 64.9,589.3" fill="#400b5c" stroke="#400b5c" stroke-width="0.9" stroke-dasharray="0.01 1.1" stroke-linecap="round"/><ellipse cx="75.74" cy="589.00" rx="1.75" ry="2.25" fill="#400b5c"/><polygon points="52.1,599.1 54.3,597.4 56.5,598.1 57.6,601.2 56.9,604.6 55.0,606.6 52.9,606.3 51.4,603.9 51.0,601.2" fill="#400b5c" stroke="#400b5c" stroke-width="0.9" stroke-dasharray="0.01 1.1" stroke-linecap="round"/><ellipse cx="26.75" cy="595.49" rx="1.75" ry="0.75" fill="#2a788e"/><ellipse cx="15.38" cy="580.87" rx="0.73" ry="0.89" fill="#400b5c"/><ellipse cx="53.29" cy="567.69" rx="0.73" ry="0.55" fill="#400b5c"/><ellipse cx="57.74" cy="564.96" rx="0.73" ry="0.82" fill="#44bf70"/><ellipse cx="60.87" cy="575.89" rx="0.44" ry="0.41" fill="#400b5c"/><ellipse cx="62.62" cy="571.45" rx="0.51" ry="0.34" fill="#400b5c"/><ellipse cx="56.43" cy="562.77" rx="0.58" ry="0.55" fill="#400b5c"/><ellipse cx="59.05" cy="572.47" rx="0.45" ry="2.05" fill="#400b5c"/><ellipse cx="59.41" cy="576.57" rx="0.45" ry="1.37" fill="#400b5c"/><ellipse cx="62.33" cy="579.30" rx="0.45" ry="0.68" fill="#400b5c"/><ellipse cx="56.43" cy="583.40" rx="0.45" ry="0.45" fill="#400b5c"/><ellipse cx="49.94" cy="577.25" rx="0.45" ry="0.45" fill="#400b5c"/><ellipse cx="57.96" cy="569.06" rx="0.45" ry="0.45" fill="#400b5c"/><ellipse cx="47.75" cy="571.11" rx="0.45" ry="0.45" fill="#400b5c"/><ellipse cx="45.56" cy="567.69" rx="0.45" ry="0.45" fill="#400b5c"/><ellipse cx="36.09" cy="565.64" rx="0.45" ry="0.45" fill="#400b5c"/><ellipse cx="63.79" cy="567.69" rx="0.45" ry="0.45" fill="#400b5c"/><ellipse cx="55.04" cy="605.94" rx="0.45" ry="0.45" fill="#400b5c"/><ellipse cx="43.38" cy="590.23" rx="0.45" ry="0.45" fill="#400b5c"/><ellipse cx="37.54" cy="597.06" rx="0.45" ry="0.45" fill="#400b5c"/></g><rect x="11.30" y="547.20" width="72.90" height="68.30" fill="none" stroke="#ababab" stroke-width="1.0"/>
<rect x="85.10" y="547.20" width="2.7" height="68.3" fill="url(#vir)" stroke="#777" stroke-width="0.35"/>
<line x1="87.80" x2="88.70" y1="615.50" y2="615.50" stroke="#333" stroke-width="0.3"/>
<text x="89.30" y="617.10" font-size="4.7" text-anchor="start" fill="#222" stroke="#222" stroke-width="0.08">0</text>
<line x1="87.80" x2="88.70" y1="597.29" y2="597.29" stroke="#333" stroke-width="0.3"/>
<text x="89.30" y="598.89" font-size="4.7" text-anchor="start" fill="#222" stroke="#222" stroke-width="0.08">2</text>
<line x1="87.80" x2="88.70" y1="579.07" y2="579.07" stroke="#333" stroke-width="0.3"/>
<text x="89.30" y="580.67" font-size="4.7" text-anchor="start" fill="#222" stroke="#222" stroke-width="0.08">4</text>
<line x1="87.80" x2="88.70" y1="560.86" y2="560.86" stroke="#333" stroke-width="0.3"/>
<text x="89.30" y="562.46" font-size="4.7" text-anchor="start" fill="#222" stroke="#222" stroke-width="0.08">6</text>
<text x="47.75" y="545.00" font-size="4.6" text-anchor="middle" fill="#222" stroke="#222" stroke-width="0.06">Tagln</text>
<text x="47.75" y="620.80" font-size="4.6" text-anchor="middle" fill="#222" stroke="#222" stroke-width="0.06">UMAP1</text>
<text x="9.10" y="581.35" font-size="4.6" text-anchor="middle" fill="#222" stroke="#222" stroke-width="0.06" transform="rotate(-90 9.10 581.35)">UMAP2</text>
<g mask="url(#spk2)"><ellipse cx="136.43" cy="605.46" rx="7.44" ry="7.17" fill="#400b5c"/><polygon points="123.3,570.8 127.0,569.7 130.6,570.1 132.4,571.8 134.2,574.5 136.4,577.3 137.2,579.3 136.4,582.0 134.2,584.8 131.3,587.2 127.7,588.0 124.8,587.3 122.6,584.8 121.6,580.7 121.6,575.2 122.2,572.5" fill="#400b5c" stroke="#400b5c" stroke-width="0.9" stroke-dasharray="0.01 1.1" stroke-linecap="round"/><polygon points="138.6,586.8 141.5,584.1 144.4,582.0 147.4,581.0 151.7,580.7 154.3,583.1 154.7,585.4 153.2,588.2 151.7,590.9 148.8,593.6 144.4,595.0 140.8,595.0 138.3,593.6 137.9,589.5" fill="#400b5c" stroke="#400b5c" stroke-width="0.9" stroke-dasharray="0.01 1.1" stroke-linecap="round"/><polygon points="153.9,583.4 156.1,586.8 157.9,590.2 162.7,593.3 163.8,596.4 162.3,599.8 160.1,602.5 158.3,600.5 156.8,596.4 155.7,593.0 154.7,590.2 153.2,586.8" fill="#400b5c" stroke="#400b5c" stroke-width="0.9" stroke-dasharray="0.01 1.1" stroke-linecap="round"/><polygon points="150.6,573.8 151.7,575.9 152.5,579.3 149.9,579.6 150.3,576.6" fill="#400b5c" stroke="#400b5c" stroke-width="0.9" stroke-dasharray="0.01 1.1" stroke-linecap="round"/><polygon points="131.3,571.1 133.5,571.8 135.7,573.5 138.6,573.2 141.5,571.4 142.6,572.5 142.3,575.9 140.8,577.3 137.9,576.9 135.7,575.2 133.5,574.5 131.3,573.2" fill="#400b5c" stroke="#400b5c" stroke-width="0.9" stroke-dasharray="0.01 1.1" stroke-linecap="round"/><polygon points="133.5,551.3 135.7,550.3 139.3,550.6 140.4,552.7 140.1,556.1 138.6,558.8 137.2,560.2 135.0,558.5 132.1,560.9 129.1,564.3 127.3,565.1 127.7,563.3 130.6,559.5 132.1,556.8 132.1,553.3" fill="#400b5c" stroke="#400b5c" stroke-width="0.9" stroke-dasharray="0.01 1.1" stroke-linecap="round"/><polygon points="128.4,554.7 130.6,555.4 131.3,558.1 133.5,559.8 137.2,560.9 140.1,561.2 141.7,562.4 140.8,563.3 137.9,562.6 134.2,561.9 131.3,560.5 129.1,558.8 128.0,556.8" fill="#400b5c" stroke="#400b5c" stroke-width="0.9" stroke-dasharray="0.01 1.1" stroke-linecap="round"/><ellipse cx="142.85" cy="564.55" rx="2.41" ry="1.84" fill="#400b5c"/><polygon points="165.6,556.8 167.8,555.7 169.6,557.4 170.0,560.2 168.5,561.5 167.8,564.3 166.3,564.8 165.6,562.2 164.9,559.5" fill="#400b5c" stroke="#400b5c" stroke-width="0.9" stroke-dasharray="0.01 1.1" stroke-linecap="round"/><polygon points="168.5,565.6 171.4,565.0 173.6,565.6 175.1,568.4 175.4,571.1 173.6,572.8 170.7,573.2 168.5,572.5 167.0,570.4 166.7,567.7" fill="#400b5c" stroke="#400b5c" stroke-width="0.9" stroke-dasharray="0.01 1.1" stroke-linecap="round"/><polygon points="161.2,571.1 162.3,571.4 165.6,575.9 169.2,579.3 172.2,580.7 175.8,581.0 177.8,582.7 177.6,584.1 175.8,583.4 172.2,582.4 168.5,580.7 164.9,577.3 161.6,572.5" fill="#400b5c" stroke="#400b5c" stroke-width="0.9" stroke-dasharray="0.01 1.1" stroke-linecap="round"/><polygon points="168.5,578.3 169.2,579.3 172.2,580.7 175.8,581.0 177.8,582.7 177.6,584.1 175.8,583.4 172.2,582.4 168.5,580.7 167.4,579.3" fill="#400b5c" stroke="#400b5c" stroke-width="0.9" stroke-dasharray="0.01 1.1" stroke-linecap="round"/><polygon points="159.0,577.3 160.5,576.6 161.9,577.9 163.0,580.7 161.9,583.4 160.9,585.8 159.8,584.8 159.0,581.4 157.9,579.3" fill="#400b5c" stroke="#400b5c" stroke-width="0.9" stroke-dasharray="0.01 1.1" stroke-linecap="round"/><polygon points="161.2,587.5 163.4,586.8 165.4,587.2 165.2,588.2 163.4,588.9 161.6,589.3" fill="#400b5c" stroke="#400b5c" stroke-width="0.9" stroke-dasharray="0.01 1.1" stroke-linecap="round"/><ellipse cx="172.44" cy="589.00" rx="1.75" ry="2.25" fill="#400b5c"/><polygon points="148.8,599.1 151.0,597.4 153.2,598.1 154.3,601.2 153.6,604.6 151.7,606.6 149.6,606.3 148.1,603.9 147.7,601.2" fill="#400b5c" stroke="#400b5c" stroke-width="0.9" stroke-dasharray="0.01 1.1" stroke-linecap="round"/><ellipse cx="123.45" cy="595.49" rx="1.75" ry="0.75" fill="#400b5c"/><ellipse cx="112.08" cy="580.87" rx="0.73" ry="0.89" fill="#400b5c"/><ellipse cx="149.99" cy="567.69" rx="0.73" ry="0.55" fill="#44bf70"/><ellipse cx="154.44" cy="564.96" rx="0.73" ry="0.82" fill="#400b5c"/><ellipse cx="157.57" cy="575.89" rx="0.44" ry="0.41" fill="#400b5c"/><ellipse cx="159.32" cy="571.45" rx="0.51" ry="0.34" fill="#400b5c"/><ellipse cx="153.13" cy="562.77" rx="0.58" ry="0.55" fill="#400b5c"/><ellipse cx="155.75" cy="572.47" rx="0.45" ry="2.05" fill="#400b5c"/><ellipse cx="156.11" cy="576.57" rx="0.45" ry="1.37" fill="#400b5c"/><ellipse cx="159.03" cy="579.30" rx="0.45" ry="0.68" fill="#400b5c"/><ellipse cx="153.13" cy="583.40" rx="0.45" ry="0.45" fill="#400b5c"/><ellipse cx="146.64" cy="577.25" rx="0.45" ry="0.45" fill="#400b5c"/><ellipse cx="154.66" cy="569.06" rx="0.45" ry="0.45" fill="#400b5c"/><ellipse cx="144.45" cy="571.11" rx="0.45" ry="0.45" fill="#400b5c"/><ellipse cx="142.26" cy="567.69" rx="0.45" ry="0.45" fill="#400b5c"/><ellipse cx="132.79" cy="565.64" rx="0.45" ry="0.45" fill="#400b5c"/><ellipse cx="160.49" cy="567.69" rx="0.45" ry="0.45" fill="#400b5c"/><ellipse cx="151.74" cy="605.94" rx="0.45" ry="0.45" fill="#400b5c"/><ellipse cx="140.08" cy="590.23" rx="0.45" ry="0.45" fill="#400b5c"/><ellipse cx="134.24" cy="597.06" rx="0.45" ry="0.45" fill="#400b5c"/></g><rect x="108.00" y="547.20" width="72.90" height="68.30" fill="none" stroke="#ababab" stroke-width="1.0"/>
<circle cx="155.38" cy="606.28" r="0.8" fill="#dde326"/>
<rect x="181.80" y="547.20" width="2.7" height="68.3" fill="url(#vir)" stroke="#777" stroke-width="0.35"/>
<line x1="184.50" x2="185.40" y1="615.50" y2="615.50" stroke="#333" stroke-width="0.3"/>
<text x="186.00" y="617.10" font-size="4.7" text-anchor="start" fill="#222" stroke="#222" stroke-width="0.08">0</text>
<line x1="184.50" x2="185.40" y1="604.83" y2="604.83" stroke="#333" stroke-width="0.3"/>
<text x="186.00" y="606.43" font-size="4.7" text-anchor="start" fill="#222" stroke="#222" stroke-width="0.08">1</text>
<line x1="184.50" x2="185.40" y1="594.16" y2="594.16" stroke="#333" stroke-width="0.3"/>
<text x="186.00" y="595.76" font-size="4.7" text-anchor="start" fill="#222" stroke="#222" stroke-width="0.08">2</text>
<line x1="184.50" x2="185.40" y1="583.48" y2="583.48" stroke="#333" stroke-width="0.3"/>
<text x="186.00" y="585.08" font-size="4.7" text-anchor="start" fill="#222" stroke="#222" stroke-width="0.08">3</text>
<line x1="184.50" x2="185.40" y1="572.81" y2="572.81" stroke="#333" stroke-width="0.3"/>
<text x="186.00" y="574.41" font-size="4.7" text-anchor="start" fill="#222" stroke="#222" stroke-width="0.08">4</text>
<line x1="184.50" x2="185.40" y1="562.14" y2="562.14" stroke="#333" stroke-width="0.3"/>
<text x="186.00" y="563.74" font-size="4.7" text-anchor="start" fill="#222" stroke="#222" stroke-width="0.08">5</text>
<line x1="184.50" x2="185.40" y1="551.47" y2="551.47" stroke="#333" stroke-width="0.3"/>
<text x="186.00" y="553.07" font-size="4.7" text-anchor="start" fill="#222" stroke="#222" stroke-width="0.08">6</text>
<text x="144.45" y="545.00" font-size="4.6" text-anchor="middle" fill="#222" stroke="#222" stroke-width="0.06">Nphs2</text>
<text x="144.45" y="620.80" font-size="4.6" text-anchor="middle" fill="#222" stroke="#222" stroke-width="0.06">UMAP1</text>
<text x="105.80" y="581.35" font-size="4.6" text-anchor="middle" fill="#222" stroke="#222" stroke-width="0.06" transform="rotate(-90 105.80 581.35)">UMAP2</text>
<g mask="url(#spk2)"><ellipse cx="233.23" cy="605.46" rx="7.44" ry="7.17" fill="#400b5c"/><polygon points="220.1,570.8 223.8,569.7 227.4,570.1 229.2,571.8 231.0,574.5 233.2,577.3 234.0,579.3 233.2,582.0 231.0,584.8 228.1,587.2 224.5,588.0 221.6,587.3 219.4,584.8 218.4,580.7 218.4,575.2 219.0,572.5" fill="#400b5c" stroke="#400b5c" stroke-width="0.9" stroke-dasharray="0.01 1.1" stroke-linecap="round"/><polygon points="235.4,586.8 238.3,584.1 241.2,582.0 244.2,581.0 248.5,580.7 251.1,583.1 251.5,585.4 250.0,588.2 248.5,590.9 245.6,593.6 241.2,595.0 237.6,595.0 235.1,593.6 234.7,589.5" fill="#400b5c" stroke="#400b5c" stroke-width="0.9" stroke-dasharray="0.01 1.1" stroke-linecap="round"/><polygon points="250.7,583.4 252.9,586.8 254.7,590.2 259.5,593.3 260.6,596.4 259.1,599.8 256.9,602.5 255.1,600.5 253.6,596.4 252.5,593.0 251.5,590.2 250.0,586.8" fill="#400b5c" stroke="#400b5c" stroke-width="0.9" stroke-dasharray="0.01 1.1" stroke-linecap="round"/><polygon points="247.4,573.8 248.5,575.9 249.3,579.3 246.7,579.6 247.1,576.6" fill="#400b5c" stroke="#400b5c" stroke-width="0.9" stroke-dasharray="0.01 1.1" stroke-linecap="round"/><polygon points="228.1,571.1 230.3,571.8 232.5,573.5 235.4,573.2 238.3,571.4 239.4,572.5 239.1,575.9 237.6,577.3 234.7,576.9 232.5,575.2 230.3,574.5 228.1,573.2" fill="#400b5c" stroke="#400b5c" stroke-width="0.9" stroke-dasharray="0.01 1.1" stroke-linecap="round"/><polygon points="230.3,551.3 232.5,550.3 236.1,550.6 237.2,552.7 236.9,556.1 235.4,558.8 234.0,560.2 231.8,558.5 228.9,560.9 225.9,564.3 224.1,565.1 224.5,563.3 227.4,559.5 228.9,556.8 228.9,553.3" fill="#400b5c" stroke="#400b5c" stroke-width="0.9" stroke-dasharray="0.01 1.1" stroke-linecap="round"/><polygon points="225.2,554.7 227.4,555.4 228.1,558.1 230.3,559.8 234.0,560.9 236.9,561.2 238.5,562.4 237.6,563.3 234.7,562.6 231.0,561.9 228.1,560.5 225.9,558.8 224.8,556.8" fill="#400b5c" stroke="#400b5c" stroke-width="0.9" stroke-dasharray="0.01 1.1" stroke-linecap="round"/><ellipse cx="239.65" cy="564.55" rx="2.41" ry="1.84" fill="#400b5c"/><polygon points="262.4,556.8 264.6,555.7 266.4,557.4 266.8,560.2 265.3,561.5 264.6,564.3 263.1,564.8 262.4,562.2 261.7,559.5" fill="#400b5c" stroke="#400b5c" stroke-width="0.9" stroke-dasharray="0.01 1.1" stroke-linecap="round"/><polygon points="265.3,565.6 268.2,565.0 270.4,565.6 271.9,568.4 272.2,571.1 270.4,572.8 267.5,573.2 265.3,572.5 263.8,570.4 263.5,567.7" fill="#400b5c" stroke="#400b5c" stroke-width="0.9" stroke-dasharray="0.01 1.1" stroke-linecap="round"/><polygon points="258.0,571.1 259.1,571.4 262.4,575.9 266.0,579.3 269.0,580.7 272.6,581.0 274.6,582.7 274.4,584.1 272.6,583.4 269.0,582.4 265.3,580.7 261.7,577.3 258.4,572.5" fill="#400b5c" stroke="#400b5c" stroke-width="0.9" stroke-dasharray="0.01 1.1" stroke-linecap="round"/><polygon points="265.3,578.3 266.0,579.3 269.0,580.7 272.6,581.0 274.6,582.7 274.4,584.1 272.6,583.4 269.0,582.4 265.3,580.7 264.2,579.3" fill="#2a788e" stroke="#2a788e" stroke-width="0.9" stroke-dasharray="0.01 1.1" stroke-linecap="round"/><polygon points="255.8,577.3 257.3,576.6 258.7,577.9 259.8,580.7 258.7,583.4 257.7,585.8 256.6,584.8 255.8,581.4 254.7,579.3" fill="#400b5c" stroke="#400b5c" stroke-width="0.9" stroke-dasharray="0.01 1.1" stroke-linecap="round"/><polygon points="258.0,587.5 260.2,586.8 262.2,587.2 262.0,588.2 260.2,588.9 258.4,589.3" fill="#400b5c" stroke="#400b5c" stroke-width="0.9" stroke-dasharray="0.01 1.1" stroke-linecap="round"/><ellipse cx="269.24" cy="589.00" rx="1.75" ry="2.25" fill="#7ad151"/><polygon points="245.6,599.1 247.8,597.4 250.0,598.1 251.1,601.2 250.4,604.6 248.5,606.6 246.4,606.3 244.9,603.9 244.5,601.2" fill="#472a79" stroke="#472a79" stroke-width="0.9" stroke-dasharray="0.01 1.1" stroke-linecap="round"/><ellipse cx="220.25" cy="595.49" rx="1.75" ry="0.75" fill="#26848d"/><ellipse cx="208.88" cy="580.87" rx="0.73" ry="0.89" fill="#400b5c"/><ellipse cx="246.79" cy="567.69" rx="0.73" ry="0.55" fill="#400b5c"/><ellipse cx="251.24" cy="564.96" rx="0.73" ry="0.82" fill="#400b5c"/><ellipse cx="254.37" cy="575.89" rx="0.44" ry="0.41" fill="#400b5c"/><ellipse cx="256.12" cy="571.45" rx="0.51" ry="0.34" fill="#400b5c"/><ellipse cx="249.93" cy="562.77" rx="0.58" ry="0.55" fill="#400b5c"/><ellipse cx="252.55" cy="572.47" rx="0.45" ry="2.05" fill="#400b5c"/><ellipse cx="252.91" cy="576.57" rx="0.45" ry="1.37" fill="#400b5c"/><ellipse cx="255.83" cy="579.30" rx="0.45" ry="0.68" fill="#400b5c"/><ellipse cx="249.93" cy="583.40" rx="0.45" ry="0.45" fill="#400b5c"/><ellipse cx="243.44" cy="577.25" rx="0.45" ry="0.45" fill="#400b5c"/><ellipse cx="251.46" cy="569.06" rx="0.45" ry="0.45" fill="#400b5c"/><ellipse cx="241.25" cy="571.11" rx="0.45" ry="0.45" fill="#400b5c"/><ellipse cx="239.06" cy="567.69" rx="0.45" ry="0.45" fill="#400b5c"/><ellipse cx="229.59" cy="565.64" rx="0.45" ry="0.45" fill="#400b5c"/><ellipse cx="257.29" cy="567.69" rx="0.45" ry="0.45" fill="#400b5c"/><ellipse cx="248.54" cy="605.94" rx="0.45" ry="0.45" fill="#400b5c"/><ellipse cx="236.88" cy="590.23" rx="0.45" ry="0.45" fill="#400b5c"/><ellipse cx="231.04" cy="597.06" rx="0.45" ry="0.45" fill="#400b5c"/></g><rect x="204.80" y="547.20" width="72.90" height="68.30" fill="none" stroke="#ababab" stroke-width="1.0"/>
<rect x="278.60" y="547.20" width="2.7" height="68.3" fill="url(#vir)" stroke="#777" stroke-width="0.35"/>
<line x1="281.30" x2="282.20" y1="615.50" y2="615.50" stroke="#333" stroke-width="0.3"/>
<text x="282.80" y="617.10" font-size="4.7" text-anchor="start" fill="#222" stroke="#222" stroke-width="0.08">0</text>
<line x1="281.30" x2="282.20" y1="600.65" y2="600.65" stroke="#333" stroke-width="0.3"/>
<text x="282.80" y="602.25" font-size="4.7" text-anchor="start" fill="#222" stroke="#222" stroke-width="0.08">1</text>
<line x1="281.30" x2="282.20" y1="585.80" y2="585.80" stroke="#333" stroke-width="0.3"/>
<text x="282.80" y="587.40" font-size="4.7" text-anchor="start" fill="#222" stroke="#222" stroke-width="0.08">2</text>
<line x1="281.30" x2="282.20" y1="570.96" y2="570.96" stroke="#333" stroke-width="0.3"/>
<text x="282.80" y="572.56" font-size="4.7" text-anchor="start" fill="#222" stroke="#222" stroke-width="0.08">3</text>
<line x1="281.30" x2="282.20" y1="556.11" y2="556.11" stroke="#333" stroke-width="0.3"/>
<text x="282.80" y="557.71" font-size="4.7" text-anchor="start" fill="#222" stroke="#222" stroke-width="0.08">4</text>
<text x="241.25" y="545.00" font-size="4.6" text-anchor="middle" fill="#222" stroke="#222" stroke-width="0.06">Fhl2</text>
<text x="241.25" y="620.80" font-size="4.6" text-anchor="middle" fill="#222" stroke="#222" stroke-width="0.06">UMAP1</text>
<text x="202.60" y="581.35" font-size="4.6" text-anchor="middle" fill="#222" stroke="#222" stroke-width="0.06" transform="rotate(-90 202.60 581.35)">UMAP2</text>
<g mask="url(#spk2)"><ellipse cx="330.23" cy="605.46" rx="7.44" ry="7.17" fill="#400b5c"/><polygon points="317.1,570.8 320.8,569.7 324.4,570.1 326.2,571.8 328.0,574.5 330.2,577.3 331.0,579.3 330.2,582.0 328.0,584.8 325.1,587.2 321.5,588.0 318.6,587.3 316.4,584.8 315.4,580.7 315.4,575.2 316.0,572.5" fill="#400b5c" stroke="#400b5c" stroke-width="0.9" stroke-dasharray="0.01 1.1" stroke-linecap="round"/><polygon points="332.4,586.8 335.3,584.1 338.2,582.0 341.2,581.0 345.5,580.7 348.1,583.1 348.5,585.4 347.0,588.2 345.5,590.9 342.6,593.6 338.2,595.0 334.6,595.0 332.1,593.6 331.7,589.5" fill="#400b5c" stroke="#400b5c" stroke-width="0.9" stroke-dasharray="0.01 1.1" stroke-linecap="round"/><polygon points="347.7,583.4 349.9,586.8 351.7,590.2 356.5,593.3 357.6,596.4 356.1,599.8 353.9,602.5 352.1,600.5 350.6,596.4 349.5,593.0 348.5,590.2 347.0,586.8" fill="#400b5c" stroke="#400b5c" stroke-width="0.9" stroke-dasharray="0.01 1.1" stroke-linecap="round"/><polygon points="344.4,573.8 345.5,575.9 346.3,579.3 343.7,579.6 344.1,576.6" fill="#400b5c" stroke="#400b5c" stroke-width="0.9" stroke-dasharray="0.01 1.1" stroke-linecap="round"/><polygon points="325.1,571.1 327.3,571.8 329.5,573.5 332.4,573.2 335.3,571.4 336.4,572.5 336.1,575.9 334.6,577.3 331.7,576.9 329.5,575.2 327.3,574.5 325.1,573.2" fill="#400b5c" stroke="#400b5c" stroke-width="0.9" stroke-dasharray="0.01 1.1" stroke-linecap="round"/><polygon points="327.3,551.3 329.5,550.3 333.1,550.6 334.2,552.7 333.9,556.1 332.4,558.8 331.0,560.2 328.8,558.5 325.9,560.9 322.9,564.3 321.1,565.1 321.5,563.3 324.4,559.5 325.9,556.8 325.9,553.3" fill="#87d448" stroke="#87d448" stroke-width="0.9" stroke-dasharray="0.01 1.1" stroke-linecap="round"/><polygon points="322.2,554.7 324.4,555.4 325.1,558.1 327.3,559.8 331.0,560.9 333.9,561.2 335.5,562.4 334.6,563.3 331.7,562.6 328.0,561.9 325.1,560.5 322.9,558.8 321.8,556.8" fill="#482475" stroke="#482475" stroke-width="0.9" stroke-dasharray="0.01 1.1" stroke-linecap="round"/><ellipse cx="336.65" cy="564.55" rx="2.41" ry="1.84" fill="#400b5c"/><polygon points="359.4,556.8 361.6,555.7 363.4,557.4 363.8,560.2 362.3,561.5 361.6,564.3 360.1,564.8 359.4,562.2 358.7,559.5" fill="#400b5c" stroke="#400b5c" stroke-width="0.9" stroke-dasharray="0.01 1.1" stroke-linecap="round"/><polygon points="362.3,565.6 365.2,565.0 367.4,565.6 368.9,568.4 369.2,571.1 367.4,572.8 364.5,573.2 362.3,572.5 360.8,570.4 360.5,567.7" fill="#400b5c" stroke="#400b5c" stroke-width="0.9" stroke-dasharray="0.01 1.1" stroke-linecap="round"/><polygon points="355.0,571.1 356.1,571.4 359.4,575.9 363.0,579.3 366.0,580.7 369.6,581.0 371.6,582.7 371.4,584.1 369.6,583.4 366.0,582.4 362.3,580.7 358.7,577.3 355.4,572.5" fill="#400b5c" stroke="#400b5c" stroke-width="0.9" stroke-dasharray="0.01 1.1" stroke-linecap="round"/><polygon points="362.3,578.3 363.0,579.3 366.0,580.7 369.6,581.0 371.6,582.7 371.4,584.1 369.6,583.4 366.0,582.4 362.3,580.7 361.2,579.3" fill="#400b5c" stroke="#400b5c" stroke-width="0.9" stroke-dasharray="0.01 1.1" stroke-linecap="round"/><polygon points="352.8,577.3 354.3,576.6 355.7,577.9 356.8,580.7 355.7,583.4 354.7,585.8 353.6,584.8 352.8,581.4 351.7,579.3" fill="#400b5c" stroke="#400b5c" stroke-width="0.9" stroke-dasharray="0.01 1.1" stroke-linecap="round"/><polygon points="355.0,587.5 357.2,586.8 359.2,587.2 359.0,588.2 357.2,588.9 355.4,589.3" fill="#400b5c" stroke="#400b5c" stroke-width="0.9" stroke-dasharray="0.01 1.1" stroke-linecap="round"/><ellipse cx="366.24" cy="589.00" rx="1.75" ry="2.25" fill="#400b5c"/><polygon points="342.6,599.1 344.8,597.4 347.0,598.1 348.1,601.2 347.4,604.6 345.5,606.6 343.4,606.3 341.9,603.9 341.5,601.2" fill="#400b5c" stroke="#400b5c" stroke-width="0.9" stroke-dasharray="0.01 1.1" stroke-linecap="round"/><ellipse cx="317.25" cy="595.49" rx="1.75" ry="0.75" fill="#400b5c"/><ellipse cx="305.88" cy="580.87" rx="0.73" ry="0.89" fill="#400b5c"/><ellipse cx="343.79" cy="567.69" rx="0.73" ry="0.55" fill="#400b5c"/><ellipse cx="348.24" cy="564.96" rx="0.73" ry="0.82" fill="#400b5c"/><ellipse cx="351.37" cy="575.89" rx="0.44" ry="0.41" fill="#400b5c"/><ellipse cx="353.12" cy="571.45" rx="0.51" ry="0.34" fill="#400b5c"/><ellipse cx="346.93" cy="562.77" rx="0.58" ry="0.55" fill="#400b5c"/><ellipse cx="349.55" cy="572.47" rx="0.45" ry="2.05" fill="#400b5c"/><ellipse cx="349.91" cy="576.57" rx="0.45" ry="1.37" fill="#400b5c"/><ellipse cx="352.83" cy="579.30" rx="0.45" ry="0.68" fill="#400b5c"/><ellipse cx="346.93" cy="583.40" rx="0.45" ry="0.45" fill="#400b5c"/><ellipse cx="340.44" cy="577.25" rx="0.45" ry="0.45" fill="#400b5c"/><ellipse cx="348.46" cy="569.06" rx="0.45" ry="0.45" fill="#400b5c"/><ellipse cx="338.25" cy="571.11" rx="0.45" ry="0.45" fill="#400b5c"/><ellipse cx="336.06" cy="567.69" rx="0.45" ry="0.45" fill="#400b5c"/><ellipse cx="326.59" cy="565.64" rx="0.45" ry="0.45" fill="#400b5c"/><ellipse cx="354.29" cy="567.69" rx="0.45" ry="0.45" fill="#400b5c"/><ellipse cx="345.54" cy="605.94" rx="0.45" ry="0.45" fill="#400b5c"/><ellipse cx="333.88" cy="590.23" rx="0.45" ry="0.45" fill="#400b5c"/><ellipse cx="328.04" cy="597.06" rx="0.45" ry="0.45" fill="#400b5c"/></g><rect x="301.80" y="547.20" width="72.90" height="68.30" fill="none" stroke="#ababab" stroke-width="1.0"/>
<rect x="375.60" y="547.20" width="2.7" height="68.3" fill="url(#vir)" stroke="#777" stroke-width="0.35"/>
<line x1="378.30" x2="379.20" y1="615.50" y2="615.50" stroke="#333" stroke-width="0.3"/>
<text x="379.80" y="617.10" font-size="4.7" text-anchor="start" fill="#222" stroke="#222" stroke-width="0.08">0</text>
<line x1="378.30" x2="379.20" y1="602.61" y2="602.61" stroke="#333" stroke-width="0.3"/>
<text x="379.80" y="604.21" font-size="4.7" text-anchor="start" fill="#222" stroke="#222" stroke-width="0.08">1</text>
<line x1="378.30" x2="379.20" y1="589.73" y2="589.73" stroke="#333" stroke-width="0.3"/>
<text x="379.80" y="591.33" font-size="4.7" text-anchor="start" fill="#222" stroke="#222" stroke-width="0.08">2</text>
<line x1="378.30" x2="379.20" y1="576.84" y2="576.84" stroke="#333" stroke-width="0.3"/>
<text x="379.80" y="578.44" font-size="4.7" text-anchor="start" fill="#222" stroke="#222" stroke-width="0.08">3</text>
<line x1="378.30" x2="379.20" y1="563.95" y2="563.95" stroke="#333" stroke-width="0.3"/>
<text x="379.80" y="565.55" font-size="4.7" text-anchor="start" fill="#222" stroke="#222" stroke-width="0.08">4</text>
<line x1="378.30" x2="379.20" y1="551.07" y2="551.07" stroke="#333" stroke-width="0.3"/>
<text x="379.80" y="552.67" font-size="4.7" text-anchor="start" fill="#222" stroke="#222" stroke-width="0.08">5</text>
<text x="338.25" y="545.00" font-size="4.6" text-anchor="middle" fill="#222" stroke="#222" stroke-width="0.06">Csf1r</text>
<text x="338.25" y="620.80" font-size="4.6" text-anchor="middle" fill="#222" stroke="#222" stroke-width="0.06">UMAP1</text>
<text x="299.60" y="581.35" font-size="4.6" text-anchor="middle" fill="#222" stroke="#222" stroke-width="0.06" transform="rotate(-90 299.60 581.35)">UMAP2</text>
<g mask="url(#spk2)"><ellipse cx="427.83" cy="605.46" rx="7.44" ry="7.17" fill="#400b5c"/><polygon points="414.7,570.8 418.4,569.7 422.0,570.1 423.8,571.8 425.6,574.5 427.8,577.3 428.6,579.3 427.8,582.0 425.6,584.8 422.7,587.2 419.1,588.0 416.2,587.3 414.0,584.8 413.0,580.7 413.0,575.2 413.6,572.5" fill="#400b5c" stroke="#400b5c" stroke-width="0.9" stroke-dasharray="0.01 1.1" stroke-linecap="round"/><polygon points="430.0,586.8 432.9,584.1 435.8,582.0 438.8,581.0 443.1,580.7 445.7,583.1 446.1,585.4 444.6,588.2 443.1,590.9 440.2,593.6 435.8,595.0 432.2,595.0 429.7,593.6 429.3,589.5" fill="#400b5c" stroke="#400b5c" stroke-width="0.9" stroke-dasharray="0.01 1.1" stroke-linecap="round"/><polygon points="445.3,583.4 447.5,586.8 449.3,590.2 454.1,593.3 455.2,596.4 453.7,599.8 451.5,602.5 449.7,600.5 448.2,596.4 447.1,593.0 446.1,590.2 444.6,586.8" fill="#400b5c" stroke="#400b5c" stroke-width="0.9" stroke-dasharray="0.01 1.1" stroke-linecap="round"/><polygon points="442.0,573.8 443.1,575.9 443.9,579.3 441.3,579.6 441.7,576.6" fill="#400b5c" stroke="#400b5c" stroke-width="0.9" stroke-dasharray="0.01 1.1" stroke-linecap="round"/><polygon points="422.7,571.1 424.9,571.8 427.1,573.5 430.0,573.2 432.9,571.4 434.0,572.5 433.7,575.9 432.2,577.3 429.3,576.9 427.1,575.2 424.9,574.5 422.7,573.2" fill="#400b5c" stroke="#400b5c" stroke-width="0.9" stroke-dasharray="0.01 1.1" stroke-linecap="round"/><polygon points="424.9,551.3 427.1,550.3 430.7,550.6 431.8,552.7 431.5,556.1 430.0,558.8 428.6,560.2 426.4,558.5 423.5,560.9 420.5,564.3 418.7,565.1 419.1,563.3 422.0,559.5 423.5,556.8 423.5,553.3" fill="#400b5c" stroke="#400b5c" stroke-width="0.9" stroke-dasharray="0.01 1.1" stroke-linecap="round"/><polygon points="419.8,554.7 422.0,555.4 422.7,558.1 424.9,559.8 428.6,560.9 431.5,561.2 433.1,562.4 432.2,563.3 429.3,562.6 425.6,561.9 422.7,560.5 420.5,558.8 419.4,556.8" fill="#400b5c" stroke="#400b5c" stroke-width="0.9" stroke-dasharray="0.01 1.1" stroke-linecap="round"/><ellipse cx="434.25" cy="564.55" rx="2.41" ry="1.84" fill="#9cd83c"/><polygon points="457.0,556.8 459.2,555.7 461.0,557.4 461.4,560.2 459.9,561.5 459.2,564.3 457.7,564.8 457.0,562.2 456.3,559.5" fill="#400b5c" stroke="#400b5c" stroke-width="0.9" stroke-dasharray="0.01 1.1" stroke-linecap="round"/><polygon points="459.9,565.6 462.8,565.0 465.0,565.6 466.5,568.4 466.8,571.1 465.0,572.8 462.1,573.2 459.9,572.5 458.4,570.4 458.1,567.7" fill="#400b5c" stroke="#400b5c" stroke-width="0.9" stroke-dasharray="0.01 1.1" stroke-linecap="round"/><polygon points="452.6,571.1 453.7,571.4 457.0,575.9 460.6,579.3 463.6,580.7 467.2,581.0 469.2,582.7 469.0,584.1 467.2,583.4 463.6,582.4 459.9,580.7 456.3,577.3 453.0,572.5" fill="#400b5c" stroke="#400b5c" stroke-width="0.9" stroke-dasharray="0.01 1.1" stroke-linecap="round"/><polygon points="459.9,578.3 460.6,579.3 463.6,580.7 467.2,581.0 469.2,582.7 469.0,584.1 467.2,583.4 463.6,582.4 459.9,580.7 458.8,579.3" fill="#400b5c" stroke="#400b5c" stroke-width="0.9" stroke-dasharray="0.01 1.1" stroke-linecap="round"/><polygon points="450.4,577.3 451.9,576.6 453.3,577.9 454.4,580.7 453.3,583.4 452.3,585.8 451.2,584.8 450.4,581.4 449.3,579.3" fill="#400b5c" stroke="#400b5c" stroke-width="0.9" stroke-dasharray="0.01 1.1" stroke-linecap="round"/><polygon points="452.6,587.5 454.8,586.8 456.8,587.2 456.6,588.2 454.8,588.9 453.0,589.3" fill="#400b5c" stroke="#400b5c" stroke-width="0.9" stroke-dasharray="0.01 1.1" stroke-linecap="round"/><ellipse cx="463.84" cy="589.00" rx="1.75" ry="2.25" fill="#400b5c"/><polygon points="440.2,599.1 442.4,597.4 444.6,598.1 445.7,601.2 445.0,604.6 443.1,606.6 441.0,606.3 439.5,603.9 439.1,601.2" fill="#400b5c" stroke="#400b5c" stroke-width="0.9" stroke-dasharray="0.01 1.1" stroke-linecap="round"/><ellipse cx="414.85" cy="595.49" rx="1.75" ry="0.75" fill="#400b5c"/><ellipse cx="403.48" cy="580.87" rx="0.73" ry="0.89" fill="#400b5c"/><ellipse cx="441.39" cy="567.69" rx="0.73" ry="0.55" fill="#400b5c"/><ellipse cx="445.84" cy="564.96" rx="0.73" ry="0.82" fill="#400b5c"/><ellipse cx="448.97" cy="575.89" rx="0.44" ry="0.41" fill="#400b5c"/><ellipse cx="450.72" cy="571.45" rx="0.51" ry="0.34" fill="#400b5c"/><ellipse cx="444.53" cy="562.77" rx="0.58" ry="0.55" fill="#400b5c"/><ellipse cx="447.15" cy="572.47" rx="0.45" ry="2.05" fill="#400b5c"/><ellipse cx="447.51" cy="576.57" rx="0.45" ry="1.37" fill="#400b5c"/><ellipse cx="450.43" cy="579.30" rx="0.45" ry="0.68" fill="#400b5c"/><ellipse cx="444.53" cy="583.40" rx="0.45" ry="0.45" fill="#400b5c"/><ellipse cx="438.04" cy="577.25" rx="0.45" ry="0.45" fill="#400b5c"/><ellipse cx="446.06" cy="569.06" rx="0.45" ry="0.45" fill="#400b5c"/><ellipse cx="435.85" cy="571.11" rx="0.45" ry="0.45" fill="#400b5c"/><ellipse cx="433.66" cy="567.69" rx="0.45" ry="0.45" fill="#400b5c"/><ellipse cx="424.19" cy="565.64" rx="0.45" ry="0.45" fill="#400b5c"/><ellipse cx="451.89" cy="567.69" rx="0.45" ry="0.45" fill="#400b5c"/><ellipse cx="443.14" cy="605.94" rx="0.45" ry="0.45" fill="#400b5c"/><ellipse cx="431.48" cy="590.23" rx="0.45" ry="0.45" fill="#400b5c"/><ellipse cx="425.64" cy="597.06" rx="0.45" ry="0.45" fill="#400b5c"/></g><rect x="399.40" y="547.20" width="72.90" height="68.30" fill="none" stroke="#ababab" stroke-width="1.0"/>
<rect x="473.20" y="547.20" width="2.7" height="68.3" fill="url(#vir)" stroke="#777" stroke-width="0.35"/>
<line x1="475.90" x2="476.80" y1="615.50" y2="615.50" stroke="#333" stroke-width="0.3"/>
<text x="477.40" y="617.10" font-size="4.7" text-anchor="start" fill="#222" stroke="#222" stroke-width="0.08">0</text>
<line x1="475.90" x2="476.80" y1="604.83" y2="604.83" stroke="#333" stroke-width="0.3"/>
<text x="477.40" y="606.43" font-size="4.7" text-anchor="start" fill="#222" stroke="#222" stroke-width="0.08">1</text>
<line x1="475.90" x2="476.80" y1="594.16" y2="594.16" stroke="#333" stroke-width="0.3"/>
<text x="477.40" y="595.76" font-size="4.7" text-anchor="start" fill="#222" stroke="#222" stroke-width="0.08">2</text>
<line x1="475.90" x2="476.80" y1="583.48" y2="583.48" stroke="#333" stroke-width="0.3"/>
<text x="477.40" y="585.08" font-size="4.7" text-anchor="start" fill="#222" stroke="#222" stroke-width="0.08">3</text>
<line x1="475.90" x2="476.80" y1="572.81" y2="572.81" stroke="#333" stroke-width="0.3"/>
<text x="477.40" y="574.41" font-size="4.7" text-anchor="start" fill="#222" stroke="#222" stroke-width="0.08">4</text>
<line x1="475.90" x2="476.80" y1="562.14" y2="562.14" stroke="#333" stroke-width="0.3"/>
<text x="477.40" y="563.74" font-size="4.7" text-anchor="start" fill="#222" stroke="#222" stroke-width="0.08">5</text>
<line x1="475.90" x2="476.80" y1="551.47" y2="551.47" stroke="#333" stroke-width="0.3"/>
<text x="477.40" y="553.07" font-size="4.7" text-anchor="start" fill="#222" stroke="#222" stroke-width="0.08">6</text>
<text x="435.85" y="545.00" font-size="4.6" text-anchor="middle" fill="#222" stroke="#222" stroke-width="0.06">Nkg7</text>
<text x="435.85" y="620.80" font-size="4.6" text-anchor="middle" fill="#222" stroke="#222" stroke-width="0.06">UMAP1</text>
<text x="397.20" y="581.35" font-size="4.6" text-anchor="middle" fill="#222" stroke="#222" stroke-width="0.06" transform="rotate(-90 397.20 581.35)">UMAP2</text>
<text x="5.00" y="619.20" font-size="9.2" text-anchor="start" fill="#000" font-weight="bold">f</text>
<g stroke="#3c3c3c" stroke-width="0.55" stroke-linejoin="round" stroke-linecap="round"><path d="M62.2,20.2 C58.8,22.0 57.0,25.2 57.6,28.6 C58.4,32.4 62.5,33.6 67.5,33.0 C71.5,32.4 74.8,30.6 76.8,31.4 C78.2,32.2 78.4,33.8 78.5,35.8" fill="none" stroke="#6a6060" stroke-width="1.5"/><path d="M62.2,20.2 C58.8,22.0 57.0,25.2 57.6,28.6 C58.4,32.4 62.5,33.6 67.5,33.0 C71.5,32.4 74.8,30.6 76.8,31.4 C78.2,32.2 78.4,33.8 78.5,35.8" fill="none" stroke="#e8cac2" stroke-width="0.85"/><path d="M93.4,8.0 C91.6,6.6 88.8,5.0 85.6,4.3 C83.4,3.9 80.6,5.0 78.2,5.6 C73.5,6.0 68.5,7.2 65.5,9.8 C62.5,12.5 61.2,16.5 61.6,20.0 C61.9,22.5 63.2,23.6 65.0,24.0 C67.5,24.9 70.5,25.3 73.0,25.0 C75.5,24.8 78.5,25.3 81.5,25.0 C83.0,24.9 84.5,24.6 84.0,23.8 C83.2,23.0 82.4,22.6 82.2,21.0 C82.6,18.8 83.8,16.6 85.2,15.0 C86.8,12.8 88.8,10.4 91.0,9.3 C92.0,8.9 92.9,8.5 93.4,8.0 Z" fill="#fff"/><path d="M70.5,19.0 C72.5,20.0 74.0,22.0 74.2,24.6 M79.8,19.5 C79.6,21.5 79.5,23.5 80.2,25.0 M66.5,24.3 C68.5,25.6 71.5,26.2 74.5,25.6" fill="none"/><path d="M67.5,24.9 C69.5,25.5 72,25.6 74,25.2 M79.8,25.2 C81.2,25.3 82.6,25.0 83.6,24.4" fill="none" stroke="#d8b4ac" stroke-width="0.6"/><circle cx="81.3" cy="6.1" r="2.1" fill="#fff"/><circle cx="81.2" cy="6.4" r="1.2" fill="#f0c4b4" stroke="none"/></g><circle cx="86.8" cy="8.0" r="0.6" fill="#c02828"/><circle cx="93.1" cy="8.2" r="0.5" fill="#222"/>
<g transform="translate(0,46.5)"><g stroke="#3c3c3c" stroke-width="0.55" stroke-linejoin="round" stroke-linecap="round"><path d="M62.2,20.2 C58.8,22.0 57.0,25.2 57.6,28.6 C58.4,32.4 62.5,33.6 67.5,33.0 C71.5,32.4 74.8,30.6 76.8,31.4 C78.2,32.2 78.4,33.8 78.5,35.8" fill="none" stroke="#6a6060" stroke-width="1.5"/><path d="M62.2,20.2 C58.8,22.0 57.0,25.2 57.6,28.6 C58.4,32.4 62.5,33.6 67.5,33.0 C71.5,32.4 74.8,30.6 76.8,31.4 C78.2,32.2 78.4,33.8 78.5,35.8" fill="none" stroke="#e8cac2" stroke-width="0.85"/><path d="M93.4,8.0 C91.6,6.6 88.8,5.0 85.6,4.3 C83.4,3.9 80.6,5.0 78.2,5.6 C73.5,6.0 68.5,7.2 65.5,9.8 C62.5,12.5 61.2,16.5 61.6,20.0 C61.9,22.5 63.2,23.6 65.0,24.0 C67.5,24.9 70.5,25.3 73.0,25.0 C75.5,24.8 78.5,25.3 81.5,25.0 C83.0,24.9 84.5,24.6 84.0,23.8 C83.2,23.0 82.4,22.6 82.2,21.0 C82.6,18.8 83.8,16.6 85.2,15.0 C86.8,12.8 88.8,10.4 91.0,9.3 C92.0,8.9 92.9,8.5 93.4,8.0 Z" fill="#fff"/><path d="M70.5,19.0 C72.5,20.0 74.0,22.0 74.2,24.6 M79.8,19.5 C79.6,21.5 79.5,23.5 80.2,25.0 M66.5,24.3 C68.5,25.6 71.5,26.2 74.5,25.6" fill="none"/><path d="M67.5,24.9 C69.5,25.5 72,25.6 74,25.2 M79.8,25.2 C81.2,25.3 82.6,25.0 83.6,24.4" fill="none" stroke="#d8b4ac" stroke-width="0.6"/><circle cx="81.3" cy="6.1" r="2.1" fill="#fff"/><circle cx="81.2" cy="6.4" r="1.2" fill="#f0c4b4" stroke="none"/></g><circle cx="86.8" cy="8.0" r="0.6" fill="#c02828"/><circle cx="93.1" cy="8.2" r="0.5" fill="#222"/></g>
<g transform="translate(0,0)"><path d="M149.4,1.5 C154,0.3 162,0.2 166,4.5 C169.5,8.5 170.6,14 170.3,19 C170.1,25 168.6,30 164.2,33.3 C160.2,35.3 154.2,35.3 151,32.6 C149,30.6 148.8,26 149.6,22.5 C150.2,20 151.5,18.5 150.8,16.5 C149.8,14.5 147.8,12 147.8,8.5 C147.8,5 148,2.5 149.4,1.5 Z" fill="#ef8e70"/><path d="M151.8,3.9 C155.2,2.9 161.2,2.9 164.0,6.0 C166.8,9.3 167.6,14 167.4,19 C167.2,24.2 165.9,28 162.6,30.6 C159.3,32.5 155.2,32.5 153.3,30.5 C151.9,28.9 151.9,26 152.5,23 C153.1,20.5 154.1,18.5 153.4,16.2 C152.4,14 150.7,11.5 150.7,8.7 C150.7,6.3 150.9,4.7 151.8,3.9 Z" fill="#f4aaa2"/><ellipse cx="157.6" cy="6.2" rx="3.4" ry="2.6" transform="rotate(-10 157.6 6.2)" fill="#f8c6c5"/><ellipse cx="163.0" cy="11.0" rx="2.7" ry="3.0" transform="rotate(40 163.0 11.0)" fill="#f8c6c5"/><ellipse cx="164.9" cy="18.2" rx="2.3" ry="3.4" transform="rotate(0 164.9 18.2)" fill="#f8c6c5"/><ellipse cx="163.4" cy="25.3" rx="2.5" ry="3.1" transform="rotate(-30 163.4 25.3)" fill="#f8c6c5"/><ellipse cx="158.8" cy="29.6" rx="2.9" ry="2.4" transform="rotate(-60 158.8 29.6)" fill="#f8c6c5"/><ellipse cx="154.6" cy="27.2" rx="1.9" ry="3.0" transform="rotate(10 154.6 27.2)" fill="#f8c6c5"/><ellipse cx="152.8" cy="9.0" rx="1.6" ry="2.6" transform="rotate(-20 152.8 9.0)" fill="#f8c6c5"/><path d="M153,16 L160.5,3.6 M153,16 L166.8,8.2 M153,16 L167.6,14.6 M153,16 L167.2,22 M153,16 L164.8,29.2 M153,16 L157.5,32.4" stroke="#ef8e70" stroke-width="0.55" fill="none" opacity="0.8"/><path d="M152.5,16 L160,13 L157,19 Z M152.5,16 L156,22 L150.5,19 Z" fill="#f4a070"/><path d="M143.2,4.6 C142.8,8 143,11 143.8,12.5 C145.5,14.3 149,14.3 152.5,15.2 M152.5,15.2 L149.5,6.5 M152.5,15.2 L160.5,15.6 M152.5,15.2 L155.5,21.5 L157.8,25.5 M155.5,21.5 L156.2,30" stroke="#d61e1e" stroke-width="1.0" fill="none" stroke-linecap="round"/><path d="M143.2,4.6 C142.8,8 143,11 143.8,12.5 C145.5,14.3 149,14.3 152.5,15.2" stroke="#d61e1e" stroke-width="1.8" fill="none" stroke-linecap="round"/><path d="M139.4,13.6 C139.8,15.6 141.5,16.4 144.5,16.0 C147.5,15.7 150,15.8 152.2,16.2 M152.2,16.2 L154.2,3.6 M152.2,16.2 L158.6,9.8 M152.2,16.2 L160.4,22 M152.2,16.2 L151.6,29.8" stroke="#4a78e6" stroke-width="0.9" fill="none" stroke-linecap="round"/><path d="M139.4,13.6 C139.8,15.6 141.5,16.4 144.5,16.0 C147.5,15.7 150,15.8 152.2,16.2" stroke="#4a78e6" stroke-width="2.0" fill="none" stroke-linecap="round"/><path d="M152.6,18.2 C150.2,21.5 148.6,25 148.1,29 L147.7,36.8" stroke="#dcbf5e" stroke-width="2.1" fill="none"/><circle cx="152.6" cy="17.6" r="1.3" fill="#dcbf5e"/></g>
<g transform="translate(0,46.2)"><path d="M149.4,1.5 C154,0.3 162,0.2 166,4.5 C169.5,8.5 170.6,14 170.3,19 C170.1,25 168.6,30 164.2,33.3 C160.2,35.3 154.2,35.3 151,32.6 C149,30.6 148.8,26 149.6,22.5 C150.2,20 151.5,18.5 150.8,16.5 C149.8,14.5 147.8,12 147.8,8.5 C147.8,5 148,2.5 149.4,1.5 Z" fill="#d99c8c"/><path d="M151.8,3.9 C155.2,2.9 161.2,2.9 164.0,6.0 C166.8,9.3 167.6,14 167.4,19 C167.2,24.2 165.9,28 162.6,30.6 C159.3,32.5 155.2,32.5 153.3,30.5 C151.9,28.9 151.9,26 152.5,23 C153.1,20.5 154.1,18.5 153.4,16.2 C152.4,14 150.7,11.5 150.7,8.7 C150.7,6.3 150.9,4.7 151.8,3.9 Z" fill="#e6b2ac"/><ellipse cx="157.6" cy="6.2" rx="3.4" ry="2.6" transform="rotate(-10 157.6 6.2)" fill="#f0cacd"/><ellipse cx="163.0" cy="11.0" rx="2.7" ry="3.0" transform="rotate(40 163.0 11.0)" fill="#f0cacd"/><ellipse cx="164.9" cy="18.2" rx="2.3" ry="3.4" transform="rotate(0 164.9 18.2)" fill="#f0cacd"/><ellipse cx="163.4" cy="25.3" rx="2.5" ry="3.1" transform="rotate(-30 163.4 25.3)" fill="#f0cacd"/><ellipse cx="158.8" cy="29.6" rx="2.9" ry="2.4" transform="rotate(-60 158.8 29.6)" fill="#f0cacd"/><ellipse cx="154.6" cy="27.2" rx="1.9" ry="3.0" transform="rotate(10 154.6 27.2)" fill="#f0cacd"/><ellipse cx="152.8" cy="9.0" rx="1.6" ry="2.6" transform="rotate(-20 152.8 9.0)" fill="#f0cacd"/><path d="M153,16 L160.5,3.6 M153,16 L166.8,8.2 M153,16 L167.6,14.6 M153,16 L167.2,22 M153,16 L164.8,29.2 M153,16 L157.5,32.4" stroke="#d99c8c" stroke-width="0.55" fill="none" opacity="0.8"/><path d="M152.5,16 L160,13 L157,19 Z M152.5,16 L156,22 L150.5,19 Z" fill="#e8a888"/><path d="M143.2,4.6 C142.8,8 143,11 143.8,12.5 C145.5,14.3 149,14.3 152.5,15.2 M152.5,15.2 L149.5,6.5 M152.5,15.2 L160.5,15.6 M152.5,15.2 L155.5,21.5 L157.8,25.5 M155.5,21.5 L156.2,30" stroke="#8e3434" stroke-width="1.0" fill="none" stroke-linecap="round"/><path d="M143.2,4.6 C142.8,8 143,11 143.8,12.5 C145.5,14.3 149,14.3 152.5,15.2" stroke="#8e3434" stroke-width="1.8" fill="none" stroke-linecap="round"/><path d="M139.4,13.6 C139.8,15.6 141.5,16.4 144.5,16.0 C147.5,15.7 150,15.8 152.2,16.2 M152.2,16.2 L154.2,3.6 M152.2,16.2 L158.6,9.8 M152.2,16.2 L160.4,22 M152.2,16.2 L151.6,29.8" stroke="#6684c8" stroke-width="0.9" fill="none" stroke-linecap="round"/><path d="M139.4,13.6 C139.8,15.6 141.5,16.4 144.5,16.0 C147.5,15.7 150,15.8 152.2,16.2" stroke="#6684c8" stroke-width="2.0" fill="none" stroke-linecap="round"/><path d="M152.6,18.2 C150.2,21.5 148.6,25 148.1,29 L147.7,36.8" stroke="#a4a894" stroke-width="2.1" fill="none"/><circle cx="152.6" cy="17.6" r="1.3" fill="#a4a894"/></g>
<g transform="translate(220,12.6) rotate(15)"><rect x="-3.8" y="-3.8" width="7.6" height="7.6" rx="1.2" fill="#f6dcc8" stroke="#e0b898" stroke-width="0.4"/><circle r="1.52" fill="#e0b898" opacity="0.6"/></g><path d="M227.2,10.2 Q236.8,8.7 246.4,10.2 Q236.8,11.7 227.2,10.2 Z" fill="#e4a4d4"/><ellipse cx="236.8" cy="10.2" rx="1.3" ry="0.7" fill="#b050a0"/><path d="M248.2,9.2 Q255.7,6.6 260.2,15.2 Q254.7,9.399999999999999 248.2,9.2 Z" fill="#c03848" stroke="#c03848" stroke-width="0.6" stroke-linejoin="round"/><g transform="translate(232,21.6) rotate(-12)"><rect x="-3.8" y="-3.8" width="7.6" height="7.6" rx="1.2" fill="#7f94e2" stroke="#5a70c8" stroke-width="0.4"/><circle r="1.52" fill="#5a70c8" opacity="0.6"/></g><g transform="translate(246.4,21) rotate(40)"><rect x="-3.8" y="-3.8" width="7.6" height="7.6" rx="1.2" fill="#d9b27e" stroke="#b08850" stroke-width="0.4"/><circle r="1.52" fill="#b08850" opacity="0.6"/></g><circle cx="258.2" cy="19.8" r="1.5" fill="#fff" stroke="#3050c0" stroke-width="0.9" stroke-dasharray="1 0.6"/><g transform="translate(218.8,27.2) rotate(45)"><rect x="-3.8" y="-3.8" width="7.6" height="7.6" rx="1.2" fill="#92d66e" stroke="#68b048" stroke-width="0.4"/><circle r="1.52" fill="#68b048" opacity="0.6"/></g><g transform="translate(253.6,29.6) rotate(-15)"><rect x="-3.8" y="-3.8" width="7.6" height="7.6" rx="1.2" fill="#dadada" stroke="#b8b8b8" stroke-width="0.4"/><circle r="1.52" fill="#b8b8b8" opacity="0.6"/></g><polygon points="243.38,32.20 240.20,32.77 243.63,34.71 239.18,33.77 239.67,35.79 237.40,34.59 235.62,36.89 235.21,34.19 232.83,34.82 233.19,33.52 231.18,33.14 232.46,32.20 231.31,31.28 233.30,30.91 232.65,29.46 235.32,30.35 235.91,28.65 237.31,30.18 239.93,28.29 239.71,30.28 242.56,30.09 240.27,31.62" fill="#7aa4c8" stroke="#5a86b4" stroke-width="0.35" stroke-linejoin="round"/><ellipse cx="237.10000000000002" cy="32.2" rx="3.2" ry="1.8" fill="#5a84b8"/><ellipse cx="237.10000000000002" cy="32.2" rx="1.5" ry="1.0" fill="#2a4a8a"/>
<path d="M221,53.5 Q229.5,49.9 235,52.5 Q228.5,52.7 221,53.5 Z" fill="#c03848" stroke="#c03848" stroke-width="0.6" stroke-linejoin="round"/><g transform="translate(242.5,51.5) rotate(40)"><rect x="-3.5" y="-3.5" width="7.0" height="7.0" rx="1.2" fill="#92d66e" stroke="#68b048" stroke-width="0.4"/><circle r="1.40" fill="#68b048" opacity="0.6"/></g><g transform="translate(218.8,60) rotate(-15)"><rect x="-3.8" y="-3.8" width="7.6" height="7.6" rx="1.2" fill="#f6dcc8" stroke="#e0b898" stroke-width="0.4"/><circle r="1.52" fill="#e0b898" opacity="0.6"/></g><g transform="translate(235,64.5) rotate(12)"><rect x="-3.8" y="-3.8" width="7.6" height="7.6" rx="1.2" fill="#7f94e2" stroke="#5a70c8" stroke-width="0.4"/><circle r="1.52" fill="#5a70c8" opacity="0.6"/></g><g transform="translate(257.5,58) rotate(40)"><rect x="-3.6" y="-3.6" width="7.2" height="7.2" rx="1.2" fill="#d9b27e" stroke="#b08850" stroke-width="0.4"/><circle r="1.44" fill="#b08850" opacity="0.6"/></g><circle cx="247.5" cy="64.5" r="1.5" fill="#fff" stroke="#3050c0" stroke-width="0.9" stroke-dasharray="1 0.6"/><g transform="translate(257.5,71.2) rotate(-15)"><rect x="-3.8" y="-3.8" width="7.6" height="7.6" rx="1.2" fill="#dadada" stroke="#b8b8b8" stroke-width="0.4"/><circle r="1.52" fill="#b8b8b8" opacity="0.6"/></g><polygon points="231.39,73.20 227.04,73.74 228.74,75.01 226.56,75.02 227.16,77.41 224.40,75.60 222.92,76.72 222.29,75.09 218.36,76.79 220.83,74.29 216.36,74.45 219.40,73.20 216.97,72.05 220.38,71.94 218.68,69.82 221.96,70.90 222.97,69.92 224.33,71.11 226.71,69.56 226.36,71.51 229.21,71.21 227.80,72.53" fill="#7aa4c8" stroke="#5a86b4" stroke-width="0.35" stroke-linejoin="round"/><ellipse cx="224.10000000000002" cy="73.2" rx="3.2" ry="1.8" fill="#5a84b8"/><ellipse cx="224.10000000000002" cy="73.2" rx="1.5" ry="1.0" fill="#2a4a8a"/><path d="M232.5,76.3 Q242.5,74.8 252.5,76.3 Q242.5,77.8 232.5,76.3 Z" fill="#e4a4d4"/><ellipse cx="242.5" cy="76.3" rx="1.3" ry="0.7" fill="#b050a0"/>
<rect x="327.9" y="22.2" width="9.8" height="36.1" fill="#b4b4e2" stroke="#9898cc" stroke-width="0.3"/><rect x="347.3" y="22.2" width="8.9" height="36.1" fill="#7474b6" stroke="#6060a0" stroke-width="0.3"/><rect x="298.5" y="34.8" width="78.2" height="10.1" fill="#a6a6d8" stroke="#8a8ac4" stroke-width="0.3"/><rect x="327.9" y="34.8" width="9.8" height="10.1" fill="#b4b4e2"/><rect x="347.3" y="34.8" width="8.9" height="10.1" fill="#7474b6"/><rect x="336" y="35.8" width="20" height="8" rx="4" fill="#c4c4ea"/><circle cx="301.9" cy="39.8" r="2.2" fill="#f8f2a0" stroke="#8080b8" stroke-width="0.3"/><circle cx="309.8" cy="39.8" r="2.2" fill="#8e96d4" stroke="#8080b8" stroke-width="0.3"/><circle cx="317.5" cy="39.8" r="2.2" fill="#1c1c62" stroke="#8080b8" stroke-width="0.3"/><circle cx="325.4" cy="39.8" r="2.2" fill="#e8825e" stroke="#8080b8" stroke-width="0.3"/><circle cx="333" cy="39.8" r="2.2" fill="#62b2c4" stroke="#8080b8" stroke-width="0.3"/><circle cx="340.5" cy="39.8" r="2.2" fill="#f8f2a0" stroke="#8080b8" stroke-width="0.3"/><circle cx="348.4" cy="39.8" r="2.5" fill="#e2a852" stroke="#8080b8" stroke-width="0.3"/><circle cx="357.8" cy="39.8" r="2.2" fill="#62b2c4" stroke="#8080b8" stroke-width="0.3"/><circle cx="364.9" cy="39.8" r="2.2" fill="#e2a852" stroke="#8080b8" stroke-width="0.3"/><circle cx="372" cy="39.8" r="2.2" fill="#f8f2a0" stroke="#8080b8" stroke-width="0.3"/><circle cx="341.5" cy="41.3" r="0.7" fill="#111"/><circle cx="358.8" cy="41.3" r="0.7" fill="#111"/><circle cx="373" cy="41.3" r="0.7" fill="#111"/><circle cx="332.6" cy="46.9" r="0.75" fill="#111"/><circle cx="332.6" cy="53.3" r="0.75" fill="#111"/>
<path d="M447.7,57.5 L458.3,57.5 L459.5,62.2 L446.5,62.2 Z" fill="#d4e6f6" stroke="#4a5566" stroke-width="0.6"/><rect x="443.7" y="62.0" width="19.2" height="2.8" rx="1" fill="#d4e6f6" stroke="#4a5566" stroke-width="0.6"/><rect x="424.6" y="18" width="56.7" height="39.5" rx="2.2" fill="#d4e6f6" stroke="#4a5566" stroke-width="0.9"/><rect x="427.9" y="21.3" width="50.1" height="28.3" fill="#fff" stroke="#4a5566" stroke-width="0.7"/><line x1="424.6" x2="481.3" y1="52.3" y2="52.3" stroke="#4a5566" stroke-width="0.4"/><circle cx="452.7" cy="54.9" r="0.9" fill="none" stroke="#4a5566" stroke-width="0.35"/><rect x="438.5" y="43.5" width="1.0" height="1.0" fill="#8ed040"/><rect x="433.5" y="42.4" width="1.0" height="1.0" fill="#8ed040"/><rect x="436.5" y="37.3" width="1.0" height="1.0" fill="#8ed040"/><rect x="445.8" y="39.0" width="1.0" height="1.0" fill="#8ed040"/><rect x="437.8" y="41.8" width="1.0" height="1.0" fill="#8ed040"/><rect x="443.8" y="38.4" width="1.0" height="1.0" fill="#8ed040"/><rect x="441.0" y="34.5" width="1.0" height="1.0" fill="#8ed040"/><rect x="435.9" y="36.5" width="1.0" height="1.0" fill="#8ed040"/><rect x="432.8" y="33.8" width="1.0" height="1.0" fill="#8ed040"/><rect x="430.8" y="37.7" width="1.0" height="1.0" fill="#8ed040"/><rect x="437.0" y="37.0" width="1.0" height="1.0" fill="#8ed040"/><rect x="438.3" y="33.3" width="1.0" height="1.0" fill="#8ed040"/><rect x="437.5" y="39.6" width="1.0" height="1.0" fill="#8ed040"/><rect x="441.9" y="35.0" width="1.0" height="1.0" fill="#8ed040"/><rect x="436.4" y="32.2" width="1.0" height="1.0" fill="#8ed040"/><rect x="436.2" y="32.1" width="1.0" height="1.0" fill="#8ed040"/><rect x="432.0" y="42.2" width="1.0" height="1.0" fill="#8ed040"/><rect x="430.3" y="40.7" width="1.0" height="1.0" fill="#8ed040"/><rect x="439.9" y="37.0" width="1.0" height="1.0" fill="#8ed040"/><rect x="440.6" y="40.9" width="1.0" height="1.0" fill="#8ed040"/><rect x="443.5" y="37.5" width="1.0" height="1.0" fill="#8ed040"/><rect x="434.7" y="35.8" width="1.0" height="1.0" fill="#8ed040"/><rect x="432.7" y="38.3" width="1.0" height="1.0" fill="#8ed040"/><rect x="434.1" y="42.7" width="1.0" height="1.0" fill="#8ed040"/><rect x="431.0" y="35.2" width="1.0" height="1.0" fill="#8ed040"/><rect x="434.6" y="32.5" width="1.0" height="1.0" fill="#8ed040"/><rect x="443.2" y="33.2" width="1.0" height="1.0" fill="#8ed040"/><rect x="436.4" y="36.1" width="1.0" height="1.0" fill="#8ed040"/><rect x="443.3" y="33.4" width="1.0" height="1.0" fill="#8ed040"/><rect x="443.3" y="35.6" width="1.0" height="1.0" fill="#8ed040"/><rect x="437.1" y="35.5" width="1.0" height="1.0" fill="#8ed040"/><rect x="441.2" y="34.0" width="1.0" height="1.0" fill="#8ed040"/><rect x="437.5" y="40.2" width="1.0" height="1.0" fill="#8ed040"/><rect x="443.1" y="33.1" width="1.0" height="1.0" fill="#8ed040"/><rect x="444.5" y="41.7" width="1.0" height="1.0" fill="#8ed040"/><rect x="435.2" y="39.9" width="1.0" height="1.0" fill="#8ed040"/><rect x="436.0" y="44.2" width="1.0" height="1.0" fill="#8ed040"/><rect x="439.2" y="37.5" width="1.0" height="1.0" fill="#8ed040"/><rect x="436.6" y="37.5" width="1.0" height="1.0" fill="#8ed040"/><rect x="437.0" y="34.7" width="1.0" height="1.0" fill="#8ed040"/><rect x="444.2" y="33.9" width="1.0" height="1.0" fill="#8ed040"/><rect x="429.5" y="38.3" width="1.0" height="1.0" fill="#8ed040"/><rect x="437.1" y="40.3" width="1.0" height="1.0" fill="#8ed040"/><rect x="436.8" y="37.8" width="1.0" height="1.0" fill="#8ed040"/><rect x="439.8" y="42.6" width="1.0" height="1.0" fill="#8ed040"/><rect x="435.4" y="36.8" width="1.0" height="1.0" fill="#8ed040"/><rect x="445.6" y="40.2" width="1.0" height="1.0" fill="#8ed040"/><rect x="434.8" y="44.6" width="1.0" height="1.0" fill="#8ed040"/><rect x="442.2" y="36.0" width="1.0" height="1.0" fill="#8ed040"/><rect x="432.1" y="39.7" width="1.0" height="1.0" fill="#8ed040"/><rect x="433.9" y="34.4" width="1.0" height="1.0" fill="#8ed040"/><rect x="431.8" y="36.6" width="1.0" height="1.0" fill="#8ed040"/><rect x="443.6" y="36.7" width="1.0" height="1.0" fill="#8ed040"/><rect x="431.4" y="40.9" width="1.0" height="1.0" fill="#8ed040"/><rect x="438.4" y="42.2" width="1.0" height="1.0" fill="#8ed040"/><rect x="444.1" y="37.8" width="1.0" height="1.0" fill="#8ed040"/><rect x="437.1" y="38.3" width="1.0" height="1.0" fill="#8ed040"/><rect x="432.4" y="41.1" width="1.0" height="1.0" fill="#8ed040"/><rect x="444.6" y="39.2" width="1.0" height="1.0" fill="#8ed040"/><rect x="436.6" y="37.3" width="1.0" height="1.0" fill="#8ed040"/><rect x="434.0" y="35.2" width="1.0" height="1.0" fill="#8ed040"/><rect x="435.8" y="34.9" width="1.0" height="1.0" fill="#8ed040"/><rect x="436.0" y="32.9" width="1.0" height="1.0" fill="#8ed040"/><rect x="440.1" y="38.7" width="1.0" height="1.0" fill="#8ed040"/><rect x="434.3" y="32.5" width="1.0" height="1.0" fill="#8ed040"/><rect x="438.0" y="43.1" width="1.0" height="1.0" fill="#8ed040"/><rect x="434.0" y="36.4" width="1.0" height="1.0" fill="#8ed040"/><rect x="434.9" y="41.4" width="1.0" height="1.0" fill="#8ed040"/><rect x="433.5" y="42.3" width="1.0" height="1.0" fill="#8ed040"/><rect x="436.4" y="42.5" width="1.0" height="1.0" fill="#8ed040"/><rect x="438.2" y="37.4" width="1.0" height="1.0" fill="#8ed040"/><rect x="431.4" y="36.0" width="1.0" height="1.0" fill="#8ed040"/><rect x="436.5" y="41.5" width="1.0" height="1.0" fill="#8ed040"/><rect x="439.4" y="35.4" width="1.0" height="1.0" fill="#8ed040"/><rect x="440.1" y="42.6" width="1.0" height="1.0" fill="#8ed040"/><rect x="437.1" y="36.4" width="1.0" height="1.0" fill="#8ed040"/><rect x="435.9" y="42.0" width="1.0" height="1.0" fill="#8ed040"/><rect x="440.8" y="34.6" width="1.0" height="1.0" fill="#8ed040"/><rect x="440.2" y="36.3" width="1.0" height="1.0" fill="#8ed040"/><rect x="434.4" y="43.2" width="1.0" height="1.0" fill="#8ed040"/><rect x="442.3" y="35.5" width="1.0" height="1.0" fill="#8ed040"/><rect x="438.5" y="40.8" width="1.0" height="1.0" fill="#8ed040"/><rect x="434.4" y="38.0" width="1.0" height="1.0" fill="#8ed040"/><rect x="440.7" y="32.7" width="1.0" height="1.0" fill="#8ed040"/><rect x="439.8" y="41.8" width="1.0" height="1.0" fill="#8ed040"/><rect x="440.4" y="33.4" width="1.0" height="1.0" fill="#8ed040"/><rect x="439.7" y="34.8" width="1.0" height="1.0" fill="#8ed040"/><rect x="441.2" y="41.2" width="1.0" height="1.0" fill="#8ed040"/><rect x="439.2" y="35.1" width="1.0" height="1.0" fill="#8ed040"/><rect x="434.9" y="42.1" width="1.0" height="1.0" fill="#8ed040"/><rect x="433.2" y="40.6" width="1.0" height="1.0" fill="#8ed040"/><rect x="440.9" y="37.2" width="1.0" height="1.0" fill="#8ed040"/><rect x="446.3" y="38.7" width="1.0" height="1.0" fill="#8ed040"/><rect x="444.2" y="33.9" width="1.0" height="1.0" fill="#8ed040"/><rect x="430.4" y="41.2" width="1.0" height="1.0" fill="#8ed040"/><rect x="441.6" y="37.1" width="1.0" height="1.0" fill="#8ed040"/><rect x="437.8" y="32.3" width="1.0" height="1.0" fill="#8ed040"/><rect x="434.8" y="34.3" width="1.0" height="1.0" fill="#8ed040"/><rect x="436.8" y="42.4" width="1.0" height="1.0" fill="#8ed040"/><rect x="438.3" y="40.3" width="1.0" height="1.0" fill="#8ed040"/><rect x="434.1" y="36.6" width="1.0" height="1.0" fill="#8ed040"/><rect x="438.7" y="37.2" width="1.0" height="1.0" fill="#8ed040"/><rect x="443.8" y="35.3" width="1.0" height="1.0" fill="#8ed040"/><rect x="445.1" y="35.5" width="1.0" height="1.0" fill="#8ed040"/><rect x="443.2" y="35.5" width="1.0" height="1.0" fill="#8ed040"/><rect x="445.3" y="39.0" width="1.0" height="1.0" fill="#8ed040"/><rect x="440.2" y="41.8" width="1.0" height="1.0" fill="#8ed040"/><rect x="434.8" y="34.3" width="1.0" height="1.0" fill="#8ed040"/><rect x="430.9" y="41.9" width="1.0" height="1.0" fill="#8ed040"/><rect x="434.2" y="35.9" width="1.0" height="1.0" fill="#8ed040"/><rect x="437.9" y="44.8" width="1.0" height="1.0" fill="#8ed040"/><rect x="430.6" y="39.4" width="1.0" height="1.0" fill="#8ed040"/><rect x="435.7" y="40.9" width="1.0" height="1.0" fill="#8ed040"/><rect x="430.5" y="37.2" width="1.0" height="1.0" fill="#8ed040"/><rect x="441.6" y="43.8" width="1.0" height="1.0" fill="#8ed040"/><rect x="444.7" y="35.6" width="1.0" height="1.0" fill="#8ed040"/><rect x="438.3" y="38.0" width="1.0" height="1.0" fill="#8ed040"/><rect x="432.5" y="33.9" width="1.0" height="1.0" fill="#8ed040"/><rect x="442.2" y="39.6" width="1.0" height="1.0" fill="#8ed040"/><rect x="437.3" y="43.4" width="1.0" height="1.0" fill="#8ed040"/><rect x="432.8" y="40.7" width="1.0" height="1.0" fill="#8ed040"/><rect x="438.1" y="38.2" width="1.0" height="1.0" fill="#8ed040"/><rect x="440.8" y="39.3" width="1.0" height="1.0" fill="#8ed040"/><rect x="439.6" y="39.8" width="1.0" height="1.0" fill="#8ed040"/><rect x="445.8" y="37.5" width="1.0" height="1.0" fill="#8ed040"/><rect x="443.2" y="41.0" width="1.0" height="1.0" fill="#8ed040"/><rect x="436.1" y="42.0" width="1.0" height="1.0" fill="#8ed040"/><rect x="433.9" y="42.9" width="1.0" height="1.0" fill="#8ed040"/><rect x="433.6" y="36.4" width="1.0" height="1.0" fill="#8ed040"/><rect x="439.8" y="42.1" width="1.0" height="1.0" fill="#8ed040"/><rect x="442.5" y="42.1" width="1.0" height="1.0" fill="#8ed040"/><rect x="436.9" y="34.4" width="1.0" height="1.0" fill="#8ed040"/><rect x="441.1" y="39.9" width="1.0" height="1.0" fill="#8ed040"/><rect x="433.4" y="42.3" width="1.0" height="1.0" fill="#8ed040"/><rect x="439.1" y="34.4" width="1.0" height="1.0" fill="#8ed040"/><rect x="440.1" y="33.4" width="1.0" height="1.0" fill="#8ed040"/><rect x="433.3" y="40.2" width="1.0" height="1.0" fill="#8ed040"/><rect x="430.9" y="38.6" width="1.0" height="1.0" fill="#8ed040"/><rect x="431.8" y="41.2" width="1.0" height="1.0" fill="#8ed040"/><rect x="433.9" y="39.3" width="1.0" height="1.0" fill="#8ed040"/><rect x="431.1" y="37.2" width="1.0" height="1.0" fill="#8ed040"/><rect x="443.0" y="40.4" width="1.0" height="1.0" fill="#8ed040"/><rect x="430.9" y="41.4" width="1.0" height="1.0" fill="#8ed040"/><rect x="442.8" y="36.9" width="1.0" height="1.0" fill="#8ed040"/><rect x="444.1" y="34.9" width="1.0" height="1.0" fill="#8ed040"/><rect x="437.6" y="43.1" width="1.0" height="1.0" fill="#8ed040"/><rect x="443.5" y="42.8" width="1.0" height="1.0" fill="#8ed040"/><rect x="433.8" y="33.0" width="1.0" height="1.0" fill="#8ed040"/><rect x="439.8" y="33.1" width="1.0" height="1.0" fill="#8ed040"/><rect x="437.3" y="33.4" width="1.0" height="1.0" fill="#8ed040"/><rect x="451.8" y="32.4" width="1.0" height="1.0" fill="#4a4a82"/><rect x="450.7" y="30.5" width="1.0" height="1.0" fill="#4a4a82"/><rect x="449.1" y="29.7" width="1.0" height="1.0" fill="#4a4a82"/><rect x="450.2" y="31.2" width="1.0" height="1.0" fill="#4a4a82"/><rect x="450.4" y="29.3" width="1.0" height="1.0" fill="#4a4a82"/><rect x="453.1" y="31.0" width="1.0" height="1.0" fill="#4a4a82"/><rect x="452.0" y="33.0" width="1.0" height="1.0" fill="#4a4a82"/><rect x="447.1" y="27.3" width="1.0" height="1.0" fill="#4a4a82"/><rect x="452.3" y="29.6" width="1.0" height="1.0" fill="#4a4a82"/><rect x="449.3" y="29.8" width="1.0" height="1.0" fill="#4a4a82"/><rect x="449.4" y="27.7" width="1.0" height="1.0" fill="#4a4a82"/><rect x="448.7" y="29.2" width="1.0" height="1.0" fill="#4a4a82"/><rect x="449.0" y="26.6" width="1.0" height="1.0" fill="#4a4a82"/><rect x="451.4" y="31.4" width="1.0" height="1.0" fill="#4a4a82"/><rect x="445.2" y="29.1" width="1.0" height="1.0" fill="#4a4a82"/><rect x="449.1" y="32.2" width="1.0" height="1.0" fill="#4a4a82"/><rect x="449.0" y="33.6" width="1.0" height="1.0" fill="#4a4a82"/><rect x="449.1" y="28.0" width="1.0" height="1.0" fill="#4a4a82"/><rect x="447.1" y="32.4" width="1.0" height="1.0" fill="#4a4a82"/><rect x="447.3" y="32.6" width="1.0" height="1.0" fill="#4a4a82"/><rect x="451.8" y="31.9" width="1.0" height="1.0" fill="#4a4a82"/><rect x="451.9" y="30.1" width="1.0" height="1.0" fill="#4a4a82"/><rect x="449.0" y="28.9" width="1.0" height="1.0" fill="#4a4a82"/><rect x="447.6" y="27.3" width="1.0" height="1.0" fill="#4a4a82"/><rect x="447.5" y="27.9" width="1.0" height="1.0" fill="#4a4a82"/><rect x="445.4" y="30.8" width="1.0" height="1.0" fill="#4a4a82"/><rect x="450.4" y="29.6" width="1.0" height="1.0" fill="#4a4a82"/><rect x="452.2" y="32.5" width="1.0" height="1.0" fill="#4a4a82"/><rect x="451.8" y="29.1" width="1.0" height="1.0" fill="#4a4a82"/><rect x="445.4" y="31.7" width="1.0" height="1.0" fill="#4a4a82"/><rect x="449.9" y="32.4" width="1.0" height="1.0" fill="#4a4a82"/><rect x="450.1" y="33.4" width="1.0" height="1.0" fill="#4a4a82"/><rect x="448.1" y="32.3" width="1.0" height="1.0" fill="#4a4a82"/><rect x="447.4" y="26.9" width="1.0" height="1.0" fill="#4a4a82"/><rect x="447.9" y="33.7" width="1.0" height="1.0" fill="#4a4a82"/><rect x="445.4" y="32.4" width="1.0" height="1.0" fill="#4a4a82"/><rect x="447.0" y="29.5" width="1.0" height="1.0" fill="#4a4a82"/><rect x="449.1" y="31.1" width="1.0" height="1.0" fill="#4a4a82"/><rect x="446.2" y="30.8" width="1.0" height="1.0" fill="#4a4a82"/><rect x="450.3" y="32.6" width="1.0" height="1.0" fill="#4a4a82"/><rect x="447.3" y="33.7" width="1.0" height="1.0" fill="#4a4a82"/><rect x="451.8" y="33.6" width="1.0" height="1.0" fill="#4a4a82"/><rect x="445.5" y="30.9" width="1.0" height="1.0" fill="#4a4a82"/><rect x="445.0" y="31.2" width="1.0" height="1.0" fill="#4a4a82"/><rect x="450.5" y="27.8" width="1.0" height="1.0" fill="#4a4a82"/><rect x="457.3" y="29.3" width="1.0" height="1.0" fill="#8050c4"/><rect x="467.1" y="26.2" width="1.0" height="1.0" fill="#8050c4"/><rect x="463.2" y="23.7" width="1.0" height="1.0" fill="#8050c4"/><rect x="460.2" y="29.3" width="1.0" height="1.0" fill="#8050c4"/><rect x="464.6" y="33.2" width="1.0" height="1.0" fill="#8050c4"/><rect x="460.5" y="24.3" width="1.0" height="1.0" fill="#8050c4"/><rect x="466.4" y="26.8" width="1.0" height="1.0" fill="#8050c4"/><rect x="465.5" y="31.3" width="1.0" height="1.0" fill="#8050c4"/><rect x="466.6" y="32.8" width="1.0" height="1.0" fill="#8050c4"/><rect x="468.8" y="25.0" width="1.0" height="1.0" fill="#8050c4"/><rect x="463.8" y="33.6" width="1.0" height="1.0" fill="#8050c4"/><rect x="462.0" y="31.9" width="1.0" height="1.0" fill="#8050c4"/><rect x="463.7" y="27.3" width="1.0" height="1.0" fill="#8050c4"/><rect x="470.1" y="31.4" width="1.0" height="1.0" fill="#8050c4"/><rect x="462.8" y="31.8" width="1.0" height="1.0" fill="#8050c4"/><rect x="458.2" y="26.7" width="1.0" height="1.0" fill="#8050c4"/><rect x="468.6" y="28.9" width="1.0" height="1.0" fill="#8050c4"/><rect x="458.9" y="30.2" width="1.0" height="1.0" fill="#8050c4"/><rect x="465.5" y="32.7" width="1.0" height="1.0" fill="#8050c4"/><rect x="468.8" y="27.9" width="1.0" height="1.0" fill="#8050c4"/><rect x="461.3" y="28.3" width="1.0" height="1.0" fill="#8050c4"/><rect x="463.0" y="33.0" width="1.0" height="1.0" fill="#8050c4"/><rect x="469.7" y="32.0" width="1.0" height="1.0" fill="#8050c4"/><rect x="466.1" y="27.9" width="1.0" height="1.0" fill="#8050c4"/><rect x="468.6" y="27.7" width="1.0" height="1.0" fill="#8050c4"/><rect x="465.0" y="24.3" width="1.0" height="1.0" fill="#8050c4"/><rect x="462.1" y="32.9" width="1.0" height="1.0" fill="#8050c4"/><rect x="459.9" y="25.0" width="1.0" height="1.0" fill="#8050c4"/><rect x="463.3" y="33.3" width="1.0" height="1.0" fill="#8050c4"/><rect x="470.4" y="27.8" width="1.0" height="1.0" fill="#8050c4"/><rect x="461.4" y="28.4" width="1.0" height="1.0" fill="#8050c4"/><rect x="459.3" y="28.9" width="1.0" height="1.0" fill="#8050c4"/><rect x="462.7" y="24.6" width="1.0" height="1.0" fill="#8050c4"/><rect x="460.9" y="27.9" width="1.0" height="1.0" fill="#8050c4"/><rect x="460.1" y="25.5" width="1.0" height="1.0" fill="#8050c4"/><rect x="467.3" y="33.2" width="1.0" height="1.0" fill="#8050c4"/><rect x="462.4" y="27.3" width="1.0" height="1.0" fill="#8050c4"/><rect x="466.7" y="28.0" width="1.0" height="1.0" fill="#8050c4"/><rect x="460.7" y="32.6" width="1.0" height="1.0" fill="#8050c4"/><rect x="459.1" y="26.6" width="1.0" height="1.0" fill="#8050c4"/><rect x="460.7" y="26.0" width="1.0" height="1.0" fill="#8050c4"/><rect x="462.7" y="30.8" width="1.0" height="1.0" fill="#8050c4"/><rect x="470.1" y="30.6" width="1.0" height="1.0" fill="#8050c4"/><rect x="464.2" y="25.0" width="1.0" height="1.0" fill="#8050c4"/><rect x="463.7" y="25.7" width="1.0" height="1.0" fill="#8050c4"/><rect x="463.5" y="32.0" width="1.0" height="1.0" fill="#8050c4"/><rect x="465.1" y="28.0" width="1.0" height="1.0" fill="#8050c4"/><rect x="460.0" y="28.7" width="1.0" height="1.0" fill="#8050c4"/><rect x="464.6" y="25.7" width="1.0" height="1.0" fill="#8050c4"/><rect x="461.5" y="31.7" width="1.0" height="1.0" fill="#8050c4"/><rect x="457.2" y="27.6" width="1.0" height="1.0" fill="#8050c4"/><rect x="459.6" y="32.6" width="1.0" height="1.0" fill="#8050c4"/><rect x="467.2" y="30.6" width="1.0" height="1.0" fill="#8050c4"/><rect x="466.2" y="29.8" width="1.0" height="1.0" fill="#8050c4"/><rect x="465.2" y="24.4" width="1.0" height="1.0" fill="#8050c4"/><rect x="465.4" y="30.9" width="1.0" height="1.0" fill="#8050c4"/><rect x="458.0" y="31.0" width="1.0" height="1.0" fill="#8050c4"/><rect x="466.8" y="24.7" width="1.0" height="1.0" fill="#8050c4"/><rect x="461.4" y="27.7" width="1.0" height="1.0" fill="#8050c4"/><rect x="461.2" y="30.2" width="1.0" height="1.0" fill="#8050c4"/><rect x="458.1" y="28.1" width="1.0" height="1.0" fill="#8050c4"/><rect x="465.2" y="31.3" width="1.0" height="1.0" fill="#8050c4"/><rect x="464.3" y="27.9" width="1.0" height="1.0" fill="#8050c4"/><rect x="466.5" y="24.2" width="1.0" height="1.0" fill="#8050c4"/><rect x="468.7" y="27.8" width="1.0" height="1.0" fill="#8050c4"/><rect x="458.2" y="27.5" width="1.0" height="1.0" fill="#8050c4"/><rect x="458.7" y="25.0" width="1.0" height="1.0" fill="#8050c4"/><rect x="462.3" y="26.2" width="1.0" height="1.0" fill="#8050c4"/><rect x="467.5" y="26.0" width="1.0" height="1.0" fill="#8050c4"/><rect x="458.5" y="26.2" width="1.0" height="1.0" fill="#8050c4"/><rect x="471.0" y="28.9" width="1.0" height="1.0" fill="#8050c4"/><rect x="461.1" y="25.7" width="1.0" height="1.0" fill="#8050c4"/><rect x="458.6" y="28.3" width="1.0" height="1.0" fill="#8050c4"/><rect x="466.0" y="32.3" width="1.0" height="1.0" fill="#8050c4"/><rect x="469.5" y="29.6" width="1.0" height="1.0" fill="#8050c4"/><rect x="460.8" y="26.0" width="1.0" height="1.0" fill="#8050c4"/><rect x="456.8" y="26.7" width="1.0" height="1.0" fill="#8050c4"/><rect x="466.3" y="27.6" width="1.0" height="1.0" fill="#8050c4"/><rect x="465.7" y="24.8" width="1.0" height="1.0" fill="#8050c4"/><rect x="468.6" y="29.8" width="1.0" height="1.0" fill="#8050c4"/><rect x="464.2" y="30.2" width="1.0" height="1.0" fill="#8050c4"/><rect x="456.5" y="27.6" width="1.0" height="1.0" fill="#8050c4"/><rect x="460.7" y="33.1" width="1.0" height="1.0" fill="#8050c4"/><rect x="463.0" y="27.0" width="1.0" height="1.0" fill="#8050c4"/><rect x="467.9" y="25.7" width="1.0" height="1.0" fill="#8050c4"/><rect x="470.1" y="26.9" width="1.0" height="1.0" fill="#8050c4"/><rect x="463.7" y="25.8" width="1.0" height="1.0" fill="#8050c4"/><rect x="466.7" y="24.1" width="1.0" height="1.0" fill="#8050c4"/><rect x="467.4" y="26.2" width="1.0" height="1.0" fill="#8050c4"/><rect x="464.2" y="25.2" width="1.0" height="1.0" fill="#8050c4"/><rect x="465.3" y="29.5" width="1.0" height="1.0" fill="#8050c4"/><rect x="467.2" y="29.9" width="1.0" height="1.0" fill="#8050c4"/><rect x="467.0" y="31.9" width="1.0" height="1.0" fill="#8050c4"/><rect x="462.2" y="25.2" width="1.0" height="1.0" fill="#8050c4"/><rect x="458.3" y="30.8" width="1.0" height="1.0" fill="#8050c4"/><rect x="462.2" y="32.1" width="1.0" height="1.0" fill="#8050c4"/><rect x="464.2" y="25.5" width="1.0" height="1.0" fill="#8050c4"/><rect x="467.2" y="33.3" width="1.0" height="1.0" fill="#8050c4"/><rect x="463.1" y="25.7" width="1.0" height="1.0" fill="#8050c4"/><rect x="460.0" y="31.5" width="1.0" height="1.0" fill="#8050c4"/><rect x="460.9" y="27.4" width="1.0" height="1.0" fill="#8050c4"/><rect x="467.7" y="28.8" width="1.0" height="1.0" fill="#8050c4"/><rect x="464.6" y="26.9" width="1.0" height="1.0" fill="#8050c4"/><rect x="460.6" y="29.4" width="1.0" height="1.0" fill="#8050c4"/><rect x="464.8" y="30.9" width="1.0" height="1.0" fill="#8050c4"/><rect x="461.3" y="30.0" width="1.0" height="1.0" fill="#8050c4"/><rect x="466.6" y="29.1" width="1.0" height="1.0" fill="#8050c4"/><rect x="466.8" y="32.0" width="1.0" height="1.0" fill="#8050c4"/><rect x="465.1" y="29.1" width="1.0" height="1.0" fill="#8050c4"/><rect x="459.2" y="29.9" width="1.0" height="1.0" fill="#8050c4"/><rect x="462.4" y="40.4" width="1.0" height="1.0" fill="#5a8ad6"/><rect x="458.1" y="43.3" width="1.0" height="1.0" fill="#5a8ad6"/><rect x="472.2" y="42.3" width="1.0" height="1.0" fill="#5a8ad6"/><rect x="463.6" y="43.0" width="1.0" height="1.0" fill="#5a8ad6"/><rect x="459.2" y="41.8" width="1.0" height="1.0" fill="#5a8ad6"/><rect x="459.0" y="39.5" width="1.0" height="1.0" fill="#5a8ad6"/><rect x="464.5" y="42.3" width="1.0" height="1.0" fill="#5a8ad6"/><rect x="462.3" y="38.9" width="1.0" height="1.0" fill="#5a8ad6"/><rect x="464.5" y="38.2" width="1.0" height="1.0" fill="#5a8ad6"/><rect x="467.8" y="40.4" width="1.0" height="1.0" fill="#5a8ad6"/><rect x="463.0" y="44.1" width="1.0" height="1.0" fill="#5a8ad6"/><rect x="466.0" y="37.9" width="1.0" height="1.0" fill="#5a8ad6"/><rect x="461.4" y="42.8" width="1.0" height="1.0" fill="#5a8ad6"/><rect x="459.1" y="37.0" width="1.0" height="1.0" fill="#5a8ad6"/><rect x="462.5" y="41.3" width="1.0" height="1.0" fill="#5a8ad6"/><rect x="465.8" y="41.8" width="1.0" height="1.0" fill="#5a8ad6"/><rect x="463.9" y="42.3" width="1.0" height="1.0" fill="#5a8ad6"/><rect x="470.2" y="42.8" width="1.0" height="1.0" fill="#5a8ad6"/><rect x="466.4" y="40.2" width="1.0" height="1.0" fill="#5a8ad6"/><rect x="469.5" y="40.9" width="1.0" height="1.0" fill="#5a8ad6"/><rect x="466.0" y="37.0" width="1.0" height="1.0" fill="#5a8ad6"/><rect x="464.6" y="41.2" width="1.0" height="1.0" fill="#5a8ad6"/><rect x="460.5" y="45.2" width="1.0" height="1.0" fill="#5a8ad6"/><rect x="465.7" y="41.0" width="1.0" height="1.0" fill="#5a8ad6"/><rect x="460.6" y="45.9" width="1.0" height="1.0" fill="#5a8ad6"/><rect x="467.5" y="43.6" width="1.0" height="1.0" fill="#5a8ad6"/><rect x="459.0" y="45.1" width="1.0" height="1.0" fill="#5a8ad6"/><rect x="466.6" y="40.6" width="1.0" height="1.0" fill="#5a8ad6"/><rect x="462.5" y="37.2" width="1.0" height="1.0" fill="#5a8ad6"/><rect x="466.6" y="38.3" width="1.0" height="1.0" fill="#5a8ad6"/><rect x="468.1" y="40.1" width="1.0" height="1.0" fill="#5a8ad6"/><rect x="459.1" y="42.7" width="1.0" height="1.0" fill="#5a8ad6"/><rect x="464.2" y="38.1" width="1.0" height="1.0" fill="#5a8ad6"/><rect x="462.5" y="43.5" width="1.0" height="1.0" fill="#5a8ad6"/><rect x="461.6" y="37.7" width="1.0" height="1.0" fill="#5a8ad6"/><rect x="461.6" y="38.5" width="1.0" height="1.0" fill="#5a8ad6"/><rect x="459.3" y="41.7" width="1.0" height="1.0" fill="#5a8ad6"/><rect x="462.6" y="40.8" width="1.0" height="1.0" fill="#5a8ad6"/><rect x="454.9" y="42.4" width="1.0" height="1.0" fill="#5a8ad6"/><rect x="461.7" y="40.1" width="1.0" height="1.0" fill="#5a8ad6"/><rect x="463.7" y="46.1" width="1.0" height="1.0" fill="#5a8ad6"/><rect x="457.4" y="37.8" width="1.0" height="1.0" fill="#5a8ad6"/><rect x="467.4" y="39.1" width="1.0" height="1.0" fill="#5a8ad6"/><rect x="469.5" y="38.9" width="1.0" height="1.0" fill="#5a8ad6"/><rect x="460.1" y="44.1" width="1.0" height="1.0" fill="#5a8ad6"/><rect x="468.4" y="42.9" width="1.0" height="1.0" fill="#5a8ad6"/><rect x="466.0" y="41.1" width="1.0" height="1.0" fill="#5a8ad6"/><rect x="460.1" y="40.8" width="1.0" height="1.0" fill="#5a8ad6"/><rect x="469.7" y="43.5" width="1.0" height="1.0" fill="#5a8ad6"/><rect x="463.1" y="42.6" width="1.0" height="1.0" fill="#5a8ad6"/><rect x="467.4" y="44.8" width="1.0" height="1.0" fill="#5a8ad6"/><rect x="462.1" y="41.2" width="1.0" height="1.0" fill="#5a8ad6"/><rect x="464.2" y="46.4" width="1.0" height="1.0" fill="#5a8ad6"/><rect x="464.3" y="45.2" width="1.0" height="1.0" fill="#5a8ad6"/><rect x="455.7" y="43.6" width="1.0" height="1.0" fill="#5a8ad6"/><rect x="456.3" y="38.8" width="1.0" height="1.0" fill="#5a8ad6"/><rect x="459.0" y="41.0" width="1.0" height="1.0" fill="#5a8ad6"/><rect x="464.2" y="42.8" width="1.0" height="1.0" fill="#5a8ad6"/><rect x="464.5" y="40.0" width="1.0" height="1.0" fill="#5a8ad6"/><rect x="472.2" y="42.2" width="1.0" height="1.0" fill="#5a8ad6"/><rect x="465.8" y="46.0" width="1.0" height="1.0" fill="#5a8ad6"/><rect x="468.6" y="43.3" width="1.0" height="1.0" fill="#5a8ad6"/><rect x="464.5" y="46.0" width="1.0" height="1.0" fill="#5a8ad6"/><rect x="457.3" y="38.8" width="1.0" height="1.0" fill="#5a8ad6"/><rect x="463.6" y="36.8" width="1.0" height="1.0" fill="#5a8ad6"/><rect x="458.8" y="44.7" width="1.0" height="1.0" fill="#5a8ad6"/><rect x="460.0" y="42.1" width="1.0" height="1.0" fill="#5a8ad6"/><rect x="466.7" y="38.2" width="1.0" height="1.0" fill="#5a8ad6"/><rect x="464.7" y="39.4" width="1.0" height="1.0" fill="#5a8ad6"/><rect x="456.7" y="40.7" width="1.0" height="1.0" fill="#5a8ad6"/><rect x="462.6" y="40.1" width="1.0" height="1.0" fill="#5a8ad6"/><rect x="459.2" y="44.4" width="1.0" height="1.0" fill="#5a8ad6"/><rect x="469.4" y="43.1" width="1.0" height="1.0" fill="#5a8ad6"/><rect x="462.4" y="38.3" width="1.0" height="1.0" fill="#5a8ad6"/><rect x="458.6" y="38.4" width="1.0" height="1.0" fill="#5a8ad6"/><rect x="464.3" y="44.4" width="1.0" height="1.0" fill="#5a8ad6"/><rect x="468.5" y="41.4" width="1.0" height="1.0" fill="#5a8ad6"/><rect x="460.5" y="42.1" width="1.0" height="1.0" fill="#5a8ad6"/><rect x="463.8" y="43.5" width="1.0" height="1.0" fill="#5a8ad6"/><rect x="470.3" y="39.7" width="1.0" height="1.0" fill="#5a8ad6"/><rect x="469.7" y="38.0" width="1.0" height="1.0" fill="#5a8ad6"/><rect x="456.0" y="38.4" width="1.0" height="1.0" fill="#5a8ad6"/><rect x="457.0" y="40.8" width="1.0" height="1.0" fill="#5a8ad6"/><rect x="471.6" y="40.0" width="1.0" height="1.0" fill="#5a8ad6"/><rect x="469.3" y="40.4" width="1.0" height="1.0" fill="#5a8ad6"/><rect x="463.9" y="38.3" width="1.0" height="1.0" fill="#5a8ad6"/><rect x="472.1" y="41.4" width="1.0" height="1.0" fill="#5a8ad6"/><rect x="460.6" y="46.2" width="1.0" height="1.0" fill="#5a8ad6"/><rect x="464.2" y="42.9" width="1.0" height="1.0" fill="#5a8ad6"/><rect x="462.1" y="38.8" width="1.0" height="1.0" fill="#5a8ad6"/><rect x="455.5" y="41.0" width="1.0" height="1.0" fill="#5a8ad6"/><rect x="470.9" y="42.6" width="1.0" height="1.0" fill="#5a8ad6"/><rect x="462.0" y="44.7" width="1.0" height="1.0" fill="#5a8ad6"/><rect x="458.4" y="45.1" width="1.0" height="1.0" fill="#5a8ad6"/><rect x="462.9" y="38.8" width="1.0" height="1.0" fill="#5a8ad6"/><rect x="467.1" y="43.2" width="1.0" height="1.0" fill="#5a8ad6"/><rect x="460.8" y="42.2" width="1.0" height="1.0" fill="#5a8ad6"/><rect x="467.7" y="45.1" width="1.0" height="1.0" fill="#5a8ad6"/><rect x="460.1" y="36.8" width="1.0" height="1.0" fill="#5a8ad6"/><rect x="471.8" y="40.9" width="1.0" height="1.0" fill="#5a8ad6"/><rect x="460.3" y="42.9" width="1.0" height="1.0" fill="#5a8ad6"/><rect x="460.5" y="44.6" width="1.0" height="1.0" fill="#5a8ad6"/><rect x="456.1" y="40.9" width="1.0" height="1.0" fill="#5a8ad6"/><rect x="457.4" y="45.1" width="1.0" height="1.0" fill="#5a8ad6"/><rect x="461.6" y="44.8" width="1.0" height="1.0" fill="#5a8ad6"/><rect x="469.5" y="38.6" width="1.0" height="1.0" fill="#5a8ad6"/><rect x="461.6" y="43.9" width="1.0" height="1.0" fill="#5a8ad6"/><rect x="463.3" y="41.0" width="1.0" height="1.0" fill="#5a8ad6"/><rect x="467.7" y="44.2" width="1.0" height="1.0" fill="#5a8ad6"/><rect x="459.2" y="41.0" width="1.0" height="1.0" fill="#5a8ad6"/>
<line x1="108.10" y1="16.70" x2="118.50" y2="16.70" stroke="#000" stroke-width="1.5"/><polygon points="124.00,16.70 118.00,19.30 118.00,14.10" fill="#000"/>
<line x1="108.10" y1="61.70" x2="118.50" y2="61.70" stroke="#000" stroke-width="1.5"/><polygon points="124.00,61.70 118.00,64.30 118.00,59.10" fill="#000"/>
<line x1="184.00" y1="16.70" x2="194.50" y2="16.70" stroke="#000" stroke-width="1.5"/><polygon points="200.00,16.70 194.00,19.30 194.00,14.10" fill="#000"/>
<line x1="184.00" y1="61.70" x2="194.50" y2="61.70" stroke="#000" stroke-width="1.5"/><polygon points="200.00,61.70 194.00,64.30 194.00,59.10" fill="#000"/>
<line x1="274.20" y1="17.70" x2="281.93" y2="25.10" stroke="#000" stroke-width="1.7"/><polygon points="285.90,28.90 279.77,26.63 283.36,22.87" fill="#000"/>
<line x1="274.20" y1="63.50" x2="282.03" y2="55.61" stroke="#000" stroke-width="1.7"/><polygon points="285.90,51.70 283.52,57.79 279.83,54.13" fill="#000"/>
<line x1="392.50" y1="40.00" x2="402.00" y2="40.00" stroke="#000" stroke-width="1.5"/><polygon points="407.50,40.00 401.50,42.60 401.50,37.40" fill="#000"/>
<text x="20.5" y="23.4" font-size="9.8" font-weight="bold" font-family="Carlito, 'Liberation Sans', sans-serif" textLength="14.6">CTL</text>
<text x="19.6" y="69.9" font-size="9.8" font-weight="bold" font-family="Carlito, 'Liberation Sans', sans-serif" textLength="16.0">SHR</text>
<text x="20.1" y="89.0" font-size="9.4" font-weight="bold" font-family="Carlito, 'Liberation Sans', sans-serif">a</text>
<text x="202.5" y="88.9" font-size="8.95" fill="#333" font-family="Carlito, 'Liberation Sans', sans-serif" textLength="70.8">Single cell digestion</text>
<text x="303.8" y="88.9" font-size="8.95" fill="#333" font-family="Carlito, 'Liberation Sans', sans-serif" textLength="68.7">Single cell RNA-seq</text>
<text x="429.5" y="88.9" font-size="8.95" fill="#333" font-family="Carlito, 'Liberation Sans', sans-serif" textLength="47.5">Data analysis</text>
</svg></body></html>
